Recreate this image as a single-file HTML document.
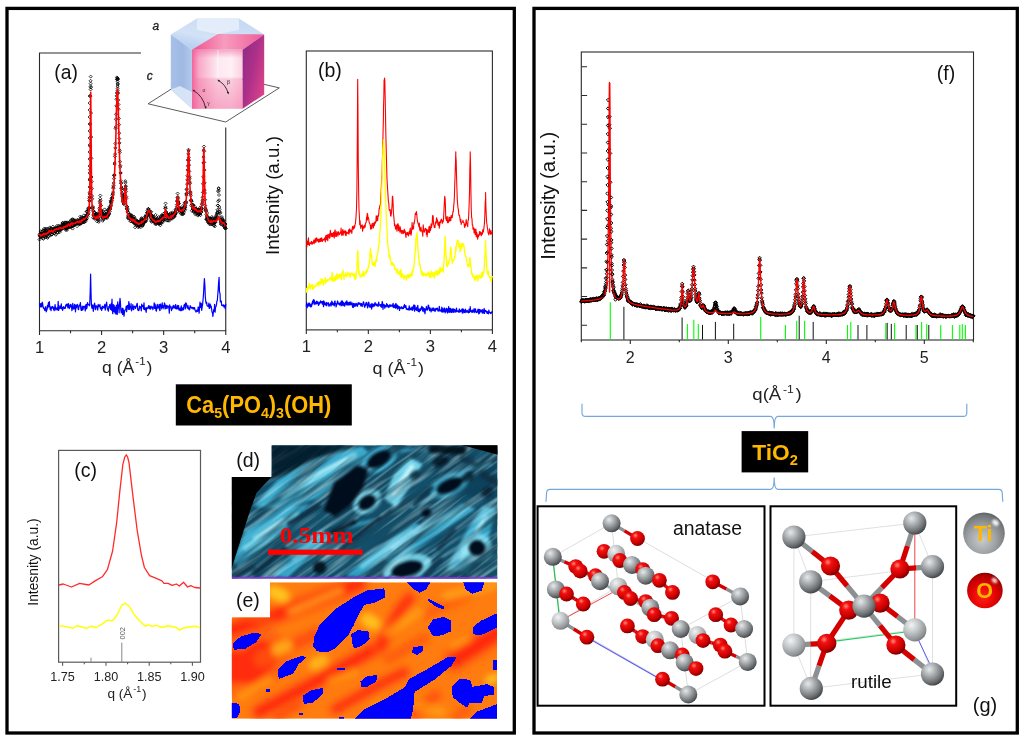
<!DOCTYPE html>
<html><head><meta charset="utf-8"><title>Figure</title>
<style>html,body{margin:0;padding:0;background:#fff}svg{display:block}text{white-space:pre}</style></head>
<body><svg width="1024" height="739" viewBox="0 0 1024 739">
<defs>
<linearGradient id="hbL" x1="0" y1="0" x2="1" y2="0"><stop offset="0" stop-color="#a7c0e8"/><stop offset="0.55" stop-color="#9fb9e3"/><stop offset="1" stop-color="#b4c9ec"/></linearGradient>
<linearGradient id="hbT" x1="0" y1="1" x2="0.7" y2="0"><stop offset="0" stop-color="#a9c5ee"/><stop offset="0.45" stop-color="#d3e2f6"/><stop offset="1" stop-color="#c6d9f3"/></linearGradient>
<linearGradient id="hpT" x1="0" y1="0" x2="1" y2="0"><stop offset="0" stop-color="#ef4f8c"/><stop offset="0.45" stop-color="#f79cbf"/><stop offset="1" stop-color="#ee5c96"/></linearGradient>
<linearGradient id="hpF" x1="0" y1="0" x2="1" y2="0"><stop offset="0" stop-color="#f1649c"/><stop offset="0.14" stop-color="#f8a9c7"/><stop offset="0.5" stop-color="#fde8f0"/><stop offset="0.78" stop-color="#fef0f5"/><stop offset="1" stop-color="#fbd0e0"/></linearGradient>
<linearGradient id="hpF2" x1="0" y1="0" x2="0" y2="1"><stop offset="0" stop-color="#f0609a" stop-opacity="0.5"/><stop offset="0.14" stop-color="#f0609a" stop-opacity="0"/><stop offset="0.46" stop-color="#f0609a" stop-opacity="0"/><stop offset="0.5" stop-color="#f2709f" stop-opacity="0.28"/><stop offset="1" stop-color="#f0649b" stop-opacity="0.5"/></linearGradient>
<linearGradient id="hpR" x1="0" y1="0" x2="1" y2="0.8"><stop offset="0" stop-color="#8c2a84"/><stop offset="0.5" stop-color="#ac3089"/><stop offset="1" stop-color="#de4389"/></linearGradient>
<clipPath id="cd"><path d="M271.7 445.2H497.5V578.7H231.8V476.9H271.7Z"/></clipPath>
<filter id="bl4" x="-10%" y="-10%" width="120%" height="120%"><feGaussianBlur stdDeviation="3.2"/></filter>
<filter id="bl3" x="-10%" y="-10%" width="120%" height="120%"><feGaussianBlur stdDeviation="2.6"/></filter>
<filter id="bl2" x="-10%" y="-10%" width="120%" height="120%"><feGaussianBlur stdDeviation="1.5"/></filter>
<filter id="bl1" x="-10%" y="-10%" width="120%" height="120%"><feGaussianBlur stdDeviation="0.8"/></filter>
<filter id="tex" x="0" y="0" width="100%" height="100%"><feTurbulence type="fractalNoise" baseFrequency="0.011 0.1" numOctaves="3" seed="14"/><feColorMatrix type="matrix" values="0 0 0 0 0.01  0 0 0 0 0.06  0 0 0 0 0.1  3.2 0 0 0 -1.45"/></filter>
<filter id="texl" x="0" y="0" width="100%" height="100%"><feTurbulence type="fractalNoise" baseFrequency="0.018 0.22" numOctaves="2" seed="9"/><feColorMatrix type="matrix" values="0 0 0 0 0.62  0 0 0 0 0.9  0 0 0 0 0.96  0 2.4 0 0 -1.05"/></filter>
<clipPath id="ce"><path d="M270 582.3H497.0V718.8H231.8V617.5H270Z"/></clipPath>
<radialGradient id="gTi" cx="0.36" cy="0.3" r="0.75"><stop offset="0" stop-color="#e6e9ea"/><stop offset="0.35" stop-color="#aeb2b4"/><stop offset="0.75" stop-color="#6e7274"/><stop offset="1" stop-color="#3c3f41"/></radialGradient>
<radialGradient id="gTiL" cx="0.36" cy="0.3" r="0.8"><stop offset="0" stop-color="#f2f4f4"/><stop offset="0.4" stop-color="#c2c6c8"/><stop offset="0.8" stop-color="#8e9294"/><stop offset="1" stop-color="#606466"/></radialGradient>
<radialGradient id="gO" cx="0.36" cy="0.3" r="0.75"><stop offset="0" stop-color="#ff8a7a"/><stop offset="0.25" stop-color="#f21010"/><stop offset="0.7" stop-color="#c80000"/><stop offset="1" stop-color="#6a0000"/></radialGradient>
<radialGradient id="lTi" cx="0.45" cy="0.66" r="0.72"><stop offset="0" stop-color="#c8ccce"/><stop offset="0.45" stop-color="#a0a4a6"/><stop offset="0.8" stop-color="#74787a"/><stop offset="1" stop-color="#505456"/></radialGradient>
<radialGradient id="lO" cx="0.45" cy="0.66" r="0.72"><stop offset="0" stop-color="#ff2418"/><stop offset="0.45" stop-color="#e80404"/><stop offset="0.8" stop-color="#b00000"/><stop offset="1" stop-color="#6c0000"/></radialGradient>
<filter id="blh" x="-50%" y="-50%" width="200%" height="200%"><feGaussianBlur stdDeviation="0.8"/></filter>
</defs>
<rect width="1024" height="739" fill="#fff"/>
<rect x="7" y="8.4" width="507.3" height="724.6" fill="none" stroke="#000" stroke-width="3.3"/>
<rect x="534" y="8.4" width="483.3" height="724.6" fill="none" stroke="#000" stroke-width="3.3"/>
<path d="M141 53.0H39.5V330.75H225.75V127.5" fill="none" stroke="#2a2a2a" stroke-width="1.1"/>
<path d="M39.50 330.75v4.2M101.58 330.75v4.2M163.67 330.75v4.2M225.75 330.75v4.2M70.54 330.75v2.4M132.62 330.75v2.4M194.71 330.75v2.4" stroke="#2a2a2a" stroke-width="1.1" fill="none"/>
<text x="39.5" y="353" font-size="16.6" text-anchor="middle" fill="#222" font-family="'Liberation Sans',sans-serif">1</text>
<text x="101.6" y="353" font-size="16.6" text-anchor="middle" fill="#222" font-family="'Liberation Sans',sans-serif">2</text>
<text x="163.7" y="353" font-size="16.6" text-anchor="middle" fill="#222" font-family="'Liberation Sans',sans-serif">3</text>
<text x="225.8" y="353" font-size="16.6" text-anchor="middle" fill="#222" font-family="'Liberation Sans',sans-serif">4</text>
<text x="102" y="372.5" font-size="16.8" fill="#222" textLength="50.5" lengthAdjust="spacingAndGlyphs" font-family="'Liberation Sans',sans-serif">q (Å<tspan dy="-7.5" dx="1" font-size="11">-1</tspan><tspan dy="7.5" dx="1">)</tspan></text>
<text x="54.3" y="79" font-size="19.3" fill="#111" font-family="'Liberation Sans',sans-serif">(a)</text>
<path d="M38.0 239.5l1.5 -1.5 1.5 1.5 -1.5 1.5zM38.2 234.5l1.5 -1.5 1.5 1.5 -1.5 1.5zM38.3 235.6l1.5 -1.5 1.5 1.5 -1.5 1.5zM38.5 236.4l1.5 -1.5 1.5 1.5 -1.5 1.5zM38.7 233.6l1.5 -1.5 1.5 1.5 -1.5 1.5zM38.8 235.3l1.5 -1.5 1.5 1.5 -1.5 1.5zM39.0 235.3l1.5 -1.5 1.5 1.5 -1.5 1.5zM39.2 231.2l1.5 -1.5 1.5 1.5 -1.5 1.5zM39.4 237.5l1.5 -1.5 1.5 1.5 -1.5 1.5zM39.5 236.5l1.5 -1.5 1.5 1.5 -1.5 1.5zM39.7 233.6l1.5 -1.5 1.5 1.5 -1.5 1.5zM39.9 234.6l1.5 -1.5 1.5 1.5 -1.5 1.5zM40.0 236.1l1.5 -1.5 1.5 1.5 -1.5 1.5zM40.2 234.2l1.5 -1.5 1.5 1.5 -1.5 1.5zM40.4 234.2l1.5 -1.5 1.5 1.5 -1.5 1.5zM40.5 231.4l1.5 -1.5 1.5 1.5 -1.5 1.5zM40.7 235.9l1.5 -1.5 1.5 1.5 -1.5 1.5zM40.9 234.9l1.5 -1.5 1.5 1.5 -1.5 1.5zM41.1 235.2l1.5 -1.5 1.5 1.5 -1.5 1.5zM41.2 230.9l1.5 -1.5 1.5 1.5 -1.5 1.5zM41.4 238.2l1.5 -1.5 1.5 1.5 -1.5 1.5zM41.6 234.7l1.5 -1.5 1.5 1.5 -1.5 1.5zM41.7 233.4l1.5 -1.5 1.5 1.5 -1.5 1.5zM41.9 238.9l1.5 -1.5 1.5 1.5 -1.5 1.5zM42.1 234.0l1.5 -1.5 1.5 1.5 -1.5 1.5zM42.2 230.7l1.5 -1.5 1.5 1.5 -1.5 1.5zM42.4 233.1l1.5 -1.5 1.5 1.5 -1.5 1.5zM42.6 228.7l1.5 -1.5 1.5 1.5 -1.5 1.5zM42.7 236.3l1.5 -1.5 1.5 1.5 -1.5 1.5zM42.9 232.9l1.5 -1.5 1.5 1.5 -1.5 1.5zM43.1 232.1l1.5 -1.5 1.5 1.5 -1.5 1.5zM43.3 236.2l1.5 -1.5 1.5 1.5 -1.5 1.5zM43.4 229.8l1.5 -1.5 1.5 1.5 -1.5 1.5zM43.6 234.8l1.5 -1.5 1.5 1.5 -1.5 1.5zM43.8 228.8l1.5 -1.5 1.5 1.5 -1.5 1.5zM43.9 231.9l1.5 -1.5 1.5 1.5 -1.5 1.5zM44.1 230.6l1.5 -1.5 1.5 1.5 -1.5 1.5zM44.3 236.7l1.5 -1.5 1.5 1.5 -1.5 1.5zM44.4 237.3l1.5 -1.5 1.5 1.5 -1.5 1.5zM44.6 232.4l1.5 -1.5 1.5 1.5 -1.5 1.5zM44.8 235.1l1.5 -1.5 1.5 1.5 -1.5 1.5zM44.9 232.7l1.5 -1.5 1.5 1.5 -1.5 1.5zM45.1 234.3l1.5 -1.5 1.5 1.5 -1.5 1.5zM45.3 231.2l1.5 -1.5 1.5 1.5 -1.5 1.5zM45.5 229.0l1.5 -1.5 1.5 1.5 -1.5 1.5zM45.6 228.7l1.5 -1.5 1.5 1.5 -1.5 1.5zM45.8 233.6l1.5 -1.5 1.5 1.5 -1.5 1.5zM46.0 237.9l1.5 -1.5 1.5 1.5 -1.5 1.5zM46.1 233.3l1.5 -1.5 1.5 1.5 -1.5 1.5zM46.3 231.4l1.5 -1.5 1.5 1.5 -1.5 1.5zM46.5 236.9l1.5 -1.5 1.5 1.5 -1.5 1.5zM46.6 233.0l1.5 -1.5 1.5 1.5 -1.5 1.5zM46.8 232.6l1.5 -1.5 1.5 1.5 -1.5 1.5zM47.0 232.9l1.5 -1.5 1.5 1.5 -1.5 1.5zM47.2 232.0l1.5 -1.5 1.5 1.5 -1.5 1.5zM47.3 231.5l1.5 -1.5 1.5 1.5 -1.5 1.5zM47.5 228.8l1.5 -1.5 1.5 1.5 -1.5 1.5zM47.7 233.2l1.5 -1.5 1.5 1.5 -1.5 1.5zM47.8 231.8l1.5 -1.5 1.5 1.5 -1.5 1.5zM48.0 234.7l1.5 -1.5 1.5 1.5 -1.5 1.5zM48.2 231.0l1.5 -1.5 1.5 1.5 -1.5 1.5zM48.3 227.4l1.5 -1.5 1.5 1.5 -1.5 1.5zM48.5 231.5l1.5 -1.5 1.5 1.5 -1.5 1.5zM48.7 235.6l1.5 -1.5 1.5 1.5 -1.5 1.5zM48.8 230.8l1.5 -1.5 1.5 1.5 -1.5 1.5zM49.0 229.5l1.5 -1.5 1.5 1.5 -1.5 1.5zM49.2 228.8l1.5 -1.5 1.5 1.5 -1.5 1.5zM49.4 229.0l1.5 -1.5 1.5 1.5 -1.5 1.5zM49.5 230.7l1.5 -1.5 1.5 1.5 -1.5 1.5zM49.7 228.6l1.5 -1.5 1.5 1.5 -1.5 1.5zM49.9 234.7l1.5 -1.5 1.5 1.5 -1.5 1.5zM50.0 230.5l1.5 -1.5 1.5 1.5 -1.5 1.5zM50.2 231.4l1.5 -1.5 1.5 1.5 -1.5 1.5zM50.4 234.4l1.5 -1.5 1.5 1.5 -1.5 1.5zM50.5 234.5l1.5 -1.5 1.5 1.5 -1.5 1.5zM50.7 230.5l1.5 -1.5 1.5 1.5 -1.5 1.5zM50.9 231.6l1.5 -1.5 1.5 1.5 -1.5 1.5zM51.0 232.5l1.5 -1.5 1.5 1.5 -1.5 1.5zM51.2 230.3l1.5 -1.5 1.5 1.5 -1.5 1.5zM51.4 226.6l1.5 -1.5 1.5 1.5 -1.5 1.5zM51.6 232.1l1.5 -1.5 1.5 1.5 -1.5 1.5zM51.7 232.6l1.5 -1.5 1.5 1.5 -1.5 1.5zM51.9 231.5l1.5 -1.5 1.5 1.5 -1.5 1.5zM52.1 228.3l1.5 -1.5 1.5 1.5 -1.5 1.5zM52.2 229.9l1.5 -1.5 1.5 1.5 -1.5 1.5zM52.4 228.9l1.5 -1.5 1.5 1.5 -1.5 1.5zM52.6 229.6l1.5 -1.5 1.5 1.5 -1.5 1.5zM52.7 233.2l1.5 -1.5 1.5 1.5 -1.5 1.5zM52.9 233.6l1.5 -1.5 1.5 1.5 -1.5 1.5zM53.1 231.6l1.5 -1.5 1.5 1.5 -1.5 1.5zM53.3 231.3l1.5 -1.5 1.5 1.5 -1.5 1.5zM53.4 231.5l1.5 -1.5 1.5 1.5 -1.5 1.5zM53.6 229.8l1.5 -1.5 1.5 1.5 -1.5 1.5zM53.8 229.6l1.5 -1.5 1.5 1.5 -1.5 1.5zM53.9 228.2l1.5 -1.5 1.5 1.5 -1.5 1.5zM54.1 229.5l1.5 -1.5 1.5 1.5 -1.5 1.5zM54.3 234.8l1.5 -1.5 1.5 1.5 -1.5 1.5zM54.4 231.5l1.5 -1.5 1.5 1.5 -1.5 1.5zM54.6 228.7l1.5 -1.5 1.5 1.5 -1.5 1.5zM54.8 228.3l1.5 -1.5 1.5 1.5 -1.5 1.5zM54.9 227.4l1.5 -1.5 1.5 1.5 -1.5 1.5zM55.1 230.2l1.5 -1.5 1.5 1.5 -1.5 1.5zM55.3 230.1l1.5 -1.5 1.5 1.5 -1.5 1.5zM55.5 225.8l1.5 -1.5 1.5 1.5 -1.5 1.5zM55.6 230.2l1.5 -1.5 1.5 1.5 -1.5 1.5zM55.8 227.7l1.5 -1.5 1.5 1.5 -1.5 1.5zM56.0 232.3l1.5 -1.5 1.5 1.5 -1.5 1.5zM56.1 229.3l1.5 -1.5 1.5 1.5 -1.5 1.5zM56.3 232.8l1.5 -1.5 1.5 1.5 -1.5 1.5zM56.5 227.7l1.5 -1.5 1.5 1.5 -1.5 1.5zM56.6 228.1l1.5 -1.5 1.5 1.5 -1.5 1.5zM56.8 229.4l1.5 -1.5 1.5 1.5 -1.5 1.5zM57.0 231.0l1.5 -1.5 1.5 1.5 -1.5 1.5zM57.2 229.9l1.5 -1.5 1.5 1.5 -1.5 1.5zM57.3 225.7l1.5 -1.5 1.5 1.5 -1.5 1.5zM57.5 228.9l1.5 -1.5 1.5 1.5 -1.5 1.5zM57.7 228.4l1.5 -1.5 1.5 1.5 -1.5 1.5zM57.8 227.3l1.5 -1.5 1.5 1.5 -1.5 1.5zM58.0 226.8l1.5 -1.5 1.5 1.5 -1.5 1.5zM58.2 232.2l1.5 -1.5 1.5 1.5 -1.5 1.5zM58.3 227.3l1.5 -1.5 1.5 1.5 -1.5 1.5zM58.5 226.2l1.5 -1.5 1.5 1.5 -1.5 1.5zM58.7 229.5l1.5 -1.5 1.5 1.5 -1.5 1.5zM58.8 228.3l1.5 -1.5 1.5 1.5 -1.5 1.5zM59.0 227.8l1.5 -1.5 1.5 1.5 -1.5 1.5zM59.2 229.7l1.5 -1.5 1.5 1.5 -1.5 1.5zM59.4 228.9l1.5 -1.5 1.5 1.5 -1.5 1.5zM59.5 228.6l1.5 -1.5 1.5 1.5 -1.5 1.5zM59.7 229.9l1.5 -1.5 1.5 1.5 -1.5 1.5zM59.9 228.3l1.5 -1.5 1.5 1.5 -1.5 1.5zM60.0 226.2l1.5 -1.5 1.5 1.5 -1.5 1.5zM60.2 226.7l1.5 -1.5 1.5 1.5 -1.5 1.5zM60.4 226.3l1.5 -1.5 1.5 1.5 -1.5 1.5zM60.5 227.9l1.5 -1.5 1.5 1.5 -1.5 1.5zM60.7 224.9l1.5 -1.5 1.5 1.5 -1.5 1.5zM60.9 223.1l1.5 -1.5 1.5 1.5 -1.5 1.5zM61.0 227.5l1.5 -1.5 1.5 1.5 -1.5 1.5zM61.2 224.1l1.5 -1.5 1.5 1.5 -1.5 1.5zM61.4 222.7l1.5 -1.5 1.5 1.5 -1.5 1.5zM61.6 227.9l1.5 -1.5 1.5 1.5 -1.5 1.5zM61.7 225.4l1.5 -1.5 1.5 1.5 -1.5 1.5zM61.9 228.1l1.5 -1.5 1.5 1.5 -1.5 1.5zM62.1 225.7l1.5 -1.5 1.5 1.5 -1.5 1.5zM62.2 224.3l1.5 -1.5 1.5 1.5 -1.5 1.5zM62.4 223.9l1.5 -1.5 1.5 1.5 -1.5 1.5zM62.6 225.6l1.5 -1.5 1.5 1.5 -1.5 1.5zM62.7 226.1l1.5 -1.5 1.5 1.5 -1.5 1.5zM62.9 224.7l1.5 -1.5 1.5 1.5 -1.5 1.5zM63.1 225.9l1.5 -1.5 1.5 1.5 -1.5 1.5zM63.3 223.0l1.5 -1.5 1.5 1.5 -1.5 1.5zM63.4 226.5l1.5 -1.5 1.5 1.5 -1.5 1.5zM63.6 222.3l1.5 -1.5 1.5 1.5 -1.5 1.5zM63.8 225.9l1.5 -1.5 1.5 1.5 -1.5 1.5zM63.9 227.9l1.5 -1.5 1.5 1.5 -1.5 1.5zM64.1 228.7l1.5 -1.5 1.5 1.5 -1.5 1.5zM64.3 230.1l1.5 -1.5 1.5 1.5 -1.5 1.5zM64.4 222.5l1.5 -1.5 1.5 1.5 -1.5 1.5zM64.6 227.8l1.5 -1.5 1.5 1.5 -1.5 1.5zM64.8 228.8l1.5 -1.5 1.5 1.5 -1.5 1.5zM64.9 228.2l1.5 -1.5 1.5 1.5 -1.5 1.5zM65.1 223.7l1.5 -1.5 1.5 1.5 -1.5 1.5zM65.3 226.8l1.5 -1.5 1.5 1.5 -1.5 1.5zM65.5 230.0l1.5 -1.5 1.5 1.5 -1.5 1.5zM65.6 222.3l1.5 -1.5 1.5 1.5 -1.5 1.5zM65.8 226.7l1.5 -1.5 1.5 1.5 -1.5 1.5zM66.0 228.2l1.5 -1.5 1.5 1.5 -1.5 1.5zM66.1 223.9l1.5 -1.5 1.5 1.5 -1.5 1.5zM66.3 226.8l1.5 -1.5 1.5 1.5 -1.5 1.5zM66.5 223.0l1.5 -1.5 1.5 1.5 -1.5 1.5zM66.6 223.5l1.5 -1.5 1.5 1.5 -1.5 1.5zM66.8 223.4l1.5 -1.5 1.5 1.5 -1.5 1.5zM67.0 225.7l1.5 -1.5 1.5 1.5 -1.5 1.5zM67.1 225.0l1.5 -1.5 1.5 1.5 -1.5 1.5zM67.3 227.3l1.5 -1.5 1.5 1.5 -1.5 1.5zM67.5 222.9l1.5 -1.5 1.5 1.5 -1.5 1.5zM67.7 224.7l1.5 -1.5 1.5 1.5 -1.5 1.5zM67.8 227.2l1.5 -1.5 1.5 1.5 -1.5 1.5zM68.0 226.2l1.5 -1.5 1.5 1.5 -1.5 1.5zM68.2 221.8l1.5 -1.5 1.5 1.5 -1.5 1.5zM68.3 226.3l1.5 -1.5 1.5 1.5 -1.5 1.5zM68.5 223.6l1.5 -1.5 1.5 1.5 -1.5 1.5zM68.7 225.5l1.5 -1.5 1.5 1.5 -1.5 1.5zM68.8 225.3l1.5 -1.5 1.5 1.5 -1.5 1.5zM69.0 227.3l1.5 -1.5 1.5 1.5 -1.5 1.5zM69.2 224.8l1.5 -1.5 1.5 1.5 -1.5 1.5zM69.4 220.2l1.5 -1.5 1.5 1.5 -1.5 1.5zM69.5 221.2l1.5 -1.5 1.5 1.5 -1.5 1.5zM69.7 226.0l1.5 -1.5 1.5 1.5 -1.5 1.5zM69.9 223.7l1.5 -1.5 1.5 1.5 -1.5 1.5zM70.0 226.8l1.5 -1.5 1.5 1.5 -1.5 1.5zM70.2 224.8l1.5 -1.5 1.5 1.5 -1.5 1.5zM70.4 222.3l1.5 -1.5 1.5 1.5 -1.5 1.5zM70.5 226.5l1.5 -1.5 1.5 1.5 -1.5 1.5zM70.7 222.1l1.5 -1.5 1.5 1.5 -1.5 1.5zM70.9 219.2l1.5 -1.5 1.5 1.5 -1.5 1.5zM71.0 228.6l1.5 -1.5 1.5 1.5 -1.5 1.5zM71.2 219.4l1.5 -1.5 1.5 1.5 -1.5 1.5zM71.4 225.2l1.5 -1.5 1.5 1.5 -1.5 1.5zM71.6 225.8l1.5 -1.5 1.5 1.5 -1.5 1.5zM71.7 223.9l1.5 -1.5 1.5 1.5 -1.5 1.5zM71.9 219.7l1.5 -1.5 1.5 1.5 -1.5 1.5zM72.1 225.8l1.5 -1.5 1.5 1.5 -1.5 1.5zM72.2 220.1l1.5 -1.5 1.5 1.5 -1.5 1.5zM72.4 220.3l1.5 -1.5 1.5 1.5 -1.5 1.5zM72.6 222.5l1.5 -1.5 1.5 1.5 -1.5 1.5zM72.7 225.0l1.5 -1.5 1.5 1.5 -1.5 1.5zM72.9 223.9l1.5 -1.5 1.5 1.5 -1.5 1.5zM73.1 225.0l1.5 -1.5 1.5 1.5 -1.5 1.5zM73.3 222.0l1.5 -1.5 1.5 1.5 -1.5 1.5zM73.4 222.6l1.5 -1.5 1.5 1.5 -1.5 1.5zM73.6 220.3l1.5 -1.5 1.5 1.5 -1.5 1.5zM73.8 222.1l1.5 -1.5 1.5 1.5 -1.5 1.5zM73.9 224.2l1.5 -1.5 1.5 1.5 -1.5 1.5zM74.1 222.0l1.5 -1.5 1.5 1.5 -1.5 1.5zM74.3 223.8l1.5 -1.5 1.5 1.5 -1.5 1.5zM74.4 221.3l1.5 -1.5 1.5 1.5 -1.5 1.5zM74.6 221.2l1.5 -1.5 1.5 1.5 -1.5 1.5zM74.8 222.6l1.5 -1.5 1.5 1.5 -1.5 1.5zM74.9 222.0l1.5 -1.5 1.5 1.5 -1.5 1.5zM75.1 223.7l1.5 -1.5 1.5 1.5 -1.5 1.5zM75.3 222.7l1.5 -1.5 1.5 1.5 -1.5 1.5zM75.5 226.2l1.5 -1.5 1.5 1.5 -1.5 1.5zM75.6 221.7l1.5 -1.5 1.5 1.5 -1.5 1.5zM75.8 221.6l1.5 -1.5 1.5 1.5 -1.5 1.5zM76.0 219.7l1.5 -1.5 1.5 1.5 -1.5 1.5zM76.1 222.1l1.5 -1.5 1.5 1.5 -1.5 1.5zM76.3 223.5l1.5 -1.5 1.5 1.5 -1.5 1.5zM76.5 220.2l1.5 -1.5 1.5 1.5 -1.5 1.5zM76.6 221.7l1.5 -1.5 1.5 1.5 -1.5 1.5zM76.8 223.4l1.5 -1.5 1.5 1.5 -1.5 1.5zM77.0 221.4l1.5 -1.5 1.5 1.5 -1.5 1.5zM77.1 220.4l1.5 -1.5 1.5 1.5 -1.5 1.5zM77.3 223.8l1.5 -1.5 1.5 1.5 -1.5 1.5zM77.5 221.7l1.5 -1.5 1.5 1.5 -1.5 1.5zM77.7 222.4l1.5 -1.5 1.5 1.5 -1.5 1.5zM77.8 224.1l1.5 -1.5 1.5 1.5 -1.5 1.5zM78.0 224.0l1.5 -1.5 1.5 1.5 -1.5 1.5zM78.2 220.5l1.5 -1.5 1.5 1.5 -1.5 1.5zM78.3 220.0l1.5 -1.5 1.5 1.5 -1.5 1.5zM78.5 221.8l1.5 -1.5 1.5 1.5 -1.5 1.5zM78.7 220.8l1.5 -1.5 1.5 1.5 -1.5 1.5zM78.8 216.6l1.5 -1.5 1.5 1.5 -1.5 1.5zM79.0 223.9l1.5 -1.5 1.5 1.5 -1.5 1.5zM79.2 220.9l1.5 -1.5 1.5 1.5 -1.5 1.5zM79.4 222.5l1.5 -1.5 1.5 1.5 -1.5 1.5zM79.5 218.0l1.5 -1.5 1.5 1.5 -1.5 1.5zM79.7 223.6l1.5 -1.5 1.5 1.5 -1.5 1.5zM79.9 219.2l1.5 -1.5 1.5 1.5 -1.5 1.5zM80.0 220.3l1.5 -1.5 1.5 1.5 -1.5 1.5zM80.2 217.2l1.5 -1.5 1.5 1.5 -1.5 1.5zM80.4 220.0l1.5 -1.5 1.5 1.5 -1.5 1.5zM80.5 219.8l1.5 -1.5 1.5 1.5 -1.5 1.5zM80.7 219.8l1.5 -1.5 1.5 1.5 -1.5 1.5zM80.9 221.2l1.5 -1.5 1.5 1.5 -1.5 1.5zM81.0 220.2l1.5 -1.5 1.5 1.5 -1.5 1.5zM81.2 222.2l1.5 -1.5 1.5 1.5 -1.5 1.5zM81.4 218.8l1.5 -1.5 1.5 1.5 -1.5 1.5zM81.6 217.5l1.5 -1.5 1.5 1.5 -1.5 1.5zM81.7 219.7l1.5 -1.5 1.5 1.5 -1.5 1.5zM81.9 221.1l1.5 -1.5 1.5 1.5 -1.5 1.5zM82.1 222.4l1.5 -1.5 1.5 1.5 -1.5 1.5zM82.2 221.3l1.5 -1.5 1.5 1.5 -1.5 1.5zM82.4 215.3l1.5 -1.5 1.5 1.5 -1.5 1.5zM82.6 220.1l1.5 -1.5 1.5 1.5 -1.5 1.5zM82.7 222.5l1.5 -1.5 1.5 1.5 -1.5 1.5zM82.9 219.2l1.5 -1.5 1.5 1.5 -1.5 1.5zM83.1 217.7l1.5 -1.5 1.5 1.5 -1.5 1.5zM83.2 219.5l1.5 -1.5 1.5 1.5 -1.5 1.5zM83.4 217.5l1.5 -1.5 1.5 1.5 -1.5 1.5zM83.6 220.0l1.5 -1.5 1.5 1.5 -1.5 1.5zM83.8 218.4l1.5 -1.5 1.5 1.5 -1.5 1.5zM83.9 221.5l1.5 -1.5 1.5 1.5 -1.5 1.5zM84.1 219.2l1.5 -1.5 1.5 1.5 -1.5 1.5zM84.3 216.3l1.5 -1.5 1.5 1.5 -1.5 1.5zM84.4 219.1l1.5 -1.5 1.5 1.5 -1.5 1.5zM84.6 219.7l1.5 -1.5 1.5 1.5 -1.5 1.5zM84.8 216.0l1.5 -1.5 1.5 1.5 -1.5 1.5zM84.9 216.1l1.5 -1.5 1.5 1.5 -1.5 1.5zM85.1 211.6l1.5 -1.5 1.5 1.5 -1.5 1.5zM85.3 218.7l1.5 -1.5 1.5 1.5 -1.5 1.5zM85.5 214.9l1.5 -1.5 1.5 1.5 -1.5 1.5zM85.6 211.1l1.5 -1.5 1.5 1.5 -1.5 1.5zM85.8 211.5l1.5 -1.5 1.5 1.5 -1.5 1.5zM86.0 214.6l1.5 -1.5 1.5 1.5 -1.5 1.5zM86.1 216.4l1.5 -1.5 1.5 1.5 -1.5 1.5zM86.3 213.9l1.5 -1.5 1.5 1.5 -1.5 1.5zM86.5 214.5l1.5 -1.5 1.5 1.5 -1.5 1.5zM86.6 210.1l1.5 -1.5 1.5 1.5 -1.5 1.5zM86.8 208.6l1.5 -1.5 1.5 1.5 -1.5 1.5zM87.0 212.7l1.5 -1.5 1.5 1.5 -1.5 1.5zM87.1 210.4l1.5 -1.5 1.5 1.5 -1.5 1.5zM87.3 207.5l1.5 -1.5 1.5 1.5 -1.5 1.5zM87.5 208.4l1.5 -1.5 1.5 1.5 -1.5 1.5zM87.7 200.6l1.5 -1.5 1.5 1.5 -1.5 1.5zM87.8 198.3l1.5 -1.5 1.5 1.5 -1.5 1.5zM88.0 196.9l1.5 -1.5 1.5 1.5 -1.5 1.5zM88.2 192.3l1.5 -1.5 1.5 1.5 -1.5 1.5zM88.3 179.0l1.5 -1.5 1.5 1.5 -1.5 1.5zM88.5 169.8l1.5 -1.5 1.5 1.5 -1.5 1.5zM88.7 146.2l1.5 -1.5 1.5 1.5 -1.5 1.5zM88.8 123.9l1.5 -1.5 1.5 1.5 -1.5 1.5zM89.0 96.1l1.5 -1.5 1.5 1.5 -1.5 1.5zM89.2 76.6l1.5 -1.5 1.5 1.5 -1.5 1.5zM89.4 87.5l1.5 -1.5 1.5 1.5 -1.5 1.5zM89.5 113.0l1.5 -1.5 1.5 1.5 -1.5 1.5zM89.7 137.0l1.5 -1.5 1.5 1.5 -1.5 1.5zM89.9 158.4l1.5 -1.5 1.5 1.5 -1.5 1.5zM90.0 177.0l1.5 -1.5 1.5 1.5 -1.5 1.5zM90.2 181.6l1.5 -1.5 1.5 1.5 -1.5 1.5zM90.4 188.6l1.5 -1.5 1.5 1.5 -1.5 1.5zM90.5 196.0l1.5 -1.5 1.5 1.5 -1.5 1.5zM90.7 198.8l1.5 -1.5 1.5 1.5 -1.5 1.5zM90.9 207.6l1.5 -1.5 1.5 1.5 -1.5 1.5zM91.0 207.5l1.5 -1.5 1.5 1.5 -1.5 1.5zM91.2 206.6l1.5 -1.5 1.5 1.5 -1.5 1.5zM91.4 208.7l1.5 -1.5 1.5 1.5 -1.5 1.5zM91.6 217.8l1.5 -1.5 1.5 1.5 -1.5 1.5zM91.7 210.8l1.5 -1.5 1.5 1.5 -1.5 1.5zM91.9 211.2l1.5 -1.5 1.5 1.5 -1.5 1.5zM92.1 214.3l1.5 -1.5 1.5 1.5 -1.5 1.5zM92.2 215.6l1.5 -1.5 1.5 1.5 -1.5 1.5zM92.4 215.1l1.5 -1.5 1.5 1.5 -1.5 1.5zM92.6 212.9l1.5 -1.5 1.5 1.5 -1.5 1.5zM92.7 212.7l1.5 -1.5 1.5 1.5 -1.5 1.5zM92.9 217.0l1.5 -1.5 1.5 1.5 -1.5 1.5zM93.1 215.8l1.5 -1.5 1.5 1.5 -1.5 1.5zM93.2 212.4l1.5 -1.5 1.5 1.5 -1.5 1.5zM93.4 219.0l1.5 -1.5 1.5 1.5 -1.5 1.5zM93.6 218.3l1.5 -1.5 1.5 1.5 -1.5 1.5zM93.8 216.1l1.5 -1.5 1.5 1.5 -1.5 1.5zM93.9 216.2l1.5 -1.5 1.5 1.5 -1.5 1.5zM94.1 217.4l1.5 -1.5 1.5 1.5 -1.5 1.5zM94.3 215.4l1.5 -1.5 1.5 1.5 -1.5 1.5zM94.4 214.0l1.5 -1.5 1.5 1.5 -1.5 1.5zM94.6 217.9l1.5 -1.5 1.5 1.5 -1.5 1.5zM94.8 213.9l1.5 -1.5 1.5 1.5 -1.5 1.5zM94.9 218.2l1.5 -1.5 1.5 1.5 -1.5 1.5zM95.1 214.0l1.5 -1.5 1.5 1.5 -1.5 1.5zM95.3 217.1l1.5 -1.5 1.5 1.5 -1.5 1.5zM95.5 217.0l1.5 -1.5 1.5 1.5 -1.5 1.5zM95.6 221.4l1.5 -1.5 1.5 1.5 -1.5 1.5zM95.8 214.9l1.5 -1.5 1.5 1.5 -1.5 1.5zM96.0 214.0l1.5 -1.5 1.5 1.5 -1.5 1.5zM96.1 215.7l1.5 -1.5 1.5 1.5 -1.5 1.5zM96.3 214.6l1.5 -1.5 1.5 1.5 -1.5 1.5zM96.5 215.7l1.5 -1.5 1.5 1.5 -1.5 1.5zM96.6 217.9l1.5 -1.5 1.5 1.5 -1.5 1.5zM96.8 218.5l1.5 -1.5 1.5 1.5 -1.5 1.5zM97.0 220.3l1.5 -1.5 1.5 1.5 -1.5 1.5zM97.1 214.5l1.5 -1.5 1.5 1.5 -1.5 1.5zM97.3 221.9l1.5 -1.5 1.5 1.5 -1.5 1.5zM97.5 219.8l1.5 -1.5 1.5 1.5 -1.5 1.5zM97.7 214.0l1.5 -1.5 1.5 1.5 -1.5 1.5zM97.8 208.2l1.5 -1.5 1.5 1.5 -1.5 1.5zM98.0 211.8l1.5 -1.5 1.5 1.5 -1.5 1.5zM98.2 210.0l1.5 -1.5 1.5 1.5 -1.5 1.5zM98.3 201.6l1.5 -1.5 1.5 1.5 -1.5 1.5zM98.5 203.2l1.5 -1.5 1.5 1.5 -1.5 1.5zM98.7 198.7l1.5 -1.5 1.5 1.5 -1.5 1.5zM98.8 195.5l1.5 -1.5 1.5 1.5 -1.5 1.5zM99.0 200.5l1.5 -1.5 1.5 1.5 -1.5 1.5zM99.2 205.3l1.5 -1.5 1.5 1.5 -1.5 1.5zM99.3 205.7l1.5 -1.5 1.5 1.5 -1.5 1.5zM99.5 210.3l1.5 -1.5 1.5 1.5 -1.5 1.5zM99.7 210.4l1.5 -1.5 1.5 1.5 -1.5 1.5zM99.9 211.6l1.5 -1.5 1.5 1.5 -1.5 1.5zM100.0 214.6l1.5 -1.5 1.5 1.5 -1.5 1.5zM100.2 216.4l1.5 -1.5 1.5 1.5 -1.5 1.5zM100.4 214.4l1.5 -1.5 1.5 1.5 -1.5 1.5zM100.5 210.9l1.5 -1.5 1.5 1.5 -1.5 1.5zM100.7 217.7l1.5 -1.5 1.5 1.5 -1.5 1.5zM100.9 212.8l1.5 -1.5 1.5 1.5 -1.5 1.5zM101.0 216.9l1.5 -1.5 1.5 1.5 -1.5 1.5zM101.2 220.8l1.5 -1.5 1.5 1.5 -1.5 1.5zM101.4 216.8l1.5 -1.5 1.5 1.5 -1.5 1.5zM101.6 214.1l1.5 -1.5 1.5 1.5 -1.5 1.5zM101.7 213.5l1.5 -1.5 1.5 1.5 -1.5 1.5zM101.9 219.5l1.5 -1.5 1.5 1.5 -1.5 1.5zM102.1 216.8l1.5 -1.5 1.5 1.5 -1.5 1.5zM102.2 218.0l1.5 -1.5 1.5 1.5 -1.5 1.5zM102.4 218.9l1.5 -1.5 1.5 1.5 -1.5 1.5zM102.6 216.6l1.5 -1.5 1.5 1.5 -1.5 1.5zM102.7 215.9l1.5 -1.5 1.5 1.5 -1.5 1.5zM102.9 214.4l1.5 -1.5 1.5 1.5 -1.5 1.5zM103.1 209.4l1.5 -1.5 1.5 1.5 -1.5 1.5zM103.2 212.9l1.5 -1.5 1.5 1.5 -1.5 1.5zM103.4 216.1l1.5 -1.5 1.5 1.5 -1.5 1.5zM103.6 215.8l1.5 -1.5 1.5 1.5 -1.5 1.5zM103.8 217.0l1.5 -1.5 1.5 1.5 -1.5 1.5zM103.9 215.7l1.5 -1.5 1.5 1.5 -1.5 1.5zM104.1 216.2l1.5 -1.5 1.5 1.5 -1.5 1.5zM104.3 217.5l1.5 -1.5 1.5 1.5 -1.5 1.5zM104.4 213.6l1.5 -1.5 1.5 1.5 -1.5 1.5zM104.6 214.8l1.5 -1.5 1.5 1.5 -1.5 1.5zM104.8 211.6l1.5 -1.5 1.5 1.5 -1.5 1.5zM104.9 217.4l1.5 -1.5 1.5 1.5 -1.5 1.5zM105.1 215.1l1.5 -1.5 1.5 1.5 -1.5 1.5zM105.3 215.9l1.5 -1.5 1.5 1.5 -1.5 1.5zM105.4 218.2l1.5 -1.5 1.5 1.5 -1.5 1.5zM105.6 216.9l1.5 -1.5 1.5 1.5 -1.5 1.5zM105.8 214.1l1.5 -1.5 1.5 1.5 -1.5 1.5zM106.0 215.8l1.5 -1.5 1.5 1.5 -1.5 1.5zM106.1 210.5l1.5 -1.5 1.5 1.5 -1.5 1.5zM106.3 214.5l1.5 -1.5 1.5 1.5 -1.5 1.5zM106.5 213.6l1.5 -1.5 1.5 1.5 -1.5 1.5zM106.6 209.3l1.5 -1.5 1.5 1.5 -1.5 1.5zM106.8 215.8l1.5 -1.5 1.5 1.5 -1.5 1.5zM107.0 210.8l1.5 -1.5 1.5 1.5 -1.5 1.5zM107.1 213.7l1.5 -1.5 1.5 1.5 -1.5 1.5zM107.3 210.8l1.5 -1.5 1.5 1.5 -1.5 1.5zM107.5 213.7l1.5 -1.5 1.5 1.5 -1.5 1.5zM107.7 214.1l1.5 -1.5 1.5 1.5 -1.5 1.5zM107.8 208.8l1.5 -1.5 1.5 1.5 -1.5 1.5zM108.0 206.8l1.5 -1.5 1.5 1.5 -1.5 1.5zM108.2 209.6l1.5 -1.5 1.5 1.5 -1.5 1.5zM108.3 211.4l1.5 -1.5 1.5 1.5 -1.5 1.5zM108.5 208.1l1.5 -1.5 1.5 1.5 -1.5 1.5zM108.7 207.0l1.5 -1.5 1.5 1.5 -1.5 1.5zM108.8 209.0l1.5 -1.5 1.5 1.5 -1.5 1.5zM109.0 200.9l1.5 -1.5 1.5 1.5 -1.5 1.5zM109.2 205.1l1.5 -1.5 1.5 1.5 -1.5 1.5zM109.3 202.8l1.5 -1.5 1.5 1.5 -1.5 1.5zM109.5 205.9l1.5 -1.5 1.5 1.5 -1.5 1.5zM109.7 202.8l1.5 -1.5 1.5 1.5 -1.5 1.5zM109.9 201.1l1.5 -1.5 1.5 1.5 -1.5 1.5zM110.0 202.0l1.5 -1.5 1.5 1.5 -1.5 1.5zM110.2 198.5l1.5 -1.5 1.5 1.5 -1.5 1.5zM110.4 200.8l1.5 -1.5 1.5 1.5 -1.5 1.5zM110.5 198.1l1.5 -1.5 1.5 1.5 -1.5 1.5zM110.7 197.7l1.5 -1.5 1.5 1.5 -1.5 1.5zM110.9 195.6l1.5 -1.5 1.5 1.5 -1.5 1.5zM111.0 198.0l1.5 -1.5 1.5 1.5 -1.5 1.5zM111.2 194.1l1.5 -1.5 1.5 1.5 -1.5 1.5zM111.4 194.0l1.5 -1.5 1.5 1.5 -1.5 1.5zM111.6 192.1l1.5 -1.5 1.5 1.5 -1.5 1.5zM111.7 187.2l1.5 -1.5 1.5 1.5 -1.5 1.5zM111.9 188.3l1.5 -1.5 1.5 1.5 -1.5 1.5zM112.1 185.5l1.5 -1.5 1.5 1.5 -1.5 1.5zM112.2 183.0l1.5 -1.5 1.5 1.5 -1.5 1.5zM112.4 178.6l1.5 -1.5 1.5 1.5 -1.5 1.5zM112.6 175.6l1.5 -1.5 1.5 1.5 -1.5 1.5zM112.7 175.2l1.5 -1.5 1.5 1.5 -1.5 1.5zM112.9 174.9l1.5 -1.5 1.5 1.5 -1.5 1.5zM113.1 164.1l1.5 -1.5 1.5 1.5 -1.5 1.5zM113.2 163.0l1.5 -1.5 1.5 1.5 -1.5 1.5zM113.4 156.4l1.5 -1.5 1.5 1.5 -1.5 1.5zM113.6 154.1l1.5 -1.5 1.5 1.5 -1.5 1.5zM113.8 147.9l1.5 -1.5 1.5 1.5 -1.5 1.5zM113.9 143.5l1.5 -1.5 1.5 1.5 -1.5 1.5zM114.1 128.5l1.5 -1.5 1.5 1.5 -1.5 1.5zM114.3 127.0l1.5 -1.5 1.5 1.5 -1.5 1.5zM114.4 119.3l1.5 -1.5 1.5 1.5 -1.5 1.5zM114.6 114.3l1.5 -1.5 1.5 1.5 -1.5 1.5zM114.8 105.9l1.5 -1.5 1.5 1.5 -1.5 1.5zM114.9 99.3l1.5 -1.5 1.5 1.5 -1.5 1.5zM115.1 95.9l1.5 -1.5 1.5 1.5 -1.5 1.5zM115.3 93.0l1.5 -1.5 1.5 1.5 -1.5 1.5zM115.4 77.4l1.5 -1.5 1.5 1.5 -1.5 1.5zM115.6 79.7l1.5 -1.5 1.5 1.5 -1.5 1.5zM115.8 79.2l1.5 -1.5 1.5 1.5 -1.5 1.5zM116.0 78.1l1.5 -1.5 1.5 1.5 -1.5 1.5zM116.1 78.5l1.5 -1.5 1.5 1.5 -1.5 1.5zM116.3 79.0l1.5 -1.5 1.5 1.5 -1.5 1.5zM116.5 84.1l1.5 -1.5 1.5 1.5 -1.5 1.5zM116.6 93.2l1.5 -1.5 1.5 1.5 -1.5 1.5zM116.8 100.1l1.5 -1.5 1.5 1.5 -1.5 1.5zM117.0 104.5l1.5 -1.5 1.5 1.5 -1.5 1.5zM117.1 109.3l1.5 -1.5 1.5 1.5 -1.5 1.5zM117.3 118.5l1.5 -1.5 1.5 1.5 -1.5 1.5zM117.5 124.7l1.5 -1.5 1.5 1.5 -1.5 1.5zM117.7 133.2l1.5 -1.5 1.5 1.5 -1.5 1.5zM117.8 138.6l1.5 -1.5 1.5 1.5 -1.5 1.5zM118.0 142.9l1.5 -1.5 1.5 1.5 -1.5 1.5zM118.2 150.3l1.5 -1.5 1.5 1.5 -1.5 1.5zM118.3 152.4l1.5 -1.5 1.5 1.5 -1.5 1.5zM118.5 161.7l1.5 -1.5 1.5 1.5 -1.5 1.5zM118.7 167.0l1.5 -1.5 1.5 1.5 -1.5 1.5zM118.8 165.5l1.5 -1.5 1.5 1.5 -1.5 1.5zM119.0 172.9l1.5 -1.5 1.5 1.5 -1.5 1.5zM119.2 173.0l1.5 -1.5 1.5 1.5 -1.5 1.5zM119.3 180.8l1.5 -1.5 1.5 1.5 -1.5 1.5zM119.5 183.2l1.5 -1.5 1.5 1.5 -1.5 1.5zM119.7 183.1l1.5 -1.5 1.5 1.5 -1.5 1.5zM119.9 188.3l1.5 -1.5 1.5 1.5 -1.5 1.5zM120.0 187.1l1.5 -1.5 1.5 1.5 -1.5 1.5zM120.2 188.5l1.5 -1.5 1.5 1.5 -1.5 1.5zM120.4 190.5l1.5 -1.5 1.5 1.5 -1.5 1.5zM120.5 193.0l1.5 -1.5 1.5 1.5 -1.5 1.5zM120.7 194.1l1.5 -1.5 1.5 1.5 -1.5 1.5zM120.9 196.4l1.5 -1.5 1.5 1.5 -1.5 1.5zM121.0 195.8l1.5 -1.5 1.5 1.5 -1.5 1.5zM121.2 200.0l1.5 -1.5 1.5 1.5 -1.5 1.5zM121.4 201.5l1.5 -1.5 1.5 1.5 -1.5 1.5zM121.5 198.8l1.5 -1.5 1.5 1.5 -1.5 1.5zM121.7 197.3l1.5 -1.5 1.5 1.5 -1.5 1.5zM121.9 202.7l1.5 -1.5 1.5 1.5 -1.5 1.5zM122.1 204.0l1.5 -1.5 1.5 1.5 -1.5 1.5zM122.2 201.2l1.5 -1.5 1.5 1.5 -1.5 1.5zM122.4 198.5l1.5 -1.5 1.5 1.5 -1.5 1.5zM122.6 201.7l1.5 -1.5 1.5 1.5 -1.5 1.5zM122.7 203.9l1.5 -1.5 1.5 1.5 -1.5 1.5zM122.9 194.9l1.5 -1.5 1.5 1.5 -1.5 1.5zM123.1 198.5l1.5 -1.5 1.5 1.5 -1.5 1.5zM123.2 194.2l1.5 -1.5 1.5 1.5 -1.5 1.5zM123.4 189.7l1.5 -1.5 1.5 1.5 -1.5 1.5zM123.6 188.9l1.5 -1.5 1.5 1.5 -1.5 1.5zM123.8 181.1l1.5 -1.5 1.5 1.5 -1.5 1.5zM123.9 182.8l1.5 -1.5 1.5 1.5 -1.5 1.5zM124.1 185.9l1.5 -1.5 1.5 1.5 -1.5 1.5zM124.3 186.7l1.5 -1.5 1.5 1.5 -1.5 1.5zM124.4 189.0l1.5 -1.5 1.5 1.5 -1.5 1.5zM124.6 191.5l1.5 -1.5 1.5 1.5 -1.5 1.5zM124.8 196.6l1.5 -1.5 1.5 1.5 -1.5 1.5zM124.9 198.5l1.5 -1.5 1.5 1.5 -1.5 1.5zM125.1 208.9l1.5 -1.5 1.5 1.5 -1.5 1.5zM125.3 206.6l1.5 -1.5 1.5 1.5 -1.5 1.5zM125.4 206.4l1.5 -1.5 1.5 1.5 -1.5 1.5zM125.6 207.1l1.5 -1.5 1.5 1.5 -1.5 1.5zM125.8 208.6l1.5 -1.5 1.5 1.5 -1.5 1.5zM126.0 211.2l1.5 -1.5 1.5 1.5 -1.5 1.5zM126.1 209.8l1.5 -1.5 1.5 1.5 -1.5 1.5zM126.3 217.2l1.5 -1.5 1.5 1.5 -1.5 1.5zM126.5 212.2l1.5 -1.5 1.5 1.5 -1.5 1.5zM126.6 212.6l1.5 -1.5 1.5 1.5 -1.5 1.5zM126.8 215.5l1.5 -1.5 1.5 1.5 -1.5 1.5zM127.0 218.6l1.5 -1.5 1.5 1.5 -1.5 1.5zM127.1 218.6l1.5 -1.5 1.5 1.5 -1.5 1.5zM127.3 214.8l1.5 -1.5 1.5 1.5 -1.5 1.5zM127.5 216.8l1.5 -1.5 1.5 1.5 -1.5 1.5zM127.7 216.8l1.5 -1.5 1.5 1.5 -1.5 1.5zM127.8 217.9l1.5 -1.5 1.5 1.5 -1.5 1.5zM128.0 217.6l1.5 -1.5 1.5 1.5 -1.5 1.5zM128.2 215.0l1.5 -1.5 1.5 1.5 -1.5 1.5zM128.3 214.5l1.5 -1.5 1.5 1.5 -1.5 1.5zM128.5 218.1l1.5 -1.5 1.5 1.5 -1.5 1.5zM128.7 215.1l1.5 -1.5 1.5 1.5 -1.5 1.5zM128.8 221.2l1.5 -1.5 1.5 1.5 -1.5 1.5zM129.0 218.3l1.5 -1.5 1.5 1.5 -1.5 1.5zM129.2 216.1l1.5 -1.5 1.5 1.5 -1.5 1.5zM129.3 217.9l1.5 -1.5 1.5 1.5 -1.5 1.5zM129.5 217.6l1.5 -1.5 1.5 1.5 -1.5 1.5zM129.7 218.6l1.5 -1.5 1.5 1.5 -1.5 1.5zM129.9 221.3l1.5 -1.5 1.5 1.5 -1.5 1.5zM130.0 215.9l1.5 -1.5 1.5 1.5 -1.5 1.5zM130.2 215.1l1.5 -1.5 1.5 1.5 -1.5 1.5zM130.4 220.3l1.5 -1.5 1.5 1.5 -1.5 1.5zM130.5 219.3l1.5 -1.5 1.5 1.5 -1.5 1.5zM130.7 220.2l1.5 -1.5 1.5 1.5 -1.5 1.5zM130.9 220.9l1.5 -1.5 1.5 1.5 -1.5 1.5zM131.0 219.6l1.5 -1.5 1.5 1.5 -1.5 1.5zM131.2 222.0l1.5 -1.5 1.5 1.5 -1.5 1.5zM131.4 218.2l1.5 -1.5 1.5 1.5 -1.5 1.5zM131.5 220.5l1.5 -1.5 1.5 1.5 -1.5 1.5zM131.7 218.6l1.5 -1.5 1.5 1.5 -1.5 1.5zM131.9 218.0l1.5 -1.5 1.5 1.5 -1.5 1.5zM132.1 222.1l1.5 -1.5 1.5 1.5 -1.5 1.5zM132.2 222.1l1.5 -1.5 1.5 1.5 -1.5 1.5zM132.4 216.5l1.5 -1.5 1.5 1.5 -1.5 1.5zM132.6 218.4l1.5 -1.5 1.5 1.5 -1.5 1.5zM132.7 221.8l1.5 -1.5 1.5 1.5 -1.5 1.5zM132.9 223.7l1.5 -1.5 1.5 1.5 -1.5 1.5zM133.1 219.8l1.5 -1.5 1.5 1.5 -1.5 1.5zM133.2 221.0l1.5 -1.5 1.5 1.5 -1.5 1.5zM133.4 218.2l1.5 -1.5 1.5 1.5 -1.5 1.5zM133.6 227.3l1.5 -1.5 1.5 1.5 -1.5 1.5zM133.8 222.7l1.5 -1.5 1.5 1.5 -1.5 1.5zM133.9 223.8l1.5 -1.5 1.5 1.5 -1.5 1.5zM134.1 223.3l1.5 -1.5 1.5 1.5 -1.5 1.5zM134.3 224.0l1.5 -1.5 1.5 1.5 -1.5 1.5zM134.4 223.4l1.5 -1.5 1.5 1.5 -1.5 1.5zM134.6 221.3l1.5 -1.5 1.5 1.5 -1.5 1.5zM134.8 223.8l1.5 -1.5 1.5 1.5 -1.5 1.5zM134.9 222.4l1.5 -1.5 1.5 1.5 -1.5 1.5zM135.1 225.2l1.5 -1.5 1.5 1.5 -1.5 1.5zM135.3 220.6l1.5 -1.5 1.5 1.5 -1.5 1.5zM135.4 221.1l1.5 -1.5 1.5 1.5 -1.5 1.5zM135.6 224.0l1.5 -1.5 1.5 1.5 -1.5 1.5zM135.8 225.5l1.5 -1.5 1.5 1.5 -1.5 1.5zM136.0 222.9l1.5 -1.5 1.5 1.5 -1.5 1.5zM136.1 221.0l1.5 -1.5 1.5 1.5 -1.5 1.5zM136.3 222.4l1.5 -1.5 1.5 1.5 -1.5 1.5zM136.5 221.6l1.5 -1.5 1.5 1.5 -1.5 1.5zM136.6 227.2l1.5 -1.5 1.5 1.5 -1.5 1.5zM136.8 224.9l1.5 -1.5 1.5 1.5 -1.5 1.5zM137.0 225.8l1.5 -1.5 1.5 1.5 -1.5 1.5zM137.1 223.7l1.5 -1.5 1.5 1.5 -1.5 1.5zM137.3 221.7l1.5 -1.5 1.5 1.5 -1.5 1.5zM137.5 225.7l1.5 -1.5 1.5 1.5 -1.5 1.5zM137.6 226.8l1.5 -1.5 1.5 1.5 -1.5 1.5zM137.8 224.3l1.5 -1.5 1.5 1.5 -1.5 1.5zM138.0 222.9l1.5 -1.5 1.5 1.5 -1.5 1.5zM138.2 225.4l1.5 -1.5 1.5 1.5 -1.5 1.5zM138.3 222.0l1.5 -1.5 1.5 1.5 -1.5 1.5zM138.5 224.6l1.5 -1.5 1.5 1.5 -1.5 1.5zM138.7 221.2l1.5 -1.5 1.5 1.5 -1.5 1.5zM138.8 220.6l1.5 -1.5 1.5 1.5 -1.5 1.5zM139.0 224.1l1.5 -1.5 1.5 1.5 -1.5 1.5zM139.2 223.5l1.5 -1.5 1.5 1.5 -1.5 1.5zM139.3 227.1l1.5 -1.5 1.5 1.5 -1.5 1.5zM139.5 222.0l1.5 -1.5 1.5 1.5 -1.5 1.5zM139.7 222.7l1.5 -1.5 1.5 1.5 -1.5 1.5zM139.9 219.9l1.5 -1.5 1.5 1.5 -1.5 1.5zM140.0 218.2l1.5 -1.5 1.5 1.5 -1.5 1.5zM140.2 218.4l1.5 -1.5 1.5 1.5 -1.5 1.5zM140.4 223.5l1.5 -1.5 1.5 1.5 -1.5 1.5zM140.5 219.6l1.5 -1.5 1.5 1.5 -1.5 1.5zM140.7 224.9l1.5 -1.5 1.5 1.5 -1.5 1.5zM140.9 225.5l1.5 -1.5 1.5 1.5 -1.5 1.5zM141.0 221.5l1.5 -1.5 1.5 1.5 -1.5 1.5zM141.2 225.8l1.5 -1.5 1.5 1.5 -1.5 1.5zM141.4 222.5l1.5 -1.5 1.5 1.5 -1.5 1.5zM141.5 224.4l1.5 -1.5 1.5 1.5 -1.5 1.5zM141.7 221.2l1.5 -1.5 1.5 1.5 -1.5 1.5zM141.9 223.8l1.5 -1.5 1.5 1.5 -1.5 1.5zM142.1 219.3l1.5 -1.5 1.5 1.5 -1.5 1.5zM142.2 222.8l1.5 -1.5 1.5 1.5 -1.5 1.5zM142.4 220.2l1.5 -1.5 1.5 1.5 -1.5 1.5zM142.6 220.8l1.5 -1.5 1.5 1.5 -1.5 1.5zM142.7 222.3l1.5 -1.5 1.5 1.5 -1.5 1.5zM142.9 221.1l1.5 -1.5 1.5 1.5 -1.5 1.5zM143.1 220.3l1.5 -1.5 1.5 1.5 -1.5 1.5zM143.2 222.0l1.5 -1.5 1.5 1.5 -1.5 1.5zM143.4 221.9l1.5 -1.5 1.5 1.5 -1.5 1.5zM143.6 216.6l1.5 -1.5 1.5 1.5 -1.5 1.5zM143.8 220.8l1.5 -1.5 1.5 1.5 -1.5 1.5zM143.9 220.8l1.5 -1.5 1.5 1.5 -1.5 1.5zM144.1 217.2l1.5 -1.5 1.5 1.5 -1.5 1.5zM144.3 219.5l1.5 -1.5 1.5 1.5 -1.5 1.5zM144.4 215.2l1.5 -1.5 1.5 1.5 -1.5 1.5zM144.6 221.1l1.5 -1.5 1.5 1.5 -1.5 1.5zM144.8 216.8l1.5 -1.5 1.5 1.5 -1.5 1.5zM144.9 216.7l1.5 -1.5 1.5 1.5 -1.5 1.5zM145.1 219.2l1.5 -1.5 1.5 1.5 -1.5 1.5zM145.3 215.6l1.5 -1.5 1.5 1.5 -1.5 1.5zM145.4 216.7l1.5 -1.5 1.5 1.5 -1.5 1.5zM145.6 212.4l1.5 -1.5 1.5 1.5 -1.5 1.5zM145.8 212.9l1.5 -1.5 1.5 1.5 -1.5 1.5zM146.0 210.4l1.5 -1.5 1.5 1.5 -1.5 1.5zM146.1 212.6l1.5 -1.5 1.5 1.5 -1.5 1.5zM146.3 214.9l1.5 -1.5 1.5 1.5 -1.5 1.5zM146.5 212.5l1.5 -1.5 1.5 1.5 -1.5 1.5zM146.6 213.6l1.5 -1.5 1.5 1.5 -1.5 1.5zM146.8 208.8l1.5 -1.5 1.5 1.5 -1.5 1.5zM147.0 208.9l1.5 -1.5 1.5 1.5 -1.5 1.5zM147.1 209.7l1.5 -1.5 1.5 1.5 -1.5 1.5zM147.3 212.1l1.5 -1.5 1.5 1.5 -1.5 1.5zM147.5 211.6l1.5 -1.5 1.5 1.5 -1.5 1.5zM147.6 211.0l1.5 -1.5 1.5 1.5 -1.5 1.5zM147.8 212.8l1.5 -1.5 1.5 1.5 -1.5 1.5zM148.0 211.4l1.5 -1.5 1.5 1.5 -1.5 1.5zM148.2 212.1l1.5 -1.5 1.5 1.5 -1.5 1.5zM148.3 215.7l1.5 -1.5 1.5 1.5 -1.5 1.5zM148.5 211.9l1.5 -1.5 1.5 1.5 -1.5 1.5zM148.7 214.2l1.5 -1.5 1.5 1.5 -1.5 1.5zM148.8 218.1l1.5 -1.5 1.5 1.5 -1.5 1.5zM149.0 215.2l1.5 -1.5 1.5 1.5 -1.5 1.5zM149.2 217.1l1.5 -1.5 1.5 1.5 -1.5 1.5zM149.3 214.6l1.5 -1.5 1.5 1.5 -1.5 1.5zM149.5 221.0l1.5 -1.5 1.5 1.5 -1.5 1.5zM149.7 211.8l1.5 -1.5 1.5 1.5 -1.5 1.5zM149.9 214.8l1.5 -1.5 1.5 1.5 -1.5 1.5zM150.0 215.3l1.5 -1.5 1.5 1.5 -1.5 1.5zM150.2 221.9l1.5 -1.5 1.5 1.5 -1.5 1.5zM150.4 219.3l1.5 -1.5 1.5 1.5 -1.5 1.5zM150.5 218.2l1.5 -1.5 1.5 1.5 -1.5 1.5zM150.7 216.1l1.5 -1.5 1.5 1.5 -1.5 1.5zM150.9 220.2l1.5 -1.5 1.5 1.5 -1.5 1.5zM151.0 219.9l1.5 -1.5 1.5 1.5 -1.5 1.5zM151.2 218.2l1.5 -1.5 1.5 1.5 -1.5 1.5zM151.4 216.6l1.5 -1.5 1.5 1.5 -1.5 1.5zM151.5 217.7l1.5 -1.5 1.5 1.5 -1.5 1.5zM151.7 220.9l1.5 -1.5 1.5 1.5 -1.5 1.5zM151.9 221.3l1.5 -1.5 1.5 1.5 -1.5 1.5zM152.1 220.9l1.5 -1.5 1.5 1.5 -1.5 1.5zM152.2 220.5l1.5 -1.5 1.5 1.5 -1.5 1.5zM152.4 216.9l1.5 -1.5 1.5 1.5 -1.5 1.5zM152.6 221.2l1.5 -1.5 1.5 1.5 -1.5 1.5zM152.7 218.8l1.5 -1.5 1.5 1.5 -1.5 1.5zM152.9 221.4l1.5 -1.5 1.5 1.5 -1.5 1.5zM153.1 222.4l1.5 -1.5 1.5 1.5 -1.5 1.5zM153.2 219.9l1.5 -1.5 1.5 1.5 -1.5 1.5zM153.4 219.2l1.5 -1.5 1.5 1.5 -1.5 1.5zM153.6 223.9l1.5 -1.5 1.5 1.5 -1.5 1.5zM153.7 222.5l1.5 -1.5 1.5 1.5 -1.5 1.5zM153.9 220.3l1.5 -1.5 1.5 1.5 -1.5 1.5zM154.1 214.9l1.5 -1.5 1.5 1.5 -1.5 1.5zM154.3 221.7l1.5 -1.5 1.5 1.5 -1.5 1.5zM154.4 223.2l1.5 -1.5 1.5 1.5 -1.5 1.5zM154.6 224.3l1.5 -1.5 1.5 1.5 -1.5 1.5zM154.8 220.1l1.5 -1.5 1.5 1.5 -1.5 1.5zM154.9 220.2l1.5 -1.5 1.5 1.5 -1.5 1.5zM155.1 220.6l1.5 -1.5 1.5 1.5 -1.5 1.5zM155.3 223.5l1.5 -1.5 1.5 1.5 -1.5 1.5zM155.4 218.9l1.5 -1.5 1.5 1.5 -1.5 1.5zM155.6 221.3l1.5 -1.5 1.5 1.5 -1.5 1.5zM155.8 219.3l1.5 -1.5 1.5 1.5 -1.5 1.5zM156.0 222.0l1.5 -1.5 1.5 1.5 -1.5 1.5zM156.1 217.8l1.5 -1.5 1.5 1.5 -1.5 1.5zM156.3 222.2l1.5 -1.5 1.5 1.5 -1.5 1.5zM156.5 220.1l1.5 -1.5 1.5 1.5 -1.5 1.5zM156.6 220.7l1.5 -1.5 1.5 1.5 -1.5 1.5zM156.8 222.4l1.5 -1.5 1.5 1.5 -1.5 1.5zM157.0 223.7l1.5 -1.5 1.5 1.5 -1.5 1.5zM157.1 217.1l1.5 -1.5 1.5 1.5 -1.5 1.5zM157.3 223.3l1.5 -1.5 1.5 1.5 -1.5 1.5zM157.5 222.2l1.5 -1.5 1.5 1.5 -1.5 1.5zM157.6 220.2l1.5 -1.5 1.5 1.5 -1.5 1.5zM157.8 224.0l1.5 -1.5 1.5 1.5 -1.5 1.5zM158.0 221.1l1.5 -1.5 1.5 1.5 -1.5 1.5zM158.2 223.6l1.5 -1.5 1.5 1.5 -1.5 1.5zM158.3 219.2l1.5 -1.5 1.5 1.5 -1.5 1.5zM158.5 218.5l1.5 -1.5 1.5 1.5 -1.5 1.5zM158.7 223.2l1.5 -1.5 1.5 1.5 -1.5 1.5zM158.8 225.3l1.5 -1.5 1.5 1.5 -1.5 1.5zM159.0 221.7l1.5 -1.5 1.5 1.5 -1.5 1.5zM159.2 222.2l1.5 -1.5 1.5 1.5 -1.5 1.5zM159.3 219.0l1.5 -1.5 1.5 1.5 -1.5 1.5zM159.5 217.0l1.5 -1.5 1.5 1.5 -1.5 1.5zM159.7 219.4l1.5 -1.5 1.5 1.5 -1.5 1.5zM159.9 223.3l1.5 -1.5 1.5 1.5 -1.5 1.5zM160.0 215.5l1.5 -1.5 1.5 1.5 -1.5 1.5zM160.2 218.5l1.5 -1.5 1.5 1.5 -1.5 1.5zM160.4 215.2l1.5 -1.5 1.5 1.5 -1.5 1.5zM160.5 219.7l1.5 -1.5 1.5 1.5 -1.5 1.5zM160.7 221.4l1.5 -1.5 1.5 1.5 -1.5 1.5zM160.9 216.4l1.5 -1.5 1.5 1.5 -1.5 1.5zM161.0 218.2l1.5 -1.5 1.5 1.5 -1.5 1.5zM161.2 222.1l1.5 -1.5 1.5 1.5 -1.5 1.5zM161.4 218.7l1.5 -1.5 1.5 1.5 -1.5 1.5zM161.5 215.9l1.5 -1.5 1.5 1.5 -1.5 1.5zM161.7 215.6l1.5 -1.5 1.5 1.5 -1.5 1.5zM161.9 213.8l1.5 -1.5 1.5 1.5 -1.5 1.5zM162.1 220.0l1.5 -1.5 1.5 1.5 -1.5 1.5zM162.2 216.3l1.5 -1.5 1.5 1.5 -1.5 1.5zM162.4 220.2l1.5 -1.5 1.5 1.5 -1.5 1.5zM162.6 219.4l1.5 -1.5 1.5 1.5 -1.5 1.5zM162.7 215.5l1.5 -1.5 1.5 1.5 -1.5 1.5zM162.9 215.3l1.5 -1.5 1.5 1.5 -1.5 1.5zM163.1 217.6l1.5 -1.5 1.5 1.5 -1.5 1.5zM163.2 215.3l1.5 -1.5 1.5 1.5 -1.5 1.5zM163.4 214.3l1.5 -1.5 1.5 1.5 -1.5 1.5zM163.6 208.3l1.5 -1.5 1.5 1.5 -1.5 1.5zM163.7 212.4l1.5 -1.5 1.5 1.5 -1.5 1.5zM163.9 206.8l1.5 -1.5 1.5 1.5 -1.5 1.5zM164.1 203.4l1.5 -1.5 1.5 1.5 -1.5 1.5zM164.3 208.2l1.5 -1.5 1.5 1.5 -1.5 1.5zM164.4 212.3l1.5 -1.5 1.5 1.5 -1.5 1.5zM164.6 217.7l1.5 -1.5 1.5 1.5 -1.5 1.5zM164.8 213.3l1.5 -1.5 1.5 1.5 -1.5 1.5zM164.9 212.0l1.5 -1.5 1.5 1.5 -1.5 1.5zM165.1 220.6l1.5 -1.5 1.5 1.5 -1.5 1.5zM165.3 216.5l1.5 -1.5 1.5 1.5 -1.5 1.5zM165.4 215.9l1.5 -1.5 1.5 1.5 -1.5 1.5zM165.6 214.2l1.5 -1.5 1.5 1.5 -1.5 1.5zM165.8 214.5l1.5 -1.5 1.5 1.5 -1.5 1.5zM166.0 220.4l1.5 -1.5 1.5 1.5 -1.5 1.5zM166.1 216.4l1.5 -1.5 1.5 1.5 -1.5 1.5zM166.3 215.9l1.5 -1.5 1.5 1.5 -1.5 1.5zM166.5 216.0l1.5 -1.5 1.5 1.5 -1.5 1.5zM166.6 220.7l1.5 -1.5 1.5 1.5 -1.5 1.5zM166.8 215.8l1.5 -1.5 1.5 1.5 -1.5 1.5zM167.0 218.6l1.5 -1.5 1.5 1.5 -1.5 1.5zM167.1 217.7l1.5 -1.5 1.5 1.5 -1.5 1.5zM167.3 217.7l1.5 -1.5 1.5 1.5 -1.5 1.5zM167.5 215.1l1.5 -1.5 1.5 1.5 -1.5 1.5zM167.6 218.6l1.5 -1.5 1.5 1.5 -1.5 1.5zM167.8 220.7l1.5 -1.5 1.5 1.5 -1.5 1.5zM168.0 216.8l1.5 -1.5 1.5 1.5 -1.5 1.5zM168.2 214.8l1.5 -1.5 1.5 1.5 -1.5 1.5zM168.3 213.9l1.5 -1.5 1.5 1.5 -1.5 1.5zM168.5 217.3l1.5 -1.5 1.5 1.5 -1.5 1.5zM168.7 216.2l1.5 -1.5 1.5 1.5 -1.5 1.5zM168.8 216.5l1.5 -1.5 1.5 1.5 -1.5 1.5zM169.0 216.7l1.5 -1.5 1.5 1.5 -1.5 1.5zM169.2 213.2l1.5 -1.5 1.5 1.5 -1.5 1.5zM169.3 218.4l1.5 -1.5 1.5 1.5 -1.5 1.5zM169.5 217.0l1.5 -1.5 1.5 1.5 -1.5 1.5zM169.7 216.3l1.5 -1.5 1.5 1.5 -1.5 1.5zM169.8 216.9l1.5 -1.5 1.5 1.5 -1.5 1.5zM170.0 218.4l1.5 -1.5 1.5 1.5 -1.5 1.5zM170.2 216.4l1.5 -1.5 1.5 1.5 -1.5 1.5zM170.4 214.2l1.5 -1.5 1.5 1.5 -1.5 1.5zM170.5 218.8l1.5 -1.5 1.5 1.5 -1.5 1.5zM170.7 215.0l1.5 -1.5 1.5 1.5 -1.5 1.5zM170.9 214.3l1.5 -1.5 1.5 1.5 -1.5 1.5zM171.0 212.3l1.5 -1.5 1.5 1.5 -1.5 1.5zM171.2 215.8l1.5 -1.5 1.5 1.5 -1.5 1.5zM171.4 213.3l1.5 -1.5 1.5 1.5 -1.5 1.5zM171.5 214.4l1.5 -1.5 1.5 1.5 -1.5 1.5zM171.7 216.5l1.5 -1.5 1.5 1.5 -1.5 1.5zM171.9 215.5l1.5 -1.5 1.5 1.5 -1.5 1.5zM172.1 217.6l1.5 -1.5 1.5 1.5 -1.5 1.5zM172.2 215.9l1.5 -1.5 1.5 1.5 -1.5 1.5zM172.4 214.1l1.5 -1.5 1.5 1.5 -1.5 1.5zM172.6 214.2l1.5 -1.5 1.5 1.5 -1.5 1.5zM172.7 213.6l1.5 -1.5 1.5 1.5 -1.5 1.5zM172.9 216.1l1.5 -1.5 1.5 1.5 -1.5 1.5zM173.1 214.5l1.5 -1.5 1.5 1.5 -1.5 1.5zM173.2 213.3l1.5 -1.5 1.5 1.5 -1.5 1.5zM173.4 216.0l1.5 -1.5 1.5 1.5 -1.5 1.5zM173.6 214.1l1.5 -1.5 1.5 1.5 -1.5 1.5zM173.7 212.5l1.5 -1.5 1.5 1.5 -1.5 1.5zM173.9 209.8l1.5 -1.5 1.5 1.5 -1.5 1.5zM174.1 213.9l1.5 -1.5 1.5 1.5 -1.5 1.5zM174.3 213.1l1.5 -1.5 1.5 1.5 -1.5 1.5zM174.4 212.1l1.5 -1.5 1.5 1.5 -1.5 1.5zM174.6 210.4l1.5 -1.5 1.5 1.5 -1.5 1.5zM174.8 208.8l1.5 -1.5 1.5 1.5 -1.5 1.5zM174.9 209.2l1.5 -1.5 1.5 1.5 -1.5 1.5zM175.1 209.1l1.5 -1.5 1.5 1.5 -1.5 1.5zM175.3 206.7l1.5 -1.5 1.5 1.5 -1.5 1.5zM175.4 204.7l1.5 -1.5 1.5 1.5 -1.5 1.5zM175.6 201.5l1.5 -1.5 1.5 1.5 -1.5 1.5zM175.8 200.5l1.5 -1.5 1.5 1.5 -1.5 1.5zM176.0 197.6l1.5 -1.5 1.5 1.5 -1.5 1.5zM176.1 193.5l1.5 -1.5 1.5 1.5 -1.5 1.5zM176.3 197.0l1.5 -1.5 1.5 1.5 -1.5 1.5zM176.5 198.8l1.5 -1.5 1.5 1.5 -1.5 1.5zM176.6 201.4l1.5 -1.5 1.5 1.5 -1.5 1.5zM176.8 201.9l1.5 -1.5 1.5 1.5 -1.5 1.5zM177.0 204.0l1.5 -1.5 1.5 1.5 -1.5 1.5zM177.1 203.5l1.5 -1.5 1.5 1.5 -1.5 1.5zM177.3 209.3l1.5 -1.5 1.5 1.5 -1.5 1.5zM177.5 203.6l1.5 -1.5 1.5 1.5 -1.5 1.5zM177.6 208.4l1.5 -1.5 1.5 1.5 -1.5 1.5zM177.8 209.0l1.5 -1.5 1.5 1.5 -1.5 1.5zM178.0 212.2l1.5 -1.5 1.5 1.5 -1.5 1.5zM178.2 210.5l1.5 -1.5 1.5 1.5 -1.5 1.5zM178.3 208.5l1.5 -1.5 1.5 1.5 -1.5 1.5zM178.5 207.6l1.5 -1.5 1.5 1.5 -1.5 1.5zM178.7 209.3l1.5 -1.5 1.5 1.5 -1.5 1.5zM178.8 211.3l1.5 -1.5 1.5 1.5 -1.5 1.5zM179.0 211.2l1.5 -1.5 1.5 1.5 -1.5 1.5zM179.2 210.7l1.5 -1.5 1.5 1.5 -1.5 1.5zM179.3 209.5l1.5 -1.5 1.5 1.5 -1.5 1.5zM179.5 210.6l1.5 -1.5 1.5 1.5 -1.5 1.5zM179.7 213.3l1.5 -1.5 1.5 1.5 -1.5 1.5zM179.8 208.4l1.5 -1.5 1.5 1.5 -1.5 1.5zM180.0 210.9l1.5 -1.5 1.5 1.5 -1.5 1.5zM180.2 214.5l1.5 -1.5 1.5 1.5 -1.5 1.5zM180.4 211.9l1.5 -1.5 1.5 1.5 -1.5 1.5zM180.5 209.5l1.5 -1.5 1.5 1.5 -1.5 1.5zM180.7 211.9l1.5 -1.5 1.5 1.5 -1.5 1.5zM180.9 208.5l1.5 -1.5 1.5 1.5 -1.5 1.5zM181.0 210.2l1.5 -1.5 1.5 1.5 -1.5 1.5zM181.2 213.6l1.5 -1.5 1.5 1.5 -1.5 1.5zM181.4 214.2l1.5 -1.5 1.5 1.5 -1.5 1.5zM181.5 205.8l1.5 -1.5 1.5 1.5 -1.5 1.5zM181.7 211.1l1.5 -1.5 1.5 1.5 -1.5 1.5zM181.9 213.8l1.5 -1.5 1.5 1.5 -1.5 1.5zM182.1 207.9l1.5 -1.5 1.5 1.5 -1.5 1.5zM182.2 209.5l1.5 -1.5 1.5 1.5 -1.5 1.5zM182.4 212.1l1.5 -1.5 1.5 1.5 -1.5 1.5zM182.6 207.2l1.5 -1.5 1.5 1.5 -1.5 1.5zM182.7 209.0l1.5 -1.5 1.5 1.5 -1.5 1.5zM182.9 207.5l1.5 -1.5 1.5 1.5 -1.5 1.5zM183.1 202.8l1.5 -1.5 1.5 1.5 -1.5 1.5zM183.2 207.5l1.5 -1.5 1.5 1.5 -1.5 1.5zM183.4 205.8l1.5 -1.5 1.5 1.5 -1.5 1.5zM183.6 207.8l1.5 -1.5 1.5 1.5 -1.5 1.5zM183.7 209.8l1.5 -1.5 1.5 1.5 -1.5 1.5zM183.9 205.8l1.5 -1.5 1.5 1.5 -1.5 1.5zM184.1 202.5l1.5 -1.5 1.5 1.5 -1.5 1.5zM184.3 203.4l1.5 -1.5 1.5 1.5 -1.5 1.5zM184.4 201.6l1.5 -1.5 1.5 1.5 -1.5 1.5zM184.6 202.2l1.5 -1.5 1.5 1.5 -1.5 1.5zM184.8 195.0l1.5 -1.5 1.5 1.5 -1.5 1.5zM184.9 193.8l1.5 -1.5 1.5 1.5 -1.5 1.5zM185.1 189.7l1.5 -1.5 1.5 1.5 -1.5 1.5zM185.3 193.3l1.5 -1.5 1.5 1.5 -1.5 1.5zM185.4 188.9l1.5 -1.5 1.5 1.5 -1.5 1.5zM185.6 184.1l1.5 -1.5 1.5 1.5 -1.5 1.5zM185.8 179.9l1.5 -1.5 1.5 1.5 -1.5 1.5zM185.9 175.7l1.5 -1.5 1.5 1.5 -1.5 1.5zM186.1 169.9l1.5 -1.5 1.5 1.5 -1.5 1.5zM186.3 165.9l1.5 -1.5 1.5 1.5 -1.5 1.5zM186.5 160.2l1.5 -1.5 1.5 1.5 -1.5 1.5zM186.6 159.8l1.5 -1.5 1.5 1.5 -1.5 1.5zM186.8 153.9l1.5 -1.5 1.5 1.5 -1.5 1.5zM187.0 149.7l1.5 -1.5 1.5 1.5 -1.5 1.5zM187.1 150.9l1.5 -1.5 1.5 1.5 -1.5 1.5zM187.3 157.7l1.5 -1.5 1.5 1.5 -1.5 1.5zM187.5 160.3l1.5 -1.5 1.5 1.5 -1.5 1.5zM187.6 165.1l1.5 -1.5 1.5 1.5 -1.5 1.5zM187.8 171.4l1.5 -1.5 1.5 1.5 -1.5 1.5zM188.0 178.6l1.5 -1.5 1.5 1.5 -1.5 1.5zM188.2 176.8l1.5 -1.5 1.5 1.5 -1.5 1.5zM188.3 182.1l1.5 -1.5 1.5 1.5 -1.5 1.5zM188.5 183.4l1.5 -1.5 1.5 1.5 -1.5 1.5zM188.7 191.6l1.5 -1.5 1.5 1.5 -1.5 1.5zM188.8 192.3l1.5 -1.5 1.5 1.5 -1.5 1.5zM189.0 193.8l1.5 -1.5 1.5 1.5 -1.5 1.5zM189.2 195.5l1.5 -1.5 1.5 1.5 -1.5 1.5zM189.3 200.5l1.5 -1.5 1.5 1.5 -1.5 1.5zM189.5 200.0l1.5 -1.5 1.5 1.5 -1.5 1.5zM189.7 200.3l1.5 -1.5 1.5 1.5 -1.5 1.5zM189.8 205.4l1.5 -1.5 1.5 1.5 -1.5 1.5zM190.0 201.0l1.5 -1.5 1.5 1.5 -1.5 1.5zM190.2 201.3l1.5 -1.5 1.5 1.5 -1.5 1.5zM190.4 210.8l1.5 -1.5 1.5 1.5 -1.5 1.5zM190.5 204.6l1.5 -1.5 1.5 1.5 -1.5 1.5zM190.7 204.7l1.5 -1.5 1.5 1.5 -1.5 1.5zM190.9 204.8l1.5 -1.5 1.5 1.5 -1.5 1.5zM191.0 206.5l1.5 -1.5 1.5 1.5 -1.5 1.5zM191.2 209.0l1.5 -1.5 1.5 1.5 -1.5 1.5zM191.4 209.3l1.5 -1.5 1.5 1.5 -1.5 1.5zM191.5 209.1l1.5 -1.5 1.5 1.5 -1.5 1.5zM191.7 207.4l1.5 -1.5 1.5 1.5 -1.5 1.5zM191.9 204.9l1.5 -1.5 1.5 1.5 -1.5 1.5zM192.1 209.2l1.5 -1.5 1.5 1.5 -1.5 1.5zM192.2 212.2l1.5 -1.5 1.5 1.5 -1.5 1.5zM192.4 211.3l1.5 -1.5 1.5 1.5 -1.5 1.5zM192.6 208.6l1.5 -1.5 1.5 1.5 -1.5 1.5zM192.7 211.0l1.5 -1.5 1.5 1.5 -1.5 1.5zM192.9 208.4l1.5 -1.5 1.5 1.5 -1.5 1.5zM193.1 209.2l1.5 -1.5 1.5 1.5 -1.5 1.5zM193.2 206.6l1.5 -1.5 1.5 1.5 -1.5 1.5zM193.4 208.9l1.5 -1.5 1.5 1.5 -1.5 1.5zM193.6 210.2l1.5 -1.5 1.5 1.5 -1.5 1.5zM193.7 209.6l1.5 -1.5 1.5 1.5 -1.5 1.5zM193.9 211.9l1.5 -1.5 1.5 1.5 -1.5 1.5zM194.1 214.6l1.5 -1.5 1.5 1.5 -1.5 1.5zM194.3 213.5l1.5 -1.5 1.5 1.5 -1.5 1.5zM194.4 209.9l1.5 -1.5 1.5 1.5 -1.5 1.5zM194.6 209.0l1.5 -1.5 1.5 1.5 -1.5 1.5zM194.8 209.3l1.5 -1.5 1.5 1.5 -1.5 1.5zM194.9 208.7l1.5 -1.5 1.5 1.5 -1.5 1.5zM195.1 211.1l1.5 -1.5 1.5 1.5 -1.5 1.5zM195.3 212.1l1.5 -1.5 1.5 1.5 -1.5 1.5zM195.4 211.6l1.5 -1.5 1.5 1.5 -1.5 1.5zM195.6 211.8l1.5 -1.5 1.5 1.5 -1.5 1.5zM195.8 211.8l1.5 -1.5 1.5 1.5 -1.5 1.5zM195.9 211.2l1.5 -1.5 1.5 1.5 -1.5 1.5zM196.1 209.8l1.5 -1.5 1.5 1.5 -1.5 1.5zM196.3 215.6l1.5 -1.5 1.5 1.5 -1.5 1.5zM196.5 214.1l1.5 -1.5 1.5 1.5 -1.5 1.5zM196.6 209.6l1.5 -1.5 1.5 1.5 -1.5 1.5zM196.8 209.7l1.5 -1.5 1.5 1.5 -1.5 1.5zM197.0 210.4l1.5 -1.5 1.5 1.5 -1.5 1.5zM197.1 211.9l1.5 -1.5 1.5 1.5 -1.5 1.5zM197.3 214.7l1.5 -1.5 1.5 1.5 -1.5 1.5zM197.5 214.2l1.5 -1.5 1.5 1.5 -1.5 1.5zM197.6 214.3l1.5 -1.5 1.5 1.5 -1.5 1.5zM197.8 214.3l1.5 -1.5 1.5 1.5 -1.5 1.5zM198.0 214.3l1.5 -1.5 1.5 1.5 -1.5 1.5zM198.2 213.4l1.5 -1.5 1.5 1.5 -1.5 1.5zM198.3 212.7l1.5 -1.5 1.5 1.5 -1.5 1.5zM198.5 211.2l1.5 -1.5 1.5 1.5 -1.5 1.5zM198.7 207.4l1.5 -1.5 1.5 1.5 -1.5 1.5zM198.8 210.9l1.5 -1.5 1.5 1.5 -1.5 1.5zM199.0 215.2l1.5 -1.5 1.5 1.5 -1.5 1.5zM199.2 209.5l1.5 -1.5 1.5 1.5 -1.5 1.5zM199.3 209.0l1.5 -1.5 1.5 1.5 -1.5 1.5zM199.5 212.4l1.5 -1.5 1.5 1.5 -1.5 1.5zM199.7 209.8l1.5 -1.5 1.5 1.5 -1.5 1.5zM199.8 208.0l1.5 -1.5 1.5 1.5 -1.5 1.5zM200.0 212.0l1.5 -1.5 1.5 1.5 -1.5 1.5zM200.2 208.9l1.5 -1.5 1.5 1.5 -1.5 1.5zM200.4 208.2l1.5 -1.5 1.5 1.5 -1.5 1.5zM200.5 203.8l1.5 -1.5 1.5 1.5 -1.5 1.5zM200.7 204.5l1.5 -1.5 1.5 1.5 -1.5 1.5zM200.9 202.1l1.5 -1.5 1.5 1.5 -1.5 1.5zM201.0 200.2l1.5 -1.5 1.5 1.5 -1.5 1.5zM201.2 197.3l1.5 -1.5 1.5 1.5 -1.5 1.5zM201.4 192.4l1.5 -1.5 1.5 1.5 -1.5 1.5zM201.5 183.8l1.5 -1.5 1.5 1.5 -1.5 1.5zM201.7 176.8l1.5 -1.5 1.5 1.5 -1.5 1.5zM201.9 162.9l1.5 -1.5 1.5 1.5 -1.5 1.5zM202.0 157.1l1.5 -1.5 1.5 1.5 -1.5 1.5zM202.2 150.1l1.5 -1.5 1.5 1.5 -1.5 1.5zM202.4 146.5l1.5 -1.5 1.5 1.5 -1.5 1.5zM202.6 151.2l1.5 -1.5 1.5 1.5 -1.5 1.5zM202.7 162.4l1.5 -1.5 1.5 1.5 -1.5 1.5zM202.9 170.1l1.5 -1.5 1.5 1.5 -1.5 1.5zM203.1 182.8l1.5 -1.5 1.5 1.5 -1.5 1.5zM203.2 190.1l1.5 -1.5 1.5 1.5 -1.5 1.5zM203.4 193.0l1.5 -1.5 1.5 1.5 -1.5 1.5zM203.6 199.7l1.5 -1.5 1.5 1.5 -1.5 1.5zM203.7 205.5l1.5 -1.5 1.5 1.5 -1.5 1.5zM203.9 208.2l1.5 -1.5 1.5 1.5 -1.5 1.5zM204.1 210.3l1.5 -1.5 1.5 1.5 -1.5 1.5zM204.3 209.3l1.5 -1.5 1.5 1.5 -1.5 1.5zM204.4 210.3l1.5 -1.5 1.5 1.5 -1.5 1.5zM204.6 211.4l1.5 -1.5 1.5 1.5 -1.5 1.5zM204.8 214.7l1.5 -1.5 1.5 1.5 -1.5 1.5zM204.9 219.6l1.5 -1.5 1.5 1.5 -1.5 1.5zM205.1 218.2l1.5 -1.5 1.5 1.5 -1.5 1.5zM205.3 219.2l1.5 -1.5 1.5 1.5 -1.5 1.5zM205.4 219.3l1.5 -1.5 1.5 1.5 -1.5 1.5zM205.6 213.0l1.5 -1.5 1.5 1.5 -1.5 1.5zM205.8 216.7l1.5 -1.5 1.5 1.5 -1.5 1.5zM205.9 216.6l1.5 -1.5 1.5 1.5 -1.5 1.5zM206.1 220.9l1.5 -1.5 1.5 1.5 -1.5 1.5zM206.3 222.3l1.5 -1.5 1.5 1.5 -1.5 1.5zM206.5 217.2l1.5 -1.5 1.5 1.5 -1.5 1.5zM206.6 219.2l1.5 -1.5 1.5 1.5 -1.5 1.5zM206.8 220.7l1.5 -1.5 1.5 1.5 -1.5 1.5zM207.0 218.6l1.5 -1.5 1.5 1.5 -1.5 1.5zM207.1 218.5l1.5 -1.5 1.5 1.5 -1.5 1.5zM207.3 218.7l1.5 -1.5 1.5 1.5 -1.5 1.5zM207.5 222.5l1.5 -1.5 1.5 1.5 -1.5 1.5zM207.6 218.5l1.5 -1.5 1.5 1.5 -1.5 1.5zM207.8 223.3l1.5 -1.5 1.5 1.5 -1.5 1.5zM208.0 221.0l1.5 -1.5 1.5 1.5 -1.5 1.5zM208.2 222.6l1.5 -1.5 1.5 1.5 -1.5 1.5zM208.3 224.5l1.5 -1.5 1.5 1.5 -1.5 1.5zM208.5 219.4l1.5 -1.5 1.5 1.5 -1.5 1.5zM208.7 219.2l1.5 -1.5 1.5 1.5 -1.5 1.5zM208.8 222.1l1.5 -1.5 1.5 1.5 -1.5 1.5zM209.0 218.8l1.5 -1.5 1.5 1.5 -1.5 1.5zM209.2 219.5l1.5 -1.5 1.5 1.5 -1.5 1.5zM209.3 221.0l1.5 -1.5 1.5 1.5 -1.5 1.5zM209.5 221.6l1.5 -1.5 1.5 1.5 -1.5 1.5zM209.7 218.4l1.5 -1.5 1.5 1.5 -1.5 1.5zM209.8 220.4l1.5 -1.5 1.5 1.5 -1.5 1.5zM210.0 222.7l1.5 -1.5 1.5 1.5 -1.5 1.5zM210.2 224.5l1.5 -1.5 1.5 1.5 -1.5 1.5zM210.4 216.9l1.5 -1.5 1.5 1.5 -1.5 1.5zM210.5 224.4l1.5 -1.5 1.5 1.5 -1.5 1.5zM210.7 223.5l1.5 -1.5 1.5 1.5 -1.5 1.5zM210.9 218.9l1.5 -1.5 1.5 1.5 -1.5 1.5zM211.0 218.1l1.5 -1.5 1.5 1.5 -1.5 1.5zM211.2 222.4l1.5 -1.5 1.5 1.5 -1.5 1.5zM211.4 220.5l1.5 -1.5 1.5 1.5 -1.5 1.5zM211.5 221.8l1.5 -1.5 1.5 1.5 -1.5 1.5zM211.7 223.4l1.5 -1.5 1.5 1.5 -1.5 1.5zM211.9 220.6l1.5 -1.5 1.5 1.5 -1.5 1.5zM212.0 221.8l1.5 -1.5 1.5 1.5 -1.5 1.5zM212.2 222.5l1.5 -1.5 1.5 1.5 -1.5 1.5zM212.4 223.4l1.5 -1.5 1.5 1.5 -1.5 1.5zM212.6 225.4l1.5 -1.5 1.5 1.5 -1.5 1.5zM212.7 225.2l1.5 -1.5 1.5 1.5 -1.5 1.5zM212.9 221.8l1.5 -1.5 1.5 1.5 -1.5 1.5zM213.1 220.6l1.5 -1.5 1.5 1.5 -1.5 1.5zM213.2 226.5l1.5 -1.5 1.5 1.5 -1.5 1.5zM213.4 222.5l1.5 -1.5 1.5 1.5 -1.5 1.5zM213.6 221.9l1.5 -1.5 1.5 1.5 -1.5 1.5zM213.7 218.3l1.5 -1.5 1.5 1.5 -1.5 1.5zM213.9 222.4l1.5 -1.5 1.5 1.5 -1.5 1.5zM214.1 218.7l1.5 -1.5 1.5 1.5 -1.5 1.5zM214.3 219.2l1.5 -1.5 1.5 1.5 -1.5 1.5zM214.4 217.0l1.5 -1.5 1.5 1.5 -1.5 1.5zM214.6 218.6l1.5 -1.5 1.5 1.5 -1.5 1.5zM214.8 219.6l1.5 -1.5 1.5 1.5 -1.5 1.5zM214.9 215.5l1.5 -1.5 1.5 1.5 -1.5 1.5zM215.1 216.4l1.5 -1.5 1.5 1.5 -1.5 1.5zM215.3 217.7l1.5 -1.5 1.5 1.5 -1.5 1.5zM215.4 214.2l1.5 -1.5 1.5 1.5 -1.5 1.5zM215.6 213.2l1.5 -1.5 1.5 1.5 -1.5 1.5zM215.8 212.8l1.5 -1.5 1.5 1.5 -1.5 1.5zM215.9 209.8l1.5 -1.5 1.5 1.5 -1.5 1.5zM216.1 212.1l1.5 -1.5 1.5 1.5 -1.5 1.5zM216.3 205.4l1.5 -1.5 1.5 1.5 -1.5 1.5zM216.5 205.6l1.5 -1.5 1.5 1.5 -1.5 1.5zM216.6 201.3l1.5 -1.5 1.5 1.5 -1.5 1.5zM216.8 191.6l1.5 -1.5 1.5 1.5 -1.5 1.5zM217.0 190.5l1.5 -1.5 1.5 1.5 -1.5 1.5zM217.1 188.1l1.5 -1.5 1.5 1.5 -1.5 1.5zM217.3 188.8l1.5 -1.5 1.5 1.5 -1.5 1.5zM217.5 195.0l1.5 -1.5 1.5 1.5 -1.5 1.5zM217.6 200.2l1.5 -1.5 1.5 1.5 -1.5 1.5zM217.8 207.0l1.5 -1.5 1.5 1.5 -1.5 1.5zM218.0 211.4l1.5 -1.5 1.5 1.5 -1.5 1.5zM218.1 209.4l1.5 -1.5 1.5 1.5 -1.5 1.5zM218.3 213.3l1.5 -1.5 1.5 1.5 -1.5 1.5zM218.5 217.1l1.5 -1.5 1.5 1.5 -1.5 1.5zM218.7 220.0l1.5 -1.5 1.5 1.5 -1.5 1.5zM218.8 212.7l1.5 -1.5 1.5 1.5 -1.5 1.5zM219.0 222.1l1.5 -1.5 1.5 1.5 -1.5 1.5zM219.2 219.5l1.5 -1.5 1.5 1.5 -1.5 1.5zM219.3 223.9l1.5 -1.5 1.5 1.5 -1.5 1.5zM219.5 219.9l1.5 -1.5 1.5 1.5 -1.5 1.5zM219.7 219.4l1.5 -1.5 1.5 1.5 -1.5 1.5zM219.8 221.8l1.5 -1.5 1.5 1.5 -1.5 1.5zM220.0 224.6l1.5 -1.5 1.5 1.5 -1.5 1.5zM220.2 222.3l1.5 -1.5 1.5 1.5 -1.5 1.5zM220.4 217.0l1.5 -1.5 1.5 1.5 -1.5 1.5zM220.5 224.2l1.5 -1.5 1.5 1.5 -1.5 1.5zM220.7 219.2l1.5 -1.5 1.5 1.5 -1.5 1.5zM220.9 220.8l1.5 -1.5 1.5 1.5 -1.5 1.5zM221.0 220.5l1.5 -1.5 1.5 1.5 -1.5 1.5zM221.2 219.1l1.5 -1.5 1.5 1.5 -1.5 1.5zM221.4 220.6l1.5 -1.5 1.5 1.5 -1.5 1.5zM221.5 221.3l1.5 -1.5 1.5 1.5 -1.5 1.5zM221.7 222.3l1.5 -1.5 1.5 1.5 -1.5 1.5zM221.9 223.7l1.5 -1.5 1.5 1.5 -1.5 1.5zM222.0 223.1l1.5 -1.5 1.5 1.5 -1.5 1.5zM222.2 220.6l1.5 -1.5 1.5 1.5 -1.5 1.5zM222.4 223.7l1.5 -1.5 1.5 1.5 -1.5 1.5zM222.6 226.4l1.5 -1.5 1.5 1.5 -1.5 1.5zM222.7 226.4l1.5 -1.5 1.5 1.5 -1.5 1.5zM222.9 224.6l1.5 -1.5 1.5 1.5 -1.5 1.5zM223.1 225.8l1.5 -1.5 1.5 1.5 -1.5 1.5zM223.2 226.5l1.5 -1.5 1.5 1.5 -1.5 1.5zM223.4 227.7l1.5 -1.5 1.5 1.5 -1.5 1.5zM223.6 228.5l1.5 -1.5 1.5 1.5 -1.5 1.5zM223.7 224.0l1.5 -1.5 1.5 1.5 -1.5 1.5zM223.9 224.1l1.5 -1.5 1.5 1.5 -1.5 1.5zM224.1 228.2l1.5 -1.5 1.5 1.5 -1.5 1.5zM224.2 228.5l1.5 -1.5 1.5 1.5 -1.5 1.5zM89.1 80.8l1.5 -1.5 1.5 1.5 -1.5 1.5zM89.1 83.6l1.5 -1.5 1.5 1.5 -1.5 1.5zM89.1 86.4l1.5 -1.5 1.5 1.5 -1.5 1.5zM89.1 89.5l1.5 -1.5 1.5 1.5 -1.5 1.5zM116.1 79.5l1.5 -1.5 1.5 1.5 -1.5 1.5zM116.1 81.7l1.5 -1.5 1.5 1.5 -1.5 1.5zM116.1 83.9l1.5 -1.5 1.5 1.5 -1.5 1.5zM116.1 86.1l1.5 -1.5 1.5 1.5 -1.5 1.5zM116.1 88.3l1.5 -1.5 1.5 1.5 -1.5 1.5zM116.1 90.5l1.5 -1.5 1.5 1.5 -1.5 1.5zM116.1 92.7l1.5 -1.5 1.5 1.5 -1.5 1.5zM88.1 96.0l1.5 -1.5 1.5 1.5 -1.5 1.5zM88.1 103.0l1.5 -1.5 1.5 1.5 -1.5 1.5zM88.1 110.0l1.5 -1.5 1.5 1.5 -1.5 1.5zM88.1 117.0l1.5 -1.5 1.5 1.5 -1.5 1.5zM88.1 124.0l1.5 -1.5 1.5 1.5 -1.5 1.5zM88.1 131.0l1.5 -1.5 1.5 1.5 -1.5 1.5zM88.1 138.0l1.5 -1.5 1.5 1.5 -1.5 1.5zM88.1 145.0l1.5 -1.5 1.5 1.5 -1.5 1.5zM88.1 152.0l1.5 -1.5 1.5 1.5 -1.5 1.5zM88.1 159.0l1.5 -1.5 1.5 1.5 -1.5 1.5zM88.1 166.0l1.5 -1.5 1.5 1.5 -1.5 1.5zM88.1 173.0l1.5 -1.5 1.5 1.5 -1.5 1.5zM88.1 180.0l1.5 -1.5 1.5 1.5 -1.5 1.5zM88.1 187.0l1.5 -1.5 1.5 1.5 -1.5 1.5zM88.1 194.0l1.5 -1.5 1.5 1.5 -1.5 1.5zM88.1 201.0l1.5 -1.5 1.5 1.5 -1.5 1.5zM88.1 208.0l1.5 -1.5 1.5 1.5 -1.5 1.5z" fill="none" stroke="#000" stroke-width="0.8"/>
<path d="M39.5 235.3L39.8 234.4L40.2 234.6L40.5 235.9L40.9 235.8L41.2 236.0L41.5 235.7L41.9 235.0L42.2 234.8L42.6 235.5L42.9 234.4L43.2 233.7L43.6 233.5L43.9 233.5L44.2 233.8L44.6 234.6L44.9 234.0L45.3 233.6L45.6 233.7L45.9 234.2L46.3 233.6L46.6 233.9L47.0 233.8L47.3 233.4L47.6 232.6L48.0 232.5L48.3 232.9L48.7 231.7L49.0 230.8L49.3 230.5L49.7 231.3L50.0 231.8L50.3 231.6L50.7 231.7L51.0 231.4L51.4 230.3L51.7 230.3L52.0 230.8L52.4 231.4L52.7 231.7L53.1 232.3L53.4 231.0L53.7 231.1L54.1 229.8L54.4 229.6L54.8 229.8L55.1 229.7L55.4 229.3L55.8 229.8L56.1 229.6L56.4 229.4L56.8 228.7L57.1 229.0L57.5 229.1L57.8 229.0L58.1 229.1L58.5 229.2L58.8 229.1L59.2 227.8L59.5 227.8L59.8 228.3L60.2 228.2L60.5 227.7L60.9 228.4L61.2 228.7L61.5 228.5L61.9 227.8L62.2 228.3L62.5 228.2L62.9 228.1L63.2 228.4L63.6 227.2L63.9 227.0L64.2 226.6L64.6 227.1L64.9 227.1L65.3 227.0L65.6 226.5L65.9 225.9L66.3 226.2L66.6 226.5L67.0 226.6L67.3 226.1L67.6 225.1L68.0 224.8L68.3 225.0L68.6 224.1L69.0 225.0L69.3 225.2L69.7 225.6L70.0 226.1L70.3 225.2L70.7 223.5L71.0 223.3L71.4 223.5L71.7 222.9L72.0 223.6L72.4 224.9L72.7 223.9L73.1 223.8L73.4 223.4L73.7 223.1L74.1 223.4L74.4 223.3L74.8 223.3L75.1 223.3L75.4 223.4L75.8 222.8L76.1 222.2L76.4 222.0L76.8 222.1L77.1 221.8L77.5 221.7L77.8 221.3L78.1 222.0L78.5 222.4L78.8 222.8L79.2 222.0L79.5 221.3L79.8 220.8L80.2 221.3L80.5 222.4L80.9 222.2L81.2 221.3L81.5 220.5L81.9 219.9L82.2 220.0L82.5 220.6L82.9 220.2L83.2 219.0L83.6 219.5L83.9 219.0L84.2 218.8L84.6 219.5L84.9 218.8L85.3 218.5L85.6 218.1L85.9 217.8L86.3 217.3L86.6 216.9L87.0 215.9L87.3 215.5L87.6 215.2L88.0 214.9L88.3 214.2L88.6 211.6L89.0 209.0L89.3 204.3L89.7 194.7L90.0 176.8L90.3 137.9L90.7 92.3L91.0 126.5L91.4 172.5L91.7 194.5L92.0 204.2L92.4 209.4L92.7 211.1L93.1 213.1L93.4 215.4L93.7 216.4L94.1 217.0L94.4 217.0L94.7 216.5L95.1 217.5L95.4 219.0L95.8 218.7L96.1 217.9L96.4 218.4L96.8 216.8L97.1 216.0L97.5 216.5L97.8 218.3L98.1 217.6L98.5 217.9L98.8 216.5L99.2 215.0L99.5 212.5L99.8 208.4L100.2 201.9L100.5 201.7L100.8 209.2L101.2 212.9L101.5 215.2L101.9 216.4L102.2 216.9L102.5 217.4L102.9 217.3L103.2 218.5L103.6 217.7L103.9 217.3L104.2 216.4L104.6 216.8L104.9 217.3L105.3 217.5L105.6 216.9L105.9 216.6L106.3 216.6L106.6 216.8L106.9 216.9L107.3 215.5L107.6 214.8L108.0 214.0L108.3 214.0L108.6 213.5L109.0 213.3L109.3 211.5L109.7 211.1L110.0 209.8L110.3 209.1L110.7 207.9L111.0 207.4L111.4 206.0L111.7 205.5L112.0 203.3L112.4 200.8L112.7 198.2L113.1 195.8L113.4 192.2L113.7 187.6L114.1 182.2L114.4 177.5L114.7 170.7L115.1 162.0L115.4 151.6L115.8 139.8L116.1 126.4L116.4 112.2L116.8 99.4L117.1 91.8L117.5 89.1L117.8 94.5L118.1 104.4L118.5 117.3L118.8 130.7L119.2 143.4L119.5 154.6L119.8 164.5L120.2 173.0L120.5 179.4L120.8 183.9L121.2 189.7L121.5 194.4L121.9 198.1L122.2 199.2L122.5 201.6L122.9 202.2L123.2 203.1L123.6 202.9L123.9 204.0L124.2 203.3L124.6 199.9L124.9 194.7L125.3 187.4L125.6 186.1L125.9 192.7L126.3 200.8L126.6 205.7L126.9 209.9L127.3 213.2L127.6 214.3L128.0 214.0L128.3 214.8L128.6 215.9L129.0 218.0L129.3 218.2L129.7 218.4L130.0 218.1L130.3 218.1L130.7 219.0L131.0 220.2L131.4 219.8L131.7 219.2L132.0 219.3L132.4 219.5L132.7 221.0L133.0 220.7L133.4 220.1L133.7 219.5L134.1 220.1L134.4 221.6L134.7 221.0L135.1 220.8L135.4 221.7L135.8 222.7L136.1 222.8L136.4 222.2L136.8 222.7L137.1 223.2L137.5 223.7L137.8 222.9L138.1 223.6L138.5 224.4L138.8 224.2L139.1 223.4L139.5 223.4L139.8 223.9L140.2 223.6L140.5 223.5L140.8 222.9L141.2 223.2L141.5 221.4L141.9 221.3L142.2 222.3L142.5 222.4L142.9 221.6L143.2 221.7L143.6 220.7L143.9 220.7L144.2 220.1L144.6 220.2L144.9 219.4L145.3 219.7L145.6 219.2L145.9 218.6L146.3 217.3L146.6 216.3L146.9 214.6L147.3 213.9L147.6 212.1L148.0 212.2L148.3 211.3L148.6 210.8L149.0 210.4L149.3 210.9L149.7 211.2L150.0 212.7L150.3 213.6L150.7 214.4L151.0 216.4L151.4 217.7L151.7 218.4L152.0 218.5L152.4 219.6L152.7 219.9L153.0 220.1L153.4 220.6L153.7 220.6L154.1 220.1L154.4 220.9L154.7 221.1L155.1 221.7L155.4 222.4L155.8 222.2L156.1 221.3L156.4 221.5L156.8 221.6L157.1 221.7L157.5 220.9L157.8 220.8L158.1 221.5L158.5 221.5L158.8 220.4L159.1 220.5L159.5 220.5L159.8 221.2L160.2 220.9L160.5 219.9L160.8 219.5L161.2 219.3L161.5 219.0L161.9 219.3L162.2 219.1L162.5 217.7L162.9 217.5L163.2 218.0L163.6 217.8L163.9 217.7L164.2 217.3L164.6 215.9L164.9 213.6L165.2 210.6L165.6 209.3L165.9 212.6L166.3 214.8L166.6 217.1L166.9 216.2L167.3 215.6L167.6 215.4L168.0 217.1L168.3 217.7L168.6 218.1L169.0 217.6L169.3 217.8L169.7 217.8L170.0 218.2L170.3 217.1L170.7 215.8L171.0 216.5L171.3 217.2L171.7 216.8L172.0 215.7L172.4 216.6L172.7 215.9L173.0 215.2L173.4 215.8L173.7 214.7L174.1 214.1L174.4 214.0L174.7 213.8L175.1 213.4L175.4 212.9L175.8 211.7L176.1 209.9L176.4 208.2L176.8 205.6L177.1 202.7L177.5 197.8L177.8 196.3L178.1 199.9L178.5 203.8L178.8 207.0L179.1 208.3L179.5 210.4L179.8 210.9L180.2 210.9L180.5 210.5L180.8 210.3L181.2 210.3L181.5 211.3L181.9 210.1L182.2 210.5L182.5 209.9L182.9 210.0L183.2 210.4L183.6 209.3L183.9 208.5L184.2 207.8L184.6 207.0L184.9 205.5L185.2 204.9L185.6 204.5L185.9 201.9L186.3 198.3L186.6 194.7L186.9 189.6L187.3 183.0L187.6 173.4L188.0 161.3L188.3 151.6L188.6 150.4L189.0 158.1L189.3 169.5L189.7 180.6L190.0 187.4L190.3 192.1L190.7 196.4L191.0 201.0L191.3 203.6L191.7 204.8L192.0 205.2L192.4 206.4L192.7 207.8L193.0 208.9L193.4 208.2L193.7 207.0L194.1 207.2L194.4 208.0L194.7 209.8L195.1 210.1L195.4 209.4L195.8 208.8L196.1 209.5L196.4 209.9L196.8 210.4L197.1 211.2L197.4 211.6L197.8 211.6L198.1 212.0L198.5 211.6L198.8 210.8L199.1 210.8L199.5 211.0L199.8 211.0L200.2 211.8L200.5 211.9L200.8 211.0L201.2 209.6L201.5 208.0L201.9 204.9L202.2 201.5L202.5 198.8L202.9 191.2L203.2 176.8L203.5 156.5L203.9 147.7L204.2 163.3L204.6 183.1L204.9 195.7L205.2 202.6L205.6 206.5L205.9 210.0L206.3 212.9L206.6 215.4L206.9 215.7L207.3 216.4L207.6 217.6L208.0 219.0L208.3 219.9L208.6 220.4L209.0 221.0L209.3 221.6L209.7 222.0L210.0 221.9L210.3 222.3L210.7 221.7L211.0 220.2L211.3 220.4L211.7 221.6L212.0 222.5L212.4 222.4L212.7 221.5L213.0 221.3L213.4 221.3L213.7 220.7L214.1 221.0L214.4 221.0L214.7 220.8L215.1 221.2L215.4 221.3L215.8 221.2L216.1 221.2L216.4 220.3L216.8 220.4L217.1 219.5L217.4 218.4L217.8 217.9L218.1 217.0L218.5 217.6L218.8 217.1L219.1 217.5L219.5 219.2L219.8 219.2L220.2 219.9L220.5 220.6L220.8 222.0L221.2 221.6L221.5 221.6L221.9 223.0L222.2 223.6L222.5 223.7L222.9 223.1L223.2 222.8L223.5 222.9L223.9 222.7L224.2 224.0L224.6 224.4L224.9 225.5L225.2 225.2L225.6 225.1" fill="none" stroke="#f00" stroke-width="1.6" stroke-linejoin="round"/>
<path d="M39.5 303.3L39.9 306.3L40.4 306.8L40.8 303.5L41.3 304.1L41.7 307.0L42.2 302.2L42.6 303.3L43.1 307.0L43.5 308.3L43.9 307.8L44.4 309.3L44.8 310.5L45.3 309.0L45.7 306.5L46.2 311.8L46.6 310.8L47.1 309.1L47.5 305.3L47.9 308.0L48.4 302.5L48.8 306.4L49.3 301.6L49.7 306.2L50.2 309.3L50.6 307.1L51.1 310.7L51.5 307.1L51.9 307.3L52.4 306.4L52.8 308.3L53.3 307.0L53.7 309.8L54.2 310.7L54.6 307.9L55.1 304.6L55.5 308.3L55.9 310.1L56.4 308.5L56.8 307.8L57.3 309.2L57.7 310.0L58.2 301.4L58.6 310.5L59.1 308.8L59.5 308.2L59.9 305.9L60.4 307.6L60.8 308.5L61.3 303.9L61.7 308.8L62.2 307.3L62.6 310.4L63.1 308.6L63.5 306.7L63.9 307.2L64.4 308.5L64.8 307.4L65.3 308.3L65.7 305.6L66.2 304.4L66.6 305.9L67.1 304.0L67.5 305.4L67.9 307.9L68.4 303.5L68.8 304.4L69.3 308.7L69.7 306.0L70.2 307.1L70.6 304.4L71.1 304.8L71.5 306.5L71.9 310.7L72.4 308.1L72.8 303.4L73.3 308.1L73.7 309.1L74.2 308.6L74.6 304.4L75.1 307.0L75.5 311.8L75.9 305.1L76.4 307.8L76.8 305.5L77.3 304.3L77.7 306.2L78.2 309.4L78.6 309.7L79.1 305.2L79.5 306.1L80.0 305.1L80.4 302.5L80.8 308.4L81.3 310.5L81.7 310.4L82.2 306.1L82.6 310.0L83.1 309.5L83.5 306.3L84.0 307.0L84.4 306.2L84.8 307.6L85.3 311.0L85.7 305.0L86.2 304.3L86.6 308.8L87.1 307.0L87.5 302.6L88.0 304.4L88.4 304.6L88.8 304.6L89.3 305.8L89.7 304.7L90.2 291.4L90.6 274.1L91.1 296.3L91.5 306.1L92.0 308.5L92.4 305.6L92.8 304.9L93.3 311.3L93.7 308.9L94.2 304.9L94.6 303.2L95.1 306.4L95.5 309.7L96.0 305.9L96.4 306.5L96.8 306.0L97.3 308.5L97.7 310.2L98.2 304.4L98.6 306.5L99.1 306.7L99.5 305.7L100.0 304.5L100.4 309.0L100.8 307.5L101.3 308.7L101.7 310.5L102.2 306.2L102.6 308.3L103.1 306.3L103.5 307.2L104.0 307.9L104.4 307.2L104.8 304.3L105.3 310.2L105.7 306.9L106.2 304.3L106.6 302.1L107.1 306.5L107.5 309.3L108.0 310.1L108.4 311.2L108.8 306.7L109.3 307.9L109.7 304.5L110.2 305.6L110.6 309.5L111.1 303.9L111.5 310.1L112.0 299.2L112.4 310.3L112.8 313.6L113.3 304.6L113.7 311.5L114.2 305.3L114.6 311.5L115.1 313.2L115.5 307.1L116.0 314.1L116.4 305.1L116.8 309.3L117.3 314.3L117.7 301.9L118.2 308.5L118.6 305.2L119.1 312.8L119.5 303.7L120.0 298.3L120.4 301.7L120.8 309.8L121.3 312.8L121.7 312.5L122.2 308.1L122.6 314.5L123.1 308.6L123.5 311.2L124.0 316.3L124.4 312.9L124.8 310.1L125.3 310.1L125.7 309.8L126.2 306.2L126.6 311.7L127.1 306.6L127.5 305.4L128.0 306.6L128.4 309.3L128.8 301.7L129.3 304.2L129.7 309.5L130.2 307.7L130.6 307.0L131.1 303.6L131.5 310.8L132.0 309.4L132.4 308.7L132.8 304.7L133.3 308.5L133.7 309.7L134.2 306.4L134.6 306.6L135.1 306.1L135.5 308.5L136.0 306.7L136.4 306.5L136.8 304.0L137.3 303.5L137.7 309.2L138.2 310.6L138.6 309.1L139.1 310.3L139.5 306.0L140.0 307.1L140.4 308.0L140.8 306.8L141.3 310.8L141.7 304.2L142.2 305.9L142.6 306.4L143.1 305.6L143.5 309.0L144.0 302.8L144.4 309.7L144.8 309.2L145.3 307.9L145.7 310.2L146.2 312.3L146.6 307.6L147.1 308.8L147.5 308.0L148.0 308.3L148.4 306.1L148.8 305.6L149.3 308.5L149.7 306.0L150.2 309.2L150.6 308.9L151.1 306.2L151.5 308.0L152.0 307.4L152.4 306.9L152.9 309.7L153.3 307.3L153.7 307.7L154.2 302.9L154.6 308.5L155.1 304.0L155.5 306.4L156.0 310.7L156.4 311.1L156.9 306.4L157.3 304.4L157.7 308.1L158.2 306.3L158.6 308.0L159.1 304.3L159.5 309.7L160.0 310.6L160.4 304.0L160.9 305.5L161.3 305.7L161.7 308.8L162.2 302.9L162.6 307.7L163.1 306.7L163.5 305.5L164.0 308.8L164.4 302.9L164.9 304.2L165.3 305.5L165.7 308.8L166.2 306.5L166.6 305.4L167.1 308.3L167.5 306.2L168.0 305.8L168.4 306.6L168.9 308.0L169.3 313.1L169.7 304.8L170.2 307.8L170.6 306.9L171.1 306.7L171.5 310.6L172.0 308.9L172.4 308.7L172.9 306.2L173.3 305.4L173.7 307.9L174.2 306.6L174.6 306.0L175.1 308.7L175.5 304.6L176.0 305.6L176.4 309.0L176.9 307.1L177.3 308.7L177.7 305.4L178.2 308.8L178.6 305.7L179.1 310.2L179.5 309.0L180.0 308.3L180.4 310.6L180.9 308.0L181.3 305.9L181.7 310.7L182.2 308.0L182.6 309.9L183.1 307.6L183.5 309.8L184.0 305.4L184.4 304.5L184.9 304.2L185.3 308.9L185.7 302.9L186.2 303.3L186.6 304.1L187.1 307.8L187.5 308.2L188.0 305.5L188.4 309.0L188.9 307.9L189.3 309.9L189.7 309.3L190.2 305.7L190.6 307.7L191.1 306.9L191.5 308.2L192.0 307.7L192.4 307.3L192.9 308.8L193.3 307.5L193.7 309.1L194.2 307.7L194.6 307.6L195.1 310.3L195.5 310.9L196.0 312.1L196.4 311.3L196.9 310.0L197.3 311.2L197.7 311.3L198.2 306.9L198.6 307.9L199.1 313.1L199.5 309.0L200.0 302.1L200.4 307.3L200.9 307.2L201.3 303.4L201.7 310.3L202.2 306.7L202.6 304.3L203.1 299.1L203.5 294.5L204.0 284.9L204.4 278.7L204.9 285.8L205.3 296.5L205.7 301.0L206.2 303.7L206.6 302.1L207.1 305.7L207.5 305.6L208.0 306.5L208.4 306.6L208.9 303.2L209.3 308.4L209.7 308.3L210.2 304.0L210.6 307.1L211.1 306.1L211.5 308.0L212.0 312.3L212.4 312.4L212.9 316.5L213.3 312.6L213.7 309.6L214.2 311.3L214.6 304.3L215.1 312.2L215.5 307.5L216.0 306.7L216.4 304.9L216.9 301.2L217.3 300.7L217.7 295.5L218.2 289.6L218.6 282.6L219.1 277.4L219.5 291.9L220.0 293.4L220.4 301.9L220.9 301.0L221.3 301.1L221.7 305.5L222.2 305.6L222.6 305.2L223.1 305.8L223.5 304.8L224.0 307.2L224.4 305.3L224.9 306.5L225.3 309.0L225.8 303.7" fill="none" stroke="#00f" stroke-width="1.2" stroke-linejoin="round"/>
<rect x="306.3" y="51.0" width="186.1" height="278.9" fill="none" stroke="#2a2a2a" stroke-width="1.1"/>
<path d="M306.30 329.9v4.2M368.33 329.9v4.2M430.37 329.9v4.2M492.40 329.9v4.2M337.32 329.9v2.4M399.35 329.9v2.4M461.38 329.9v2.4" stroke="#2a2a2a" stroke-width="1.1" fill="none"/>
<text x="306.3" y="351.7" font-size="16.6" text-anchor="middle" fill="#222" font-family="'Liberation Sans',sans-serif">1</text>
<text x="368.3" y="351.7" font-size="16.6" text-anchor="middle" fill="#222" font-family="'Liberation Sans',sans-serif">2</text>
<text x="430.4" y="351.7" font-size="16.6" text-anchor="middle" fill="#222" font-family="'Liberation Sans',sans-serif">3</text>
<text x="492.4" y="351.7" font-size="16.6" text-anchor="middle" fill="#222" font-family="'Liberation Sans',sans-serif">4</text>
<text x="372.6" y="373.5" font-size="16.8" fill="#222" textLength="51.5" lengthAdjust="spacingAndGlyphs" font-family="'Liberation Sans',sans-serif">q (Å<tspan dy="-7.5" dx="1" font-size="11">-1</tspan><tspan dy="7.5" dx="1">)</tspan></text>
<text x="318" y="76.5" font-size="19.5" fill="#111" font-family="'Liberation Sans',sans-serif">(b)</text>
<text transform="translate(279 195.5) rotate(-90)" font-size="18.75" text-anchor="middle" fill="#111" font-family="'Liberation Sans',sans-serif">Intesnity (a.u.)</text>
<path d="M306.3 306.3L306.7 302.7L307.0 307.8L307.4 306.7L307.7 304.3L308.1 306.1L308.5 303.7L308.8 303.2L309.2 306.0L309.5 303.2L309.9 305.0L310.2 304.4L310.6 306.9L311.0 304.9L311.3 306.7L311.7 305.6L312.0 303.0L312.4 302.4L312.8 300.9L313.1 304.0L313.5 299.7L313.8 302.6L314.2 300.1L314.5 302.7L314.9 304.6L315.3 302.2L315.6 302.6L316.0 302.7L316.3 303.8L316.7 301.2L317.1 303.6L317.4 303.3L317.8 301.9L318.1 302.0L318.5 305.3L318.9 304.6L319.2 304.1L319.6 302.3L319.9 303.0L320.3 301.6L320.6 300.9L321.0 302.8L321.4 302.7L321.7 301.7L322.1 301.7L322.4 304.1L322.8 302.9L323.2 301.2L323.5 306.7L323.9 301.0L324.2 303.9L324.6 302.1L324.9 304.6L325.3 303.7L325.7 305.2L326.0 303.6L326.4 302.5L326.7 305.8L327.1 303.6L327.5 303.4L327.8 303.5L328.2 302.6L328.5 304.2L328.9 306.2L329.2 306.0L329.6 304.2L330.0 304.7L330.3 304.9L330.7 302.8L331.0 306.0L331.4 304.2L331.8 301.1L332.1 304.7L332.5 302.4L332.8 304.3L333.2 304.8L333.6 303.4L333.9 304.3L334.3 305.9L334.6 301.8L335.0 301.0L335.3 303.7L335.7 303.5L336.1 307.0L336.4 305.4L336.8 304.7L337.1 303.8L337.5 301.0L337.9 302.0L338.2 303.5L338.6 304.2L338.9 303.3L339.3 304.1L339.6 305.0L340.0 302.9L340.4 303.4L340.7 302.5L341.1 305.8L341.4 301.0L341.8 304.9L342.2 305.2L342.5 301.0L342.9 303.3L343.2 305.7L343.6 302.7L344.0 303.2L344.3 304.0L344.7 306.1L345.0 305.0L345.4 303.1L345.7 302.0L346.1 301.9L346.5 304.6L346.8 300.9L347.2 303.3L347.5 305.0L347.9 302.3L348.3 303.7L348.6 304.0L349.0 305.3L349.3 302.2L349.7 304.3L350.0 304.1L350.4 304.4L350.8 301.9L351.1 305.0L351.5 303.0L351.8 304.1L352.2 303.0L352.6 307.2L352.9 304.4L353.3 307.5L353.6 303.4L354.0 303.9L354.3 306.5L354.7 303.8L355.1 305.0L355.4 306.1L355.8 303.8L356.1 303.3L356.5 304.0L356.9 305.9L357.2 305.0L357.6 306.3L357.7 304.0L357.9 303.7L358.3 302.7L358.7 304.0L359.0 303.6L359.4 304.3L359.7 303.0L360.1 303.4L360.4 304.0L360.8 305.9L361.2 304.0L361.5 303.6L361.9 306.0L362.2 306.5L362.6 304.1L363.0 304.2L363.3 301.8L363.7 302.2L364.0 304.5L364.4 306.7L364.7 307.3L365.1 305.8L365.5 303.9L365.8 305.4L366.2 302.4L366.5 304.5L366.9 302.9L367.3 304.7L367.4 306.8L367.6 307.9L368.0 305.0L368.3 305.3L368.7 302.2L369.1 303.7L369.4 307.0L369.8 306.5L370.1 306.0L370.5 305.4L370.5 307.2L370.8 304.4L371.2 304.5L371.6 309.0L371.9 303.5L372.3 305.5L372.6 304.2L373.0 307.0L373.4 304.4L373.7 304.3L374.1 304.4L374.4 306.1L374.8 303.3L375.1 302.6L375.5 304.7L375.9 304.3L376.2 305.7L376.6 304.4L376.9 304.0L377.3 305.3L377.7 305.6L378.0 306.5L378.4 305.0L378.7 302.2L379.1 304.9L379.4 305.0L379.8 304.8L380.2 305.8L380.5 304.6L380.9 306.7L381.2 304.6L381.6 307.1L382.0 303.4L382.3 301.5L382.7 303.6L383.0 309.3L383.4 304.7L383.5 304.9L383.8 305.5L384.1 304.5L384.5 305.5L384.5 305.3L384.8 308.2L385.2 306.9L385.5 305.5L385.9 306.2L386.3 306.1L386.6 303.6L387.0 306.9L387.3 304.3L387.7 306.5L388.1 305.5L388.4 306.7L388.8 307.6L389.1 306.4L389.5 304.8L389.8 305.1L390.2 306.5L390.6 305.0L390.9 305.1L391.3 305.6L391.6 305.3L392.0 306.6L392.4 305.2L392.5 306.1L392.7 304.8L393.1 303.4L393.4 307.2L393.8 307.6L394.2 305.4L394.5 307.4L394.9 306.7L395.2 304.5L395.6 308.1L395.9 303.4L396.3 306.3L396.7 307.5L397.0 304.8L397.4 309.0L397.7 305.7L398.1 308.5L398.5 306.4L398.8 307.8L399.2 306.7L399.5 310.4L399.9 307.5L400.2 308.5L400.6 308.1L401.0 307.3L401.3 306.7L401.7 307.8L402.0 308.7L402.4 308.6L402.8 308.1L403.1 307.2L403.5 308.5L403.8 306.0L404.2 307.5L404.5 304.5L404.9 306.6L405.3 307.4L405.6 305.6L406.0 306.0L406.3 309.2L406.7 308.6L407.1 309.5L407.4 309.7L407.8 309.0L408.1 309.2L408.5 308.5L408.9 310.1L409.2 305.9L409.6 308.0L409.9 309.8L410.3 309.6L410.6 308.5L411.0 307.9L411.4 309.7L411.7 308.3L412.1 306.9L412.4 310.3L412.8 308.0L413.2 308.9L413.5 306.2L413.9 304.8L414.2 309.3L414.6 311.2L414.9 305.3L415.3 307.9L415.7 309.6L416.0 309.0L416.1 308.8L416.4 308.7L416.7 307.3L416.7 310.4L417.1 310.2L417.5 309.4L417.8 305.4L418.2 311.4L418.5 308.8L418.9 309.7L419.3 311.8L419.6 310.9L420.0 308.8L420.3 310.6L420.7 309.9L421.0 308.1L421.4 309.2L421.8 306.4L422.1 306.7L422.5 309.3L422.8 311.2L423.2 307.6L423.6 310.9L423.9 309.4L424.3 311.8L424.6 308.6L425.0 313.6L425.3 309.9L425.7 308.9L426.1 309.6L426.4 306.5L426.8 309.8L427.1 308.8L427.5 310.1L427.9 308.8L428.2 305.2L428.6 305.4L428.9 308.4L429.3 307.5L429.6 310.7L430.0 307.8L430.4 310.1L430.7 309.2L431.1 311.8L431.4 309.6L431.8 309.8L432.2 308.0L432.5 310.1L432.8 310.5L432.9 309.4L433.2 310.6L433.6 308.0L434.0 309.3L434.3 310.2L434.7 309.1L435.0 311.5L435.4 310.6L435.7 308.7L436.1 308.3L436.5 309.7L436.8 308.6L437.2 309.1L437.5 308.1L437.9 310.9L438.3 310.0L438.6 310.3L439.0 311.1L439.3 306.4L439.7 309.9L440.0 309.5L440.4 310.9L440.8 310.7L441.1 310.7L441.5 311.9L441.8 307.2L442.2 308.4L442.6 311.8L442.9 312.2L443.3 308.8L443.6 311.7L444.0 311.4L444.4 308.0L444.7 309.2L444.8 310.6L445.1 310.0L445.1 312.8L445.4 311.1L445.8 311.5L446.1 309.2L446.5 308.3L446.9 309.3L447.2 312.3L447.6 313.0L447.9 309.0L448.3 310.1L448.7 306.6L449.0 312.2L449.4 308.4L449.7 311.7L450.1 312.3L450.4 308.4L450.8 309.1L451.2 311.5L451.5 312.5L451.9 309.7L452.2 308.9L452.6 311.0L453.0 312.4L453.3 308.9L453.7 309.3L454.0 312.3L454.4 310.9L454.7 309.3L455.1 310.6L455.5 311.3L455.8 312.2L455.8 311.1L456.2 310.6L456.5 308.1L456.9 311.5L457.3 311.5L457.6 311.0L458.0 310.8L458.3 310.9L458.7 312.2L459.1 310.2L459.4 309.0L459.8 312.2L460.1 310.3L460.5 310.4L460.8 311.5L461.2 310.5L461.6 310.8L461.9 309.2L462.3 312.9L462.6 308.9L463.0 313.0L463.4 309.1L463.7 309.9L464.1 310.4L464.4 312.4L464.8 311.4L465.1 310.4L465.5 309.2L465.9 312.6L466.2 311.2L466.6 311.8L466.9 310.9L467.3 310.4L467.7 312.2L468.0 311.7L468.4 312.9L468.7 311.5L469.1 309.1L469.5 312.4L469.8 311.4L470.2 311.0L470.2 306.7L470.5 310.0L470.9 311.6L471.2 310.4L471.6 311.8L472.0 312.3L472.3 311.4L472.7 310.0L473.0 312.1L473.4 312.0L473.8 311.1L474.1 308.7L474.5 309.7L474.8 312.7L475.2 311.2L475.5 308.9L475.9 311.3L476.3 311.7L476.6 312.6L477.0 312.3L477.3 312.2L477.7 310.5L478.1 309.2L478.4 310.8L478.8 313.8L479.1 309.5L479.5 313.1L479.8 309.5L480.2 309.8L480.6 311.9L480.9 310.6L481.3 311.5L481.6 310.1L482.0 312.1L482.4 313.2L482.7 309.7L483.1 312.7L483.4 312.5L483.8 313.1L484.2 308.5L484.5 313.3L484.9 310.2L485.2 311.6L485.6 311.3L485.6 310.5L485.9 310.7L486.3 311.0L486.7 312.3L487.0 313.2L487.4 311.6L487.7 313.3L488.1 312.4L488.5 313.9L488.8 310.2L489.2 312.4L489.5 312.1L489.9 312.4L490.2 312.8L490.6 313.5L491.0 312.5L491.3 313.1L491.7 311.9L492.0 312.1L492.4 311.4" fill="none" stroke="#00f" stroke-width="1.25" stroke-linejoin="round"/>
<path d="M306.3 246.2L306.7 247.3L307.0 241.1L307.4 244.1L307.7 244.8L308.1 240.3L308.5 237.8L308.8 244.7L309.2 242.5L309.5 245.4L309.9 243.6L310.2 243.5L310.6 242.6L311.0 243.4L311.3 241.2L311.7 241.9L312.0 244.5L312.4 242.2L312.8 243.6L313.1 242.4L313.5 241.6L313.8 240.1L314.2 243.8L314.5 240.2L314.9 242.5L315.3 238.4L315.6 242.1L316.0 242.2L316.3 239.9L316.7 237.7L317.1 240.6L317.4 241.0L317.8 239.6L318.1 239.2L318.5 242.3L318.9 240.1L319.2 239.3L319.6 241.8L319.9 239.9L320.3 238.3L320.6 241.4L321.0 238.7L321.4 241.3L321.7 237.8L322.1 239.8L322.4 241.5L322.8 239.8L323.2 239.7L323.5 239.5L323.9 240.2L324.2 238.5L324.6 239.1L324.9 237.5L325.3 241.9L325.7 235.9L326.0 239.3L326.4 235.4L326.7 238.5L327.1 240.0L327.5 234.8L327.8 240.6L328.2 234.8L328.5 235.0L328.9 237.2L329.2 234.1L329.6 238.3L330.0 237.2L330.3 230.4L330.7 232.9L331.0 234.2L331.4 236.5L331.8 233.3L332.1 233.9L332.5 236.6L332.8 233.2L333.2 235.8L333.6 232.3L333.9 237.1L334.3 237.9L334.6 232.4L335.0 229.8L335.3 231.1L335.7 236.5L336.1 233.3L336.4 236.5L336.8 231.5L337.1 232.2L337.5 233.8L337.9 236.2L338.2 233.4L338.6 231.7L338.9 234.3L339.3 233.8L339.6 234.6L340.0 233.1L340.4 232.0L340.7 233.3L341.1 228.0L341.4 233.6L341.8 235.5L342.2 234.0L342.5 230.8L342.9 229.5L343.2 235.3L343.6 231.4L344.0 231.9L344.3 232.7L344.7 230.9L345.0 232.1L345.4 235.1L345.7 230.8L346.1 235.7L346.5 232.4L346.8 232.2L347.2 233.4L347.5 233.2L347.9 233.3L348.3 232.2L348.6 229.7L349.0 234.2L349.3 230.3L349.7 228.8L350.0 232.2L350.4 231.5L350.8 230.0L351.1 230.0L351.5 230.9L351.8 233.4L352.2 229.0L352.6 226.3L352.9 227.4L353.3 229.3L353.6 227.4L354.0 225.9L354.3 228.1L354.7 227.3L355.1 224.3L355.4 223.8L355.8 219.4L356.1 215.3L356.5 208.2L356.9 190.2L357.2 157.6L357.6 92.5L357.7 79.2L357.9 103.1L358.3 165.6L358.7 195.4L359.0 209.7L359.4 216.3L359.7 224.6L360.1 220.7L360.4 225.5L360.8 228.5L361.2 225.3L361.5 226.1L361.9 226.4L362.2 224.9L362.6 231.1L363.0 228.0L363.3 226.1L363.7 226.8L364.0 228.2L364.4 226.7L364.7 225.0L365.1 227.1L365.5 223.2L365.8 222.9L366.2 222.2L366.5 217.8L366.9 216.8L367.3 213.4L367.4 220.0L367.6 213.9L368.0 218.1L368.3 217.3L368.7 218.8L369.1 222.3L369.4 222.9L369.8 223.5L370.1 224.6L370.5 226.7L370.5 228.9L370.8 229.2L371.2 225.1L371.6 228.7L371.9 228.4L372.3 223.4L372.6 223.5L373.0 224.0L373.4 228.0L373.7 223.3L374.1 222.8L374.4 225.8L374.8 222.2L375.1 221.9L375.5 223.1L375.9 221.7L376.2 215.8L376.6 217.7L376.9 221.0L377.3 215.8L377.7 220.4L378.0 216.6L378.4 216.1L378.7 214.7L379.1 208.6L379.4 208.8L379.8 205.6L380.2 205.3L380.5 204.3L380.9 196.1L381.2 191.1L381.6 179.8L382.0 174.3L382.3 163.4L382.7 149.8L383.0 135.0L383.4 118.3L383.5 108.1L383.8 97.9L384.1 79.9L384.5 79.2L384.5 78.0L384.8 80.0L385.2 98.6L385.5 114.8L385.9 136.7L386.3 151.9L386.6 164.8L387.0 179.2L387.3 184.0L387.7 190.7L388.1 196.9L388.4 201.5L388.8 203.1L389.1 208.9L389.5 210.8L389.8 210.5L390.2 209.6L390.6 215.9L390.9 216.1L391.3 213.9L391.6 210.9L392.0 206.4L392.4 196.2L392.5 197.8L392.7 196.2L393.1 203.5L393.4 212.7L393.8 216.6L394.2 221.1L394.5 225.6L394.9 224.0L395.2 226.2L395.6 229.2L395.9 229.1L396.3 226.0L396.7 225.0L397.0 231.3L397.4 225.0L397.7 223.8L398.1 223.8L398.5 230.8L398.8 225.6L399.2 228.4L399.5 229.0L399.9 232.2L400.2 226.9L400.6 230.1L401.0 230.9L401.3 233.4L401.7 230.2L402.0 231.5L402.4 230.6L402.8 233.6L403.1 233.5L403.5 230.9L403.8 233.1L404.2 229.0L404.5 232.4L404.9 230.6L405.3 231.7L405.6 234.8L406.0 237.4L406.3 233.4L406.7 232.8L407.1 232.4L407.4 234.6L407.8 232.5L408.1 234.9L408.5 235.9L408.9 233.9L409.2 231.6L409.6 233.8L409.9 230.5L410.3 228.0L410.6 233.8L411.0 235.1L411.4 233.4L411.7 229.4L412.1 222.5L412.4 227.4L412.8 229.4L413.2 226.2L413.5 228.7L413.9 222.6L414.2 223.6L414.6 221.0L414.9 218.9L415.3 213.3L415.7 214.5L416.0 214.5L416.1 213.1L416.4 211.5L416.7 214.3L416.7 213.4L417.1 218.1L417.5 221.5L417.8 222.2L418.2 224.1L418.5 224.5L418.9 226.6L419.3 223.1L419.6 228.3L420.0 230.7L420.3 228.3L420.7 231.3L421.0 227.1L421.4 230.7L421.8 230.5L422.1 232.1L422.5 231.6L422.8 236.2L423.2 224.9L423.6 228.7L423.9 230.4L424.3 232.1L424.6 230.4L425.0 230.3L425.3 228.3L425.7 228.6L426.1 229.5L426.4 234.4L426.8 229.4L427.1 236.7L427.5 233.0L427.9 230.0L428.2 232.1L428.6 232.3L428.9 227.4L429.3 226.3L429.6 232.5L430.0 227.1L430.4 230.5L430.7 229.5L431.1 223.8L431.4 227.6L431.8 225.6L432.2 224.0L432.5 216.9L432.8 215.4L432.9 215.3L433.2 216.7L433.6 224.4L434.0 225.3L434.3 227.7L434.7 225.7L435.0 227.4L435.4 222.5L435.7 222.1L436.1 223.2L436.5 217.9L436.8 218.3L437.2 222.2L437.5 220.1L437.9 224.5L438.3 225.5L438.6 223.8L439.0 222.1L439.3 228.1L439.7 225.1L440.0 221.9L440.4 222.7L440.8 220.3L441.1 219.7L441.5 219.1L441.8 221.0L442.2 223.1L442.6 223.2L442.9 220.4L443.3 221.4L443.6 218.0L444.0 209.8L444.4 202.1L444.7 196.3L444.8 197.0L445.1 203.0L445.1 197.9L445.4 205.6L445.8 219.0L446.1 216.7L446.5 220.6L446.9 219.2L447.2 216.6L447.6 222.6L447.9 220.6L448.3 222.6L448.7 220.6L449.0 217.1L449.4 219.0L449.7 221.1L450.1 217.4L450.4 219.0L450.8 220.7L451.2 215.3L451.5 216.5L451.9 217.0L452.2 217.8L452.6 214.3L453.0 211.4L453.3 211.8L453.7 206.1L454.0 203.6L454.4 196.7L454.7 185.8L455.1 175.0L455.5 162.4L455.8 151.7L455.8 155.6L456.2 161.3L456.5 174.7L456.9 188.3L457.3 200.0L457.6 203.7L458.0 207.9L458.3 209.1L458.7 213.6L459.1 215.7L459.4 214.9L459.8 217.3L460.1 219.7L460.5 222.2L460.8 219.2L461.2 224.4L461.6 222.7L461.9 222.7L462.3 222.3L462.6 221.5L463.0 220.4L463.4 221.9L463.7 222.6L464.1 223.1L464.4 226.3L464.8 227.5L465.1 224.6L465.5 225.7L465.9 222.2L466.2 219.5L466.6 223.3L466.9 223.7L467.3 225.5L467.7 226.7L468.0 220.6L468.4 220.2L468.7 215.3L469.1 205.6L469.5 193.0L469.8 170.4L470.2 157.4L470.2 151.9L470.5 162.3L470.9 190.3L471.2 207.7L471.6 217.1L472.0 219.1L472.3 224.9L472.7 224.8L473.0 229.3L473.4 227.6L473.8 227.9L474.1 233.0L474.5 229.1L474.8 229.3L475.2 234.6L475.5 233.7L475.9 229.1L476.3 236.9L476.6 232.2L477.0 234.2L477.3 234.8L477.7 239.3L478.1 234.9L478.4 236.8L478.8 234.5L479.1 235.7L479.5 231.6L479.8 234.4L480.2 233.0L480.6 231.9L480.9 234.5L481.3 235.8L481.6 234.3L482.0 232.4L482.4 234.2L482.7 229.9L483.1 232.2L483.4 231.6L483.8 228.8L484.2 225.9L484.5 222.4L484.9 213.4L485.2 203.0L485.6 198.1L485.6 192.6L485.9 206.7L486.3 216.1L486.7 222.9L487.0 224.5L487.4 228.2L487.7 229.3L488.1 232.9L488.5 233.5L488.8 235.0L489.2 233.1L489.5 228.9L489.9 231.4L490.2 232.7L490.6 234.3L491.0 230.6L491.3 233.4L491.7 234.0L492.0 232.6L492.4 233.5" fill="none" stroke="#f00" stroke-width="1.1" stroke-linejoin="round"/>
<path d="M306.3 292.7L306.7 288.4L307.0 291.9L307.4 288.6L307.7 286.8L308.1 288.9L308.5 287.0L308.8 287.5L309.2 283.4L309.5 287.9L309.9 286.1L310.2 289.1L310.6 287.1L311.0 286.1L311.3 284.7L311.7 286.5L312.0 285.6L312.4 284.8L312.8 289.4L313.1 285.6L313.5 287.3L313.8 288.2L314.2 286.2L314.5 286.4L314.9 286.1L315.3 286.8L315.6 285.9L316.0 285.6L316.3 284.9L316.7 283.6L317.1 283.6L317.4 283.0L317.8 284.4L318.1 286.2L318.5 282.1L318.9 282.5L319.2 281.7L319.6 283.2L319.9 285.0L320.3 282.5L320.6 283.5L321.0 278.6L321.4 282.4L321.7 283.3L322.1 281.2L322.4 279.3L322.8 282.9L323.2 281.7L323.5 285.0L323.9 280.6L324.2 281.2L324.6 280.7L324.9 281.4L325.3 277.8L325.7 283.4L326.0 282.0L326.4 280.3L326.7 280.0L327.1 281.4L327.5 281.0L327.8 279.5L328.2 279.8L328.5 280.6L328.9 279.1L329.2 279.2L329.6 278.9L330.0 278.9L330.3 277.1L330.7 277.6L331.0 279.8L331.4 280.5L331.8 278.8L332.1 272.5L332.5 276.1L332.8 279.3L333.2 281.5L333.6 280.5L333.9 277.8L334.3 277.5L334.6 277.2L335.0 280.9L335.3 278.1L335.7 276.0L336.1 279.2L336.4 278.8L336.8 273.7L337.1 276.0L337.5 278.8L337.9 278.5L338.2 274.6L338.6 276.6L338.9 278.1L339.3 277.0L339.6 274.4L340.0 275.8L340.4 277.2L340.7 276.8L341.1 274.1L341.4 279.8L341.8 275.9L342.2 272.7L342.5 274.7L342.9 270.3L343.2 273.8L343.6 274.8L344.0 279.1L344.3 275.0L344.7 275.2L345.0 275.7L345.4 274.6L345.7 273.1L346.1 276.4L346.5 274.8L346.8 276.6L347.2 275.8L347.5 272.4L347.9 273.4L348.3 273.5L348.6 273.7L349.0 275.2L349.3 274.2L349.7 273.2L350.0 277.3L350.4 277.2L350.8 274.9L351.1 273.1L351.5 273.9L351.8 273.8L352.2 273.6L352.6 273.5L352.9 275.7L353.3 275.8L353.6 276.1L354.0 273.7L354.3 275.8L354.7 278.8L355.1 275.5L355.4 274.1L355.8 279.2L356.1 274.2L356.5 271.2L356.9 271.0L357.2 261.7L357.6 250.8L357.7 251.0L357.9 252.2L358.3 261.9L358.7 271.5L359.0 274.2L359.4 271.6L359.7 274.1L360.1 277.0L360.4 275.8L360.8 277.0L361.2 275.5L361.5 274.6L361.9 274.8L362.2 275.3L362.6 276.1L363.0 271.1L363.3 272.4L363.7 275.6L364.0 276.5L364.4 273.9L364.7 274.7L365.1 272.5L365.5 271.6L365.8 273.8L366.2 273.0L366.5 271.7L366.9 269.6L367.3 271.3L367.4 270.7L367.6 269.8L368.0 268.8L368.3 266.9L368.7 266.6L369.1 263.8L369.4 263.0L369.8 258.5L370.1 252.4L370.5 248.5L370.5 251.7L370.8 250.4L371.2 256.9L371.6 254.8L371.9 259.2L372.3 264.5L372.6 263.0L373.0 265.0L373.4 265.3L373.7 263.3L374.1 265.5L374.4 262.3L374.8 262.8L375.1 266.4L375.5 261.7L375.9 261.8L376.2 258.4L376.6 261.6L376.9 256.4L377.3 255.2L377.7 253.7L378.0 251.1L378.4 247.9L378.7 247.1L379.1 243.4L379.4 240.1L379.8 233.8L380.2 228.3L380.5 222.5L380.9 214.9L381.2 203.7L381.6 194.1L382.0 181.4L382.3 170.6L382.7 157.5L383.0 147.5L383.4 143.2L383.5 139.9L383.8 144.5L384.1 148.9L384.5 158.1L384.5 159.9L384.8 170.1L385.2 188.1L385.5 197.6L385.9 205.4L386.3 215.4L386.6 224.3L387.0 230.8L387.3 238.1L387.7 243.5L388.1 247.6L388.4 250.0L388.8 250.3L389.1 256.2L389.5 258.4L389.8 254.7L390.2 258.6L390.6 260.3L390.9 260.7L391.3 264.9L391.6 264.8L392.0 264.9L392.4 263.4L392.5 262.3L392.7 264.6L393.1 265.3L393.4 265.7L393.8 264.1L394.2 265.5L394.5 267.8L394.9 269.5L395.2 268.3L395.6 269.1L395.9 269.7L396.3 270.0L396.7 272.6L397.0 269.5L397.4 271.6L397.7 269.3L398.1 274.0L398.5 273.6L398.8 274.3L399.2 273.1L399.5 273.0L399.9 271.2L400.2 274.3L400.6 276.4L401.0 269.4L401.3 277.6L401.7 273.4L402.0 275.9L402.4 273.8L402.8 275.2L403.1 277.1L403.5 275.6L403.8 279.3L404.2 276.4L404.5 277.6L404.9 275.6L405.3 276.0L405.6 276.3L406.0 278.1L406.3 280.2L406.7 277.5L407.1 275.1L407.4 276.2L407.8 274.7L408.1 277.8L408.5 276.8L408.9 274.7L409.2 275.7L409.6 277.7L409.9 276.5L410.3 274.4L410.6 276.3L411.0 275.2L411.4 273.0L411.7 273.6L412.1 275.8L412.4 269.7L412.8 272.3L413.2 268.9L413.5 268.5L413.9 266.0L414.2 263.1L414.6 259.1L414.9 255.3L415.3 251.6L415.7 245.8L416.0 237.1L416.1 239.4L416.4 237.9L416.7 235.7L416.7 234.5L417.1 232.7L417.5 241.1L417.8 246.5L418.2 253.2L418.5 253.7L418.9 258.9L419.3 261.5L419.6 264.4L420.0 263.8L420.3 267.6L420.7 268.9L421.0 270.1L421.4 274.3L421.8 271.1L422.1 272.0L422.5 275.2L422.8 272.6L423.2 276.0L423.6 275.0L423.9 273.3L424.3 273.4L424.6 275.0L425.0 274.6L425.3 275.2L425.7 274.1L426.1 276.2L426.4 274.1L426.8 274.5L427.1 275.0L427.5 273.1L427.9 274.7L428.2 274.8L428.6 272.6L428.9 271.9L429.3 277.2L429.6 274.4L430.0 274.5L430.4 273.6L430.7 277.4L431.1 274.1L431.4 271.2L431.8 275.1L432.2 272.4L432.5 274.8L432.8 273.7L432.9 276.2L433.2 274.6L433.6 273.0L434.0 276.1L434.3 278.2L434.7 272.4L435.0 275.1L435.4 273.7L435.7 273.7L436.1 270.6L436.5 270.9L436.8 275.0L437.2 272.6L437.5 271.2L437.9 275.1L438.3 274.0L438.6 272.9L439.0 269.7L439.3 271.2L439.7 273.6L440.0 267.2L440.4 267.8L440.8 268.9L441.1 271.7L441.5 270.1L441.8 270.1L442.2 269.1L442.6 268.3L442.9 269.3L443.3 272.3L443.6 264.7L444.0 262.7L444.4 253.4L444.7 246.9L444.8 242.8L445.1 237.3L445.1 236.1L445.4 242.3L445.8 252.3L446.1 257.3L446.5 259.7L446.9 266.8L447.2 265.1L447.6 266.4L447.9 265.5L448.3 261.8L448.7 263.9L449.0 261.5L449.4 260.5L449.7 259.7L450.1 256.7L450.4 251.2L450.8 247.2L451.2 249.0L451.5 254.5L451.9 259.9L452.2 263.2L452.6 261.9L453.0 259.6L453.3 260.3L453.7 260.6L454.0 259.8L454.4 259.0L454.7 257.6L455.1 254.4L455.5 251.2L455.8 247.0L455.8 251.5L456.2 248.4L456.5 243.5L456.9 243.1L457.3 240.9L457.6 240.0L458.0 243.9L458.3 240.8L458.7 247.0L459.1 243.8L459.4 244.2L459.8 246.9L460.1 251.9L460.5 247.8L460.8 249.1L461.2 243.7L461.6 248.1L461.9 243.6L462.3 244.7L462.6 246.5L463.0 243.3L463.4 245.4L463.7 244.9L464.1 246.6L464.4 250.0L464.8 253.9L465.1 254.4L465.5 256.3L465.9 256.5L466.2 256.7L466.6 261.3L466.9 261.9L467.3 263.6L467.7 265.8L468.0 266.4L468.4 264.1L468.7 266.5L469.1 266.4L469.5 264.3L469.8 257.7L470.2 257.8L470.2 259.1L470.5 264.1L470.9 266.8L471.2 267.8L471.6 274.5L472.0 273.3L472.3 273.5L472.7 276.1L473.0 277.2L473.4 276.5L473.8 276.2L474.1 276.8L474.5 279.9L474.8 278.8L475.2 280.2L475.5 275.8L475.9 278.2L476.3 278.2L476.6 277.9L477.0 275.1L477.3 277.7L477.7 281.1L478.1 278.7L478.4 277.0L478.8 276.5L479.1 275.1L479.5 277.7L479.8 275.7L480.2 276.2L480.6 278.2L480.9 278.0L481.3 277.1L481.6 272.7L482.0 274.2L482.4 276.9L482.7 272.0L483.1 275.6L483.4 272.5L483.8 273.0L484.2 268.4L484.5 263.3L484.9 256.9L485.2 251.4L485.6 242.2L485.6 240.6L485.9 251.1L486.3 256.8L486.7 265.9L487.0 270.6L487.4 272.8L487.7 274.5L488.1 274.5L488.5 271.0L488.8 276.3L489.2 276.2L489.5 276.3L489.9 277.8L490.2 278.5L490.6 277.7L491.0 280.2L491.3 281.6L491.7 278.3L492.0 277.3L492.4 275.8" fill="none" stroke="#ff0" stroke-width="1.35" stroke-linejoin="round"/>
<rect x="58.6" y="450.4" width="141.9" height="211.8" fill="none" stroke="#5a5a5a" stroke-width="1.2"/>
<path d="M62.6 662.2v3.6M106.0 662.2v3.6M149.2 662.2v3.6M192.4 662.2v3.6M84.3 662.2v2M127.6 662.2v2M170.8 662.2v2" stroke="#5a5a5a" stroke-width="1.1" fill="none"/>
<text x="62.6" y="680.5" font-size="12.6" text-anchor="middle" fill="#222" font-family="'Liberation Sans',sans-serif">1.75</text>
<text x="106.0" y="680.5" font-size="12.6" text-anchor="middle" fill="#222" font-family="'Liberation Sans',sans-serif">1.80</text>
<text x="149.2" y="680.5" font-size="12.6" text-anchor="middle" fill="#222" font-family="'Liberation Sans',sans-serif">1.85</text>
<text x="192.4" y="680.5" font-size="12.6" text-anchor="middle" fill="#222" font-family="'Liberation Sans',sans-serif">1.90</text>
<text x="107.4" y="697.5" font-size="12.8" fill="#222" textLength="39.1" lengthAdjust="spacingAndGlyphs" font-family="'Liberation Sans',sans-serif">q (Å<tspan dy="-5.8" dx="0.8" font-size="8.4">-1</tspan><tspan dy="5.8" dx="0.8">)</tspan></text>
<text x="74.3" y="477" font-size="19.5" fill="#111" font-family="'Liberation Sans',sans-serif">(c)</text>
<text transform="translate(38.2 562) rotate(-90)" font-size="13.8" text-anchor="middle" fill="#111" font-family="'Liberation Sans',sans-serif">Intesnity (a.u.)</text>
<path d="M59.1 585.0L63.2 584.0L71.4 587.0L79.6 583.4L88.9 585.0L95.1 580.9L102.3 576.8L107.4 569.6L112.6 551.0L116.7 522.3L119.8 491.4L122.8 464.7L124.8 457.0L126.3 454.8L127.6 457.0L129.0 462.6L133.1 497.6L137.2 530.5L141.4 555.2L144.4 567.5L149.6 575.7L155.7 578.2L161.9 580.9L164.0 583.4L168.1 583.4L172.2 585.4L176.3 584.0L179.4 586.0L183.5 582.3L187.6 587.0L190.7 585.6L194.8 587.5L200.0 588.0" fill="none" stroke="#ff2a2a" stroke-width="1.3" stroke-linejoin="round"/>
<path d="M59.1 625.8L66.0 626.6L73.5 628.3L76.6 625.8L86.8 628.3L91.0 626.2L96.1 627.5L102.3 623.8L107.4 620.1L112.6 620.7L116.7 615.5L121.8 605.2L125.3 603.2L129.0 606.3L134.2 614.5L139.3 620.7L145.5 626.2L148.5 624.8L151.6 626.2L156.8 625.4L161.9 627.5L168.1 625.8L176.3 627.5L179.4 630.3L182.5 628.3L190.7 626.8L195.9 626.2L200.0 627.9" fill="none" stroke="#ff0" stroke-width="1.4" stroke-linejoin="round"/>
<path d="M121.8 642.7V662.2M91 657.7V662.2" stroke="#888" stroke-width="1" fill="none"/>
<text transform="translate(124.6 639.4) rotate(-90)" font-size="7.4" fill="#555" font-family="'Liberation Sans',sans-serif">002</text>
<rect x="175.8" y="384.3" width="176" height="41.2" fill="#000"/>
<text x="186.3" y="413" font-size="23" font-weight="bold" fill="#ffb800" textLength="145" lengthAdjust="spacingAndGlyphs" font-family="'Liberation Sans',sans-serif">Ca<tspan dy="5" font-size="15">5</tspan><tspan dy="-5">(PO</tspan><tspan dy="5" font-size="15">4</tspan><tspan dy="-5">)</tspan><tspan dy="5" font-size="15">3</tspan><tspan dy="-5">(OH)</tspan></text>
<path d="M148.1 103.8L225.7 122L279.3 87.9L201.7 69.7Z" fill="#fff" stroke="#4a4a4a" stroke-width="0.9"/>
<path d="M170.8 34.4L196.8 18.4L239 18.4L264.2 34.4L242.6 49.8L192 49.8Z" fill="url(#hbT)"/>
<path d="M196.8 18.4L239 18.4L239 30L217.9 34L196.8 30Z" fill="#e8f0fb" opacity="0.8"/>
<path d="M170.8 34.4L192 49.8L192 108.7L170.8 89.5Z" fill="url(#hbL)"/>
<path d="M170.8 89.5L192 108.7L192 92L180 86Z" fill="#dfe9f8" opacity="0.85"/>
<path d="M192 49.8L217.9 34L264.2 34.4L242.6 49.8Z" fill="url(#hpT)"/>
<path d="M192 49.8H242.6V108.7H192Z" fill="url(#hpF)"/>
<path d="M192 49.8H242.6V108.7H192Z" fill="url(#hpF2)"/>
<path d="M217.9 50V78" stroke="#fff" stroke-width="0.8" opacity="0.7"/>
<path d="M242.6 49.8L264.2 34.4L264.2 94.4L242.6 108.7Z" fill="url(#hpR)"/>
<path d="M193.5 90.5Q203 96 205.5 107.5M218.5 80.5Q226 85 228 93" fill="none" stroke="#222" stroke-width="0.9"/>
<path d="M192.4 89.7l2.6 0.2-1.2 1.9zM206 109l-1.6-2.2 2.3-0.4zM217.4 79.8l2.6 0.2-1.2 1.9zM228.4 94.4l-1.6-2.2 2.3-0.4z" fill="#222"/>
<text x="202.5" y="92.3" font-size="5.5" fill="#333" font-family="'Liberation Serif',serif">α</text>
<text x="226.8" y="84" font-size="6.5" fill="#333" font-family="'Liberation Serif',serif">β</text>
<text x="207.3" y="104.6" font-size="6" fill="#333" font-family="'Liberation Serif',serif">γ</text>
<text x="152.6" y="30" font-size="12" font-style="italic" stroke="#222" stroke-width="0.3" fill="#222" font-family="'Liberation Sans',sans-serif">a</text>
<text x="146.8" y="80.3" font-size="12" font-style="italic" stroke="#222" stroke-width="0.3" fill="#222" font-family="'Liberation Sans',sans-serif">c</text>
<g clip-path="url(#cd)"><rect x="231.8" y="445.2" width="265.7" height="133.5" fill="#124f6a"/>
<g filter="url(#bl2)">
<path d="M253.7 506.3L277.5 479.9L317.0 458.8L361.8 446.2L369.7 453.5L346.0 474.6L317.0 498.4L282.7 508.9Z" fill="#3aaccf" opacity="1.0" />
<path d="M232.6 561.6L245.8 530.0L277.5 508.9L311.7 503.6L290.6 522.1L261.6 548.5L240.5 569.5Z" fill="#3aaccf" opacity="1.0" />
<path d="M272.2 576.1L295.9 548.5L319.6 530.0L332.8 535.3L309.1 556.4L288.0 577.5Z" fill="#35a4c8" opacity="1.0" />
<path d="M377.6 556.4L414.6 530.0L462.0 503.6L475.2 508.9L435.6 535.3L393.5 564.3Z" fill="#3aaccf" opacity="1.0" />
<path d="M446.2 569.5L467.3 530.0L483.1 506.3L496.3 508.9L488.4 537.9L467.3 572.2Z" fill="#3aaccf" opacity="1.0" />
<path d="M346.0 576.1L377.6 548.5L414.6 522.1L422.5 527.4L388.2 553.7L361.8 577.5Z" fill="#35a4c8" opacity="1.0" />
<path d="M384.2 498.4L393.5 474.6L409.3 457.5L422.5 464.1L408.0 489.1L396.1 507.6Z" fill="#72d4ea" opacity="1.0" />
<path d="M430.4 450.9L496.3 458.8L496.3 503.6L467.3 495.7L435.6 479.9Z" fill="#0e435c" opacity="1.0" />
<path d="M272.2 446.2L343.4 446.2L309.1 462.8L273.5 479.9Z" fill="#07283a" opacity="1.0" />
</g>
<g filter="url(#bl2)">
<path d="M282.7 495.7L353.9 456.2" stroke="#72d4ea" stroke-width="6.9" stroke-linecap="round" fill="none" opacity="1.0"/>
<path d="M298.5 482.5L346.0 458.8" stroke="#c8f5fb" stroke-width="2.6" stroke-linecap="round" fill="none" opacity="0.8"/>
<path d="M245.8 548.5L295.9 514.2" stroke="#72d4ea" stroke-width="5.8" stroke-linecap="round" fill="none" opacity="1.0"/>
<path d="M253.7 537.9L282.7 519.5" stroke="#c8f5fb" stroke-width="2.4" stroke-linecap="round" fill="none" opacity="0.7"/>
<path d="M293.3 559.0L322.3 535.3" stroke="#72d4ea" stroke-width="3.7" stroke-linecap="round" fill="none" opacity="0.9"/>
<path d="M393.5 493.1L411.9 466.7" stroke="#c8f5fb" stroke-width="4.7" stroke-linecap="round" fill="none" opacity="1.0"/>
<path d="M393.5 548.5L462.0 508.9" stroke="#72d4ea" stroke-width="4.2" stroke-linecap="round" fill="none" opacity="1.0"/>
<path d="M414.6 534.0L456.7 510.2" stroke="#c8f5fb" stroke-width="1.8" stroke-linecap="round" fill="none" opacity="0.8"/>
<path d="M462.0 559.0L485.7 516.8" stroke="#72d4ea" stroke-width="5.3" stroke-linecap="round" fill="none" opacity="1.0"/>
<path d="M467.3 545.8L483.1 522.1" stroke="#c8f5fb" stroke-width="2.1" stroke-linecap="round" fill="none" opacity="0.8"/>
<path d="M361.8 566.9L411.9 530.0" stroke="#72d4ea" stroke-width="3.7" stroke-linecap="round" fill="none" opacity="0.9"/>
<path d="M346.0 527.4L377.6 519.5" stroke="#3aaccf" stroke-width="3.2" stroke-linecap="round" fill="none" opacity="1.0"/>
<path d="M411.9 506.3L435.6 495.7" stroke="#72d4ea" stroke-width="3.2" stroke-linecap="round" fill="none" opacity="0.8"/>
<path d="M462.0 472.0L491.0 464.1" stroke="#35a4c8" stroke-width="3.2" stroke-linecap="round" fill="none" opacity="0.9"/>
<path d="M398.7 450.9L425.1 449.6" stroke="#35a4c8" stroke-width="2.6" stroke-linecap="round" fill="none" opacity="0.8"/>
<ellipse cx="379.0" cy="459.3" rx="19.8" ry="11.9" transform="rotate(-30 379.0 459.3)" fill="#3aaccf" opacity="0.9"/>
<ellipse cx="367.1" cy="501.5" rx="15.8" ry="11.1" transform="rotate(-35 367.1 501.5)" fill="#72d4ea" opacity="0.9"/>
<ellipse cx="476.5" cy="547.9" rx="15.8" ry="14.5" transform="rotate(0 476.5 547.9)" fill="#72d4ea" opacity="0.9"/>
<ellipse cx="407.2" cy="567.4" rx="25.0" ry="12.7" transform="rotate(-15 407.2 567.4)" fill="#72d4ea" opacity="0.9"/>
<ellipse cx="449.4" cy="485.2" rx="21.1" ry="11.1" transform="rotate(-25 449.4 485.2)" fill="#3aaccf" opacity="0.8"/>
</g>
<g transform="rotate(-36 365 511)"><rect x="150" y="330" width="430" height="360" filter="url(#tex)" fill="#000" opacity="0.85"/><rect x="150" y="330" width="430" height="360" filter="url(#texl)" fill="#000" opacity="0.55"/></g>
<g filter="url(#bl2)">
<path d="M323.6 510.2L334.1 482.5L356.5 465.4L368.4 469.4L363.1 487.8L350.0 506.3L335.5 516.8Z" fill="#03101a" opacity="1.0" />
<ellipse cx="379.0" cy="459.3" rx="12.7" ry="7.0" transform="rotate(-30 379.0 459.3)" fill="#03101a" opacity="1.0"/>
<ellipse cx="367.1" cy="502.6" rx="9.4" ry="6.4" transform="rotate(-35 367.1 502.6)" fill="#03101a" opacity="1.0"/>
<ellipse cx="449.4" cy="485.7" rx="13.8" ry="6.4" transform="rotate(-25 449.4 485.7)" fill="#03101a" opacity="1.0"/>
<ellipse cx="477.0" cy="547.9" rx="8.3" ry="7.8" transform="rotate(0 477.0 547.9)" fill="#03101a" opacity="1.0"/>
<ellipse cx="407.2" cy="569.0" rx="16.1" ry="7.5" transform="rotate(-15 407.2 569.0)" fill="#03101a" opacity="1.0"/>
<ellipse cx="426.4" cy="512.9" rx="5.0" ry="3.8" transform="rotate(-30 426.4 512.9)" fill="#03101a" opacity="1.0"/>
<ellipse cx="319.6" cy="567.4" rx="6.6" ry="6.4" transform="rotate(0 319.6 567.4)" fill="#03101a" opacity="0.9"/>
<path d="M433.0 448.8L462.0 450.4" stroke="#03101a" stroke-width="8.7" stroke-linecap="round" fill="none" opacity="0.9"/>
<path d="M289.3 523.4L318.3 506.3" stroke="#0a2c40" stroke-width="4.7" stroke-linecap="round" fill="none" opacity="0.95"/>
<path d="M255.0 573.5L284.0 548.5" stroke="#0a2c40" stroke-width="5.5" stroke-linecap="round" fill="none" opacity="0.95"/>
<path d="M340.7 549.8L379.0 518.1" stroke="#0a2c40" stroke-width="4.7" stroke-linecap="round" fill="none" opacity="0.9"/>
<path d="M414.6 505.0L431.7 487.8" stroke="#0a2c40" stroke-width="4.0" stroke-linecap="round" fill="none" opacity="0.9"/>
<path d="M332.8 532.6L353.9 522.1" stroke="#03101a" stroke-width="5.5" stroke-linecap="round" fill="none" opacity="0.85"/>
<path d="M438.3 548.5L454.1 530.0" stroke="#0a2c40" stroke-width="4.0" stroke-linecap="round" fill="none" opacity="0.85"/>
<path d="M276.1 468.0L317.0 448.3" stroke="#0a2c40" stroke-width="6.3" stroke-linecap="round" fill="none" opacity="0.85"/>
<path d="M483.1 474.6L496.3 482.5" stroke="#0a2c40" stroke-width="7.1" stroke-linecap="round" fill="none" opacity="0.8"/>
<path d="M377.6 522.1L390.8 510.2" stroke="#0a2c40" stroke-width="3.2" stroke-linecap="round" fill="none" opacity="0.8"/>
<path d="M235.3 576.1L253.7 566.9" stroke="#0a2c40" stroke-width="4.0" stroke-linecap="round" fill="none" opacity="0.8"/>
<path d="M425.1 574.8L440.9 559.0" stroke="#0a2c40" stroke-width="4.0" stroke-linecap="round" fill="none" opacity="0.8"/>
<path d="M462.0 458.8L475.2 464.1" stroke="#0a2c40" stroke-width="4.7" stroke-linecap="round" fill="none" opacity="0.7"/>
<path d="M269.5 444.3L361.8 444.3L317.0 456.7L278.8 476.7L269.5 478.6Z" fill="#051c2a" opacity="0.72" />
<ellipse cx="440.9" cy="461.5" rx="8.3" ry="4.6" transform="rotate(-20 440.9 461.5)" fill="#03101a" opacity="0.8"/>
<ellipse cx="467.3" cy="477.3" rx="7.2" ry="4.1" transform="rotate(-30 467.3 477.3)" fill="#03101a" opacity="0.7"/>
<ellipse cx="487.1" cy="491.8" rx="6.6" ry="4.1" transform="rotate(-40 487.1 491.8)" fill="#03101a" opacity="0.7"/>
<ellipse cx="414.6" cy="474.6" rx="5.5" ry="3.5" transform="rotate(-40 414.6 474.6)" fill="#03101a" opacity="0.7"/>
</g>
<path d="M230.0 476.0L272.2 476.0L256.4 493.1L249.8 511.5L237.9 548.5L231.3 569.5L230.0 569.5Z" fill="#000" opacity="1.0" />
<path d="M454.1 443.0L498.9 443.0L498.9 454.9Z" fill="#000" opacity="1.0" />
<rect x="231.8" y="576.9000000000001" width="265.7" height="1.8" fill="#8a30e0" opacity="0.9"/></g>
<rect x="267.9" y="549.6" width="94.6" height="5.2" fill="#f00"/>
<text x="279.7" y="542.5" font-size="22.5" font-weight="bold" fill="#f00" textLength="73.8" lengthAdjust="spacingAndGlyphs" font-family="'Liberation Serif',serif">0.5mm</text>
<text x="236.2" y="467" font-size="19.5" fill="#111" font-family="'Liberation Sans',sans-serif">(d)</text>
<g clip-path="url(#ce)"><rect x="231.8" y="582.3" width="265.2" height="136.5" fill="#ff7c10"/>
<g filter="url(#bl4)">
<path d="M230.0 630.1L264.3 619.5L317.0 599.8L359.2 583.2" stroke="#ff5c0c" stroke-width="21.5" stroke-linecap="round" stroke-linejoin="round" fill="none" opacity="0.75"/><path d="M230.0 630.1L264.3 619.5L317.0 599.8L359.2 583.2" stroke="#ff2a08" stroke-width="12.1" stroke-linecap="round" stroke-linejoin="round" fill="none" opacity="1.0"/>
<path d="M230.0 667.0L248.5 667.0L261.6 656.5" stroke="#ff5c0c" stroke-width="56.9" stroke-linecap="round" stroke-linejoin="round" fill="none" opacity="0.71"/><path d="M230.0 667.0L248.5 667.0L261.6 656.5" stroke="#ff2a08" stroke-width="32.0" stroke-linecap="round" stroke-linejoin="round" fill="none" opacity="0.95"/>
<path d="M261.6 659.1L317.0 634.0" stroke="#ff5c0c" stroke-width="16.5" stroke-linecap="round" stroke-linejoin="round" fill="none" opacity="0.68"/><path d="M261.6 659.1L317.0 634.0" stroke="#ff4c0a" stroke-width="9.3" stroke-linecap="round" stroke-linejoin="round" fill="none" opacity="0.9"/>
<path d="M259.0 711.8L309.1 685.5L356.5 659.1L380.3 645.9" stroke="#ff5c0c" stroke-width="19.0" stroke-linecap="round" stroke-linejoin="round" fill="none" opacity="0.71"/><path d="M259.0 711.8L309.1 685.5L356.5 659.1L380.3 645.9" stroke="#ff2a08" stroke-width="10.7" stroke-linecap="round" stroke-linejoin="round" fill="none" opacity="0.95"/>
<path d="M380.3 645.9L398.7 611.6L409.3 598.5" stroke="#ff5c0c" stroke-width="16.5" stroke-linecap="round" stroke-linejoin="round" fill="none" opacity="0.68"/><path d="M380.3 645.9L398.7 611.6L409.3 598.5" stroke="#ff2a08" stroke-width="9.3" stroke-linecap="round" stroke-linejoin="round" fill="none" opacity="0.9"/>
<path d="M335.5 709.2L377.6 685.5L404.0 672.3" stroke="#ff5c0c" stroke-width="15.2" stroke-linecap="round" stroke-linejoin="round" fill="none" opacity="0.64"/><path d="M335.5 709.2L377.6 685.5L404.0 672.3" stroke="#ff2a08" stroke-width="8.5" stroke-linecap="round" stroke-linejoin="round" fill="none" opacity="0.85"/>
<path d="M454.1 660.4L497.6 632.7" stroke="#ff5c0c" stroke-width="25.3" stroke-linecap="round" stroke-linejoin="round" fill="none" opacity="0.75"/><path d="M454.1 660.4L497.6 632.7" stroke="#ff2a08" stroke-width="14.2" stroke-linecap="round" stroke-linejoin="round" fill="none" opacity="1.0"/>
<path d="M414.6 714.5L435.6 696.0" stroke="#ff5c0c" stroke-width="13.9" stroke-linecap="round" stroke-linejoin="round" fill="none" opacity="0.60"/><path d="M414.6 714.5L435.6 696.0" stroke="#ff4c0a" stroke-width="7.8" stroke-linecap="round" stroke-linejoin="round" fill="none" opacity="0.8"/>
<path d="M237.9 611.6L269.5 622.2" stroke="#ff5c0c" stroke-width="11.4" stroke-linecap="round" stroke-linejoin="round" fill="none" opacity="0.52"/><path d="M237.9 611.6L269.5 622.2" stroke="#ff4c0a" stroke-width="6.4" stroke-linecap="round" stroke-linejoin="round" fill="none" opacity="0.7"/>
<path d="M425.1 614.3L467.3 595.8" stroke="#ff5c0c" stroke-width="11.4" stroke-linecap="round" stroke-linejoin="round" fill="none" opacity="0.41"/><path d="M425.1 614.3L467.3 595.8" stroke="#ff4c0a" stroke-width="6.4" stroke-linecap="round" stroke-linejoin="round" fill="none" opacity="0.55"/>
<path d="M277.5 717.1L298.5 703.9" stroke="#ff5c0c" stroke-width="12.7" stroke-linecap="round" stroke-linejoin="round" fill="none" opacity="0.60"/><path d="M277.5 717.1L298.5 703.9" stroke="#ff4c0a" stroke-width="7.1" stroke-linecap="round" stroke-linejoin="round" fill="none" opacity="0.8"/>
<path d="M388.2 659.1L425.1 638.0" stroke="#ff5c0c" stroke-width="11.4" stroke-linecap="round" stroke-linejoin="round" fill="none" opacity="0.45"/><path d="M388.2 659.1L425.1 638.0" stroke="#ff4c0a" stroke-width="6.4" stroke-linecap="round" stroke-linejoin="round" fill="none" opacity="0.6"/>
<path d="M456.7 717.1L467.3 709.2" stroke="#ff5c0c" stroke-width="11.4" stroke-linecap="round" stroke-linejoin="round" fill="none" opacity="0.45"/><path d="M456.7 717.1L467.3 709.2" stroke="#ff4c0a" stroke-width="6.4" stroke-linecap="round" stroke-linejoin="round" fill="none" opacity="0.6"/>
<path d="M273.5 591.9L282.7 595.8" stroke="#ffcc20" stroke-width="13.4" stroke-linecap="round" stroke-linejoin="round" fill="none" opacity="0.9"/>
<path d="M367.1 619.5L373.7 623.5" stroke="#ffcc20" stroke-width="13.4" stroke-linecap="round" stroke-linejoin="round" fill="none" opacity="0.85"/>
<path d="M277.5 649.9L286.7 645.9" stroke="#ffcc20" stroke-width="11.7" stroke-linecap="round" stroke-linejoin="round" fill="none" opacity="0.7"/>
<path d="M314.4 664.4L322.3 660.4" stroke="#ffcc20" stroke-width="11.7" stroke-linecap="round" stroke-linejoin="round" fill="none" opacity="0.7"/>
<path d="M489.7 680.2L495.0 678.1" stroke="#ffcc20" stroke-width="9.9" stroke-linecap="round" stroke-linejoin="round" fill="none" opacity="0.8"/>
<path d="M290.6 611.6L340.7 590.5" stroke="#ffa616" stroke-width="7.2" stroke-linecap="round" stroke-linejoin="round" fill="none" opacity="0.8"/>
<path d="M388.2 632.7L419.8 611.6" stroke="#ffa616" stroke-width="9.0" stroke-linecap="round" stroke-linejoin="round" fill="none" opacity="0.7"/>
<path d="M446.2 595.8L493.6 585.3" stroke="#ffa616" stroke-width="9.0" stroke-linecap="round" stroke-linejoin="round" fill="none" opacity="0.8"/>
<path d="M240.5 696.0L269.5 680.2" stroke="#ffa616" stroke-width="7.2" stroke-linecap="round" stroke-linejoin="round" fill="none" opacity="0.7"/>
<path d="M377.6 706.5L398.7 711.8" stroke="#ffa616" stroke-width="10.8" stroke-linecap="round" stroke-linejoin="round" fill="none" opacity="0.7"/>
<path d="M419.8 706.5L440.9 711.8" stroke="#ffa616" stroke-width="10.8" stroke-linecap="round" stroke-linejoin="round" fill="none" opacity="0.6"/>
<path d="M330.2 680.2L353.9 672.3" stroke="#ffa616" stroke-width="7.2" stroke-linecap="round" stroke-linejoin="round" fill="none" opacity="0.6"/>
<path d="M454.1 645.9L467.3 639.3" stroke="#ffa616" stroke-width="7.2" stroke-linecap="round" stroke-linejoin="round" fill="none" opacity="0.6"/>
</g>
<g fill="#0000fe" shape-rendering="crispEdges">
<path d="M232.6 643.3L240.5 636.7L253.7 632.7L261.6 634.0L256.4 642.0L245.8 648.5L234.0 649.9Z"/>
<path d="M313.0 645.9L314.4 636.7L319.6 624.8L335.5 609.0L353.9 597.1L367.1 590.5L384.2 588.4L385.5 597.1L375.0 602.4L364.5 605.0L359.2 613.0L353.9 624.8L347.3 636.7L335.5 648.5L326.2 652.5L317.0 651.2Z"/>
<path d="M351.3 634.0L357.9 630.1L368.4 631.4L369.7 639.3L361.8 645.9L353.9 648.5L351.8 642.0Z"/>
<path d="M277.5 669.6L285.4 661.7L301.2 655.9L306.5 657.0L298.5 664.4L293.3 673.6L278.8 678.9Z"/>
<path d="M302.5 696.0L310.4 690.7L323.6 687.6L322.3 694.7L313.0 702.6L303.8 703.9Z"/>
<path d="M231.3 702.6L239.2 703.9L240.5 711.8L236.6 718.4L231.3 718.4Z"/>
<path d="M265.6 688.9L269.5 688.9L269.5 692.0L265.6 692.0Z"/>
<path d="M336.8 667.5L344.7 667.5L344.7 670.2L336.8 670.2Z"/>
<path d="M360.5 681.5L367.1 676.2L377.6 674.9L376.3 681.5L367.1 686.8L360.5 687.6Z"/>
<path d="M406.6 582.1L430.4 582.1L426.4 589.2L419.8 592.7L413.2 589.2Z"/>
<path d="M427.7 598.5L443.6 606.4L443.6 609.5L435.6 606.4L428.3 601.1Z"/>
<path d="M463.3 582.1L484.4 582.1L481.8 590.5L472.6 593.7L466.0 590.0Z"/>
<path d="M427.7 627.5L433.0 619.5L443.6 616.9L451.5 620.9L450.9 631.4L442.2 635.4L433.0 635.9Z"/>
<path d="M472.6 627.5L480.5 620.9L497.6 613.0L497.6 627.5L480.5 635.4L472.6 634.0Z"/>
<path d="M413.2 647.2L422.5 645.9L422.5 651.2L417.2 655.1L411.9 652.5Z"/>
<path d="M353.9 719.7L364.5 709.2L388.2 697.3L405.3 686.8L409.3 678.9L426.4 669.6L448.8 656.5L456.7 657.0L451.5 665.7L435.6 678.9L414.6 692.0L413.2 709.2L410.6 719.7Z"/>
<path d="M451.5 686.8L459.4 678.9L469.9 679.7L472.6 686.8L487.1 684.1L493.6 686.8L493.6 694.7L484.4 696.0L481.8 702.6L469.9 702.6L467.3 707.9L459.4 702.6L452.8 697.3Z"/>
<path d="M468.6 719.7L476.5 711.8L487.1 707.9L497.6 703.9L497.6 719.7Z"/>
<path d="M493.1 660.4L497.6 660.4L497.6 669.6L493.1 669.6Z"/>
<path d="M298.5 713.1L302.5 713.1L302.5 715.0L298.5 715.0Z"/>
<path d="M338.6 716.6L343.9 716.6L343.9 719.7L338.6 719.7Z"/>
</g></g>
<text x="235.9" y="607" font-size="19.5" fill="#111" font-family="'Liberation Sans',sans-serif">(e)</text>
<rect x="581.3" y="52.0" width="392.2" height="288.0" fill="none" stroke="#2a2a2a" stroke-width="1.1"/>
<path d="M581.3 66.80h5.8M581.3 95.52h5.8M581.3 124.24h5.8M581.3 152.96h5.8M581.3 181.68h5.8M581.3 210.40h5.8M581.3 239.12h5.8M581.3 267.84h5.8M581.3 296.56h5.8M581.3 325.28h5.8M630.30 340.0v4M728.30 340.0v4M826.30 340.0v4M924.30 340.0v4M581.30 340.0v2.2M679.30 340.0v2.2M777.30 340.0v2.2M875.30 340.0v2.2M973.30 340.0v2.2" stroke="#2a2a2a" stroke-width="1.1" fill="none"/>
<text x="630.3" y="363.4" font-size="16" text-anchor="middle" fill="#222" font-family="'Liberation Sans',sans-serif">2</text>
<text x="728.3" y="363.4" font-size="16" text-anchor="middle" fill="#222" font-family="'Liberation Sans',sans-serif">3</text>
<text x="826.3" y="363.4" font-size="16" text-anchor="middle" fill="#222" font-family="'Liberation Sans',sans-serif">4</text>
<text x="924.3" y="363.4" font-size="16" text-anchor="middle" fill="#222" font-family="'Liberation Sans',sans-serif">5</text>
<text x="752.3" y="400.4" font-size="16.8" fill="#222" textLength="49.3" lengthAdjust="spacingAndGlyphs" font-family="'Liberation Sans',sans-serif">q(Å<tspan dy="-7.5" dx="1.5" font-size="11">-1</tspan><tspan dy="7.5" dx="1.5">)</tspan></text>
<text x="936.8" y="80" font-size="19.5" fill="#111" font-family="'Liberation Sans',sans-serif">(f)</text>
<text transform="translate(555 195.8) rotate(-90)" font-size="20.2" text-anchor="middle" fill="#111" font-family="'Liberation Sans',sans-serif">Intensity (a.u.)</text>
<path d="M579.6 301.9l1.7 -1.7 1.7 1.7 -1.7 1.7zM579.9 301.2l1.7 -1.7 1.7 1.7 -1.7 1.7zM580.1 301.0l1.7 -1.7 1.7 1.7 -1.7 1.7zM580.4 300.0l1.7 -1.7 1.7 1.7 -1.7 1.7zM580.6 300.8l1.7 -1.7 1.7 1.7 -1.7 1.7zM580.9 300.7l1.7 -1.7 1.7 1.7 -1.7 1.7zM581.2 300.8l1.7 -1.7 1.7 1.7 -1.7 1.7zM581.4 300.5l1.7 -1.7 1.7 1.7 -1.7 1.7zM581.7 300.8l1.7 -1.7 1.7 1.7 -1.7 1.7zM582.0 300.6l1.7 -1.7 1.7 1.7 -1.7 1.7zM582.2 300.1l1.7 -1.7 1.7 1.7 -1.7 1.7zM582.5 301.2l1.7 -1.7 1.7 1.7 -1.7 1.7zM582.7 301.2l1.7 -1.7 1.7 1.7 -1.7 1.7zM583.0 301.6l1.7 -1.7 1.7 1.7 -1.7 1.7zM583.3 300.8l1.7 -1.7 1.7 1.7 -1.7 1.7zM583.5 300.5l1.7 -1.7 1.7 1.7 -1.7 1.7zM583.8 300.4l1.7 -1.7 1.7 1.7 -1.7 1.7zM584.0 299.9l1.7 -1.7 1.7 1.7 -1.7 1.7zM584.3 301.1l1.7 -1.7 1.7 1.7 -1.7 1.7zM584.6 300.1l1.7 -1.7 1.7 1.7 -1.7 1.7zM584.8 300.0l1.7 -1.7 1.7 1.7 -1.7 1.7zM585.1 300.5l1.7 -1.7 1.7 1.7 -1.7 1.7zM585.4 301.3l1.7 -1.7 1.7 1.7 -1.7 1.7zM585.6 300.7l1.7 -1.7 1.7 1.7 -1.7 1.7zM585.9 300.0l1.7 -1.7 1.7 1.7 -1.7 1.7zM586.1 300.1l1.7 -1.7 1.7 1.7 -1.7 1.7zM586.4 300.8l1.7 -1.7 1.7 1.7 -1.7 1.7zM586.7 300.4l1.7 -1.7 1.7 1.7 -1.7 1.7zM586.9 300.1l1.7 -1.7 1.7 1.7 -1.7 1.7zM587.2 300.3l1.7 -1.7 1.7 1.7 -1.7 1.7zM587.4 300.8l1.7 -1.7 1.7 1.7 -1.7 1.7zM587.7 301.4l1.7 -1.7 1.7 1.7 -1.7 1.7zM588.0 299.7l1.7 -1.7 1.7 1.7 -1.7 1.7zM588.2 300.0l1.7 -1.7 1.7 1.7 -1.7 1.7zM588.5 299.9l1.7 -1.7 1.7 1.7 -1.7 1.7zM588.8 299.0l1.7 -1.7 1.7 1.7 -1.7 1.7zM589.0 299.8l1.7 -1.7 1.7 1.7 -1.7 1.7zM589.3 299.7l1.7 -1.7 1.7 1.7 -1.7 1.7zM589.5 300.7l1.7 -1.7 1.7 1.7 -1.7 1.7zM589.8 300.1l1.7 -1.7 1.7 1.7 -1.7 1.7zM590.1 299.3l1.7 -1.7 1.7 1.7 -1.7 1.7zM590.3 300.4l1.7 -1.7 1.7 1.7 -1.7 1.7zM590.6 299.9l1.7 -1.7 1.7 1.7 -1.7 1.7zM590.8 299.1l1.7 -1.7 1.7 1.7 -1.7 1.7zM591.1 299.7l1.7 -1.7 1.7 1.7 -1.7 1.7zM591.4 299.6l1.7 -1.7 1.7 1.7 -1.7 1.7zM591.6 299.5l1.7 -1.7 1.7 1.7 -1.7 1.7zM591.9 299.9l1.7 -1.7 1.7 1.7 -1.7 1.7zM592.2 298.7l1.7 -1.7 1.7 1.7 -1.7 1.7zM592.4 299.6l1.7 -1.7 1.7 1.7 -1.7 1.7zM592.7 300.2l1.7 -1.7 1.7 1.7 -1.7 1.7zM592.9 300.1l1.7 -1.7 1.7 1.7 -1.7 1.7zM593.2 300.2l1.7 -1.7 1.7 1.7 -1.7 1.7zM593.5 300.2l1.7 -1.7 1.7 1.7 -1.7 1.7zM593.7 300.3l1.7 -1.7 1.7 1.7 -1.7 1.7zM594.0 298.9l1.7 -1.7 1.7 1.7 -1.7 1.7zM594.2 299.9l1.7 -1.7 1.7 1.7 -1.7 1.7zM594.5 298.5l1.7 -1.7 1.7 1.7 -1.7 1.7zM594.8 299.0l1.7 -1.7 1.7 1.7 -1.7 1.7zM595.0 298.3l1.7 -1.7 1.7 1.7 -1.7 1.7zM595.3 299.7l1.7 -1.7 1.7 1.7 -1.7 1.7zM595.6 299.8l1.7 -1.7 1.7 1.7 -1.7 1.7zM595.8 298.9l1.7 -1.7 1.7 1.7 -1.7 1.7zM596.1 299.9l1.7 -1.7 1.7 1.7 -1.7 1.7zM596.3 298.5l1.7 -1.7 1.7 1.7 -1.7 1.7zM596.6 298.9l1.7 -1.7 1.7 1.7 -1.7 1.7zM596.9 298.8l1.7 -1.7 1.7 1.7 -1.7 1.7zM597.1 298.1l1.7 -1.7 1.7 1.7 -1.7 1.7zM597.4 298.7l1.7 -1.7 1.7 1.7 -1.7 1.7zM597.6 299.4l1.7 -1.7 1.7 1.7 -1.7 1.7zM597.9 297.8l1.7 -1.7 1.7 1.7 -1.7 1.7zM598.2 298.6l1.7 -1.7 1.7 1.7 -1.7 1.7zM598.4 297.9l1.7 -1.7 1.7 1.7 -1.7 1.7zM598.7 298.7l1.7 -1.7 1.7 1.7 -1.7 1.7zM599.0 297.9l1.7 -1.7 1.7 1.7 -1.7 1.7zM599.2 297.8l1.7 -1.7 1.7 1.7 -1.7 1.7zM599.5 297.7l1.7 -1.7 1.7 1.7 -1.7 1.7zM599.7 297.3l1.7 -1.7 1.7 1.7 -1.7 1.7zM600.0 296.3l1.7 -1.7 1.7 1.7 -1.7 1.7zM600.3 297.5l1.7 -1.7 1.7 1.7 -1.7 1.7zM600.5 295.9l1.7 -1.7 1.7 1.7 -1.7 1.7zM600.8 296.4l1.7 -1.7 1.7 1.7 -1.7 1.7zM601.0 296.3l1.7 -1.7 1.7 1.7 -1.7 1.7zM601.3 295.3l1.7 -1.7 1.7 1.7 -1.7 1.7zM601.6 295.4l1.7 -1.7 1.7 1.7 -1.7 1.7zM601.8 295.5l1.7 -1.7 1.7 1.7 -1.7 1.7zM602.1 294.4l1.7 -1.7 1.7 1.7 -1.7 1.7zM602.4 293.4l1.7 -1.7 1.7 1.7 -1.7 1.7zM602.6 291.7l1.7 -1.7 1.7 1.7 -1.7 1.7zM602.9 291.9l1.7 -1.7 1.7 1.7 -1.7 1.7zM603.1 291.2l1.7 -1.7 1.7 1.7 -1.7 1.7zM603.4 290.2l1.7 -1.7 1.7 1.7 -1.7 1.7zM603.7 288.8l1.7 -1.7 1.7 1.7 -1.7 1.7zM603.9 288.0l1.7 -1.7 1.7 1.7 -1.7 1.7zM604.2 285.7l1.7 -1.7 1.7 1.7 -1.7 1.7zM604.4 283.8l1.7 -1.7 1.7 1.7 -1.7 1.7zM604.7 281.6l1.7 -1.7 1.7 1.7 -1.7 1.7zM605.0 277.5l1.7 -1.7 1.7 1.7 -1.7 1.7zM605.2 273.7l1.7 -1.7 1.7 1.7 -1.7 1.7zM605.5 269.6l1.7 -1.7 1.7 1.7 -1.7 1.7zM605.8 262.2l1.7 -1.7 1.7 1.7 -1.7 1.7zM606.0 252.1l1.7 -1.7 1.7 1.7 -1.7 1.7zM606.3 240.8l1.7 -1.7 1.7 1.7 -1.7 1.7zM606.5 225.3l1.7 -1.7 1.7 1.7 -1.7 1.7zM606.8 204.8l1.7 -1.7 1.7 1.7 -1.7 1.7zM607.1 178.3l1.7 -1.7 1.7 1.7 -1.7 1.7zM607.3 149.2l1.7 -1.7 1.7 1.7 -1.7 1.7zM607.6 124.8l1.7 -1.7 1.7 1.7 -1.7 1.7zM607.8 116.7l1.7 -1.7 1.7 1.7 -1.7 1.7zM608.1 128.2l1.7 -1.7 1.7 1.7 -1.7 1.7zM608.4 153.4l1.7 -1.7 1.7 1.7 -1.7 1.7zM608.6 182.3l1.7 -1.7 1.7 1.7 -1.7 1.7zM608.9 207.5l1.7 -1.7 1.7 1.7 -1.7 1.7zM609.2 228.2l1.7 -1.7 1.7 1.7 -1.7 1.7zM609.4 242.7l1.7 -1.7 1.7 1.7 -1.7 1.7zM609.7 254.8l1.7 -1.7 1.7 1.7 -1.7 1.7zM609.9 263.6l1.7 -1.7 1.7 1.7 -1.7 1.7zM610.2 270.1l1.7 -1.7 1.7 1.7 -1.7 1.7zM610.5 274.5l1.7 -1.7 1.7 1.7 -1.7 1.7zM610.7 279.7l1.7 -1.7 1.7 1.7 -1.7 1.7zM611.0 281.9l1.7 -1.7 1.7 1.7 -1.7 1.7zM611.2 285.0l1.7 -1.7 1.7 1.7 -1.7 1.7zM611.5 286.5l1.7 -1.7 1.7 1.7 -1.7 1.7zM611.8 287.8l1.7 -1.7 1.7 1.7 -1.7 1.7zM612.0 290.2l1.7 -1.7 1.7 1.7 -1.7 1.7zM612.3 291.5l1.7 -1.7 1.7 1.7 -1.7 1.7zM612.5 292.4l1.7 -1.7 1.7 1.7 -1.7 1.7zM612.8 293.4l1.7 -1.7 1.7 1.7 -1.7 1.7zM613.1 293.7l1.7 -1.7 1.7 1.7 -1.7 1.7zM613.3 294.4l1.7 -1.7 1.7 1.7 -1.7 1.7zM613.6 295.2l1.7 -1.7 1.7 1.7 -1.7 1.7zM613.9 296.8l1.7 -1.7 1.7 1.7 -1.7 1.7zM614.1 296.7l1.7 -1.7 1.7 1.7 -1.7 1.7zM614.4 296.4l1.7 -1.7 1.7 1.7 -1.7 1.7zM614.6 297.2l1.7 -1.7 1.7 1.7 -1.7 1.7zM614.9 297.0l1.7 -1.7 1.7 1.7 -1.7 1.7zM615.2 297.3l1.7 -1.7 1.7 1.7 -1.7 1.7zM615.4 298.1l1.7 -1.7 1.7 1.7 -1.7 1.7zM615.7 297.6l1.7 -1.7 1.7 1.7 -1.7 1.7zM615.9 297.2l1.7 -1.7 1.7 1.7 -1.7 1.7zM616.2 297.7l1.7 -1.7 1.7 1.7 -1.7 1.7zM616.5 298.3l1.7 -1.7 1.7 1.7 -1.7 1.7zM616.7 298.3l1.7 -1.7 1.7 1.7 -1.7 1.7zM617.0 298.9l1.7 -1.7 1.7 1.7 -1.7 1.7zM617.3 297.9l1.7 -1.7 1.7 1.7 -1.7 1.7zM617.5 298.6l1.7 -1.7 1.7 1.7 -1.7 1.7zM617.8 298.3l1.7 -1.7 1.7 1.7 -1.7 1.7zM618.0 297.9l1.7 -1.7 1.7 1.7 -1.7 1.7zM618.3 298.1l1.7 -1.7 1.7 1.7 -1.7 1.7zM618.6 297.7l1.7 -1.7 1.7 1.7 -1.7 1.7zM618.8 296.6l1.7 -1.7 1.7 1.7 -1.7 1.7zM619.1 297.1l1.7 -1.7 1.7 1.7 -1.7 1.7zM619.3 295.3l1.7 -1.7 1.7 1.7 -1.7 1.7zM619.6 295.2l1.7 -1.7 1.7 1.7 -1.7 1.7zM619.9 294.1l1.7 -1.7 1.7 1.7 -1.7 1.7zM620.1 293.0l1.7 -1.7 1.7 1.7 -1.7 1.7zM620.4 290.7l1.7 -1.7 1.7 1.7 -1.7 1.7zM620.7 288.7l1.7 -1.7 1.7 1.7 -1.7 1.7zM620.9 285.7l1.7 -1.7 1.7 1.7 -1.7 1.7zM621.2 282.4l1.7 -1.7 1.7 1.7 -1.7 1.7zM621.4 276.5l1.7 -1.7 1.7 1.7 -1.7 1.7zM621.7 271.1l1.7 -1.7 1.7 1.7 -1.7 1.7zM622.0 265.0l1.7 -1.7 1.7 1.7 -1.7 1.7zM622.2 260.0l1.7 -1.7 1.7 1.7 -1.7 1.7zM622.5 261.0l1.7 -1.7 1.7 1.7 -1.7 1.7zM622.7 262.6l1.7 -1.7 1.7 1.7 -1.7 1.7zM623.0 267.4l1.7 -1.7 1.7 1.7 -1.7 1.7zM623.3 275.1l1.7 -1.7 1.7 1.7 -1.7 1.7zM623.5 279.5l1.7 -1.7 1.7 1.7 -1.7 1.7zM623.8 284.8l1.7 -1.7 1.7 1.7 -1.7 1.7zM624.1 288.7l1.7 -1.7 1.7 1.7 -1.7 1.7zM624.3 290.7l1.7 -1.7 1.7 1.7 -1.7 1.7zM624.6 293.0l1.7 -1.7 1.7 1.7 -1.7 1.7zM624.8 294.6l1.7 -1.7 1.7 1.7 -1.7 1.7zM625.1 296.2l1.7 -1.7 1.7 1.7 -1.7 1.7zM625.4 296.5l1.7 -1.7 1.7 1.7 -1.7 1.7zM625.6 297.6l1.7 -1.7 1.7 1.7 -1.7 1.7zM625.9 298.9l1.7 -1.7 1.7 1.7 -1.7 1.7zM626.1 300.0l1.7 -1.7 1.7 1.7 -1.7 1.7zM626.4 300.4l1.7 -1.7 1.7 1.7 -1.7 1.7zM626.7 301.3l1.7 -1.7 1.7 1.7 -1.7 1.7zM626.9 301.2l1.7 -1.7 1.7 1.7 -1.7 1.7zM627.2 300.9l1.7 -1.7 1.7 1.7 -1.7 1.7zM627.5 301.4l1.7 -1.7 1.7 1.7 -1.7 1.7zM627.7 300.7l1.7 -1.7 1.7 1.7 -1.7 1.7zM628.0 301.5l1.7 -1.7 1.7 1.7 -1.7 1.7zM628.2 301.7l1.7 -1.7 1.7 1.7 -1.7 1.7zM628.5 302.5l1.7 -1.7 1.7 1.7 -1.7 1.7zM628.8 302.9l1.7 -1.7 1.7 1.7 -1.7 1.7zM629.0 302.4l1.7 -1.7 1.7 1.7 -1.7 1.7zM629.3 302.6l1.7 -1.7 1.7 1.7 -1.7 1.7zM629.5 302.2l1.7 -1.7 1.7 1.7 -1.7 1.7zM629.8 303.1l1.7 -1.7 1.7 1.7 -1.7 1.7zM630.1 303.4l1.7 -1.7 1.7 1.7 -1.7 1.7zM630.3 303.6l1.7 -1.7 1.7 1.7 -1.7 1.7zM630.6 303.1l1.7 -1.7 1.7 1.7 -1.7 1.7zM630.9 304.5l1.7 -1.7 1.7 1.7 -1.7 1.7zM631.1 304.2l1.7 -1.7 1.7 1.7 -1.7 1.7zM631.4 303.7l1.7 -1.7 1.7 1.7 -1.7 1.7zM631.6 303.6l1.7 -1.7 1.7 1.7 -1.7 1.7zM631.9 303.8l1.7 -1.7 1.7 1.7 -1.7 1.7zM632.2 304.1l1.7 -1.7 1.7 1.7 -1.7 1.7zM632.4 304.1l1.7 -1.7 1.7 1.7 -1.7 1.7zM632.7 304.4l1.7 -1.7 1.7 1.7 -1.7 1.7zM632.9 304.6l1.7 -1.7 1.7 1.7 -1.7 1.7zM633.2 305.0l1.7 -1.7 1.7 1.7 -1.7 1.7zM633.5 304.9l1.7 -1.7 1.7 1.7 -1.7 1.7zM633.7 304.4l1.7 -1.7 1.7 1.7 -1.7 1.7zM634.0 304.7l1.7 -1.7 1.7 1.7 -1.7 1.7zM634.3 304.4l1.7 -1.7 1.7 1.7 -1.7 1.7zM634.5 304.3l1.7 -1.7 1.7 1.7 -1.7 1.7zM634.8 305.6l1.7 -1.7 1.7 1.7 -1.7 1.7zM635.0 304.5l1.7 -1.7 1.7 1.7 -1.7 1.7zM635.3 305.8l1.7 -1.7 1.7 1.7 -1.7 1.7zM635.6 304.7l1.7 -1.7 1.7 1.7 -1.7 1.7zM635.8 305.1l1.7 -1.7 1.7 1.7 -1.7 1.7zM636.1 305.5l1.7 -1.7 1.7 1.7 -1.7 1.7zM636.3 305.1l1.7 -1.7 1.7 1.7 -1.7 1.7zM636.6 305.3l1.7 -1.7 1.7 1.7 -1.7 1.7zM636.9 305.0l1.7 -1.7 1.7 1.7 -1.7 1.7zM637.1 305.0l1.7 -1.7 1.7 1.7 -1.7 1.7zM637.4 305.2l1.7 -1.7 1.7 1.7 -1.7 1.7zM637.7 305.0l1.7 -1.7 1.7 1.7 -1.7 1.7zM637.9 306.2l1.7 -1.7 1.7 1.7 -1.7 1.7zM638.2 305.3l1.7 -1.7 1.7 1.7 -1.7 1.7zM638.4 306.3l1.7 -1.7 1.7 1.7 -1.7 1.7zM638.7 304.2l1.7 -1.7 1.7 1.7 -1.7 1.7zM639.0 305.6l1.7 -1.7 1.7 1.7 -1.7 1.7zM639.2 305.9l1.7 -1.7 1.7 1.7 -1.7 1.7zM639.5 305.5l1.7 -1.7 1.7 1.7 -1.7 1.7zM639.7 306.3l1.7 -1.7 1.7 1.7 -1.7 1.7zM640.0 306.1l1.7 -1.7 1.7 1.7 -1.7 1.7zM640.3 305.7l1.7 -1.7 1.7 1.7 -1.7 1.7zM640.5 306.1l1.7 -1.7 1.7 1.7 -1.7 1.7zM640.8 307.3l1.7 -1.7 1.7 1.7 -1.7 1.7zM641.1 306.1l1.7 -1.7 1.7 1.7 -1.7 1.7zM641.3 306.1l1.7 -1.7 1.7 1.7 -1.7 1.7zM641.6 305.8l1.7 -1.7 1.7 1.7 -1.7 1.7zM641.8 306.1l1.7 -1.7 1.7 1.7 -1.7 1.7zM642.1 305.5l1.7 -1.7 1.7 1.7 -1.7 1.7zM642.4 306.1l1.7 -1.7 1.7 1.7 -1.7 1.7zM642.6 307.4l1.7 -1.7 1.7 1.7 -1.7 1.7zM642.9 306.8l1.7 -1.7 1.7 1.7 -1.7 1.7zM643.1 306.6l1.7 -1.7 1.7 1.7 -1.7 1.7zM643.4 306.9l1.7 -1.7 1.7 1.7 -1.7 1.7zM643.7 307.3l1.7 -1.7 1.7 1.7 -1.7 1.7zM643.9 306.7l1.7 -1.7 1.7 1.7 -1.7 1.7zM644.2 307.5l1.7 -1.7 1.7 1.7 -1.7 1.7zM644.5 307.0l1.7 -1.7 1.7 1.7 -1.7 1.7zM644.7 306.6l1.7 -1.7 1.7 1.7 -1.7 1.7zM645.0 307.4l1.7 -1.7 1.7 1.7 -1.7 1.7zM645.2 305.4l1.7 -1.7 1.7 1.7 -1.7 1.7zM645.5 306.4l1.7 -1.7 1.7 1.7 -1.7 1.7zM645.8 306.8l1.7 -1.7 1.7 1.7 -1.7 1.7zM646.0 306.3l1.7 -1.7 1.7 1.7 -1.7 1.7zM646.3 306.7l1.7 -1.7 1.7 1.7 -1.7 1.7zM646.5 306.5l1.7 -1.7 1.7 1.7 -1.7 1.7zM646.8 306.5l1.7 -1.7 1.7 1.7 -1.7 1.7zM647.1 308.3l1.7 -1.7 1.7 1.7 -1.7 1.7zM647.3 307.3l1.7 -1.7 1.7 1.7 -1.7 1.7zM647.6 307.0l1.7 -1.7 1.7 1.7 -1.7 1.7zM647.9 307.7l1.7 -1.7 1.7 1.7 -1.7 1.7zM648.1 307.0l1.7 -1.7 1.7 1.7 -1.7 1.7zM648.4 307.6l1.7 -1.7 1.7 1.7 -1.7 1.7zM648.6 307.3l1.7 -1.7 1.7 1.7 -1.7 1.7zM648.9 308.0l1.7 -1.7 1.7 1.7 -1.7 1.7zM649.2 306.5l1.7 -1.7 1.7 1.7 -1.7 1.7zM649.4 307.7l1.7 -1.7 1.7 1.7 -1.7 1.7zM649.7 307.4l1.7 -1.7 1.7 1.7 -1.7 1.7zM649.9 306.8l1.7 -1.7 1.7 1.7 -1.7 1.7zM650.2 307.9l1.7 -1.7 1.7 1.7 -1.7 1.7zM650.5 307.0l1.7 -1.7 1.7 1.7 -1.7 1.7zM650.7 308.3l1.7 -1.7 1.7 1.7 -1.7 1.7zM651.0 307.8l1.7 -1.7 1.7 1.7 -1.7 1.7zM651.3 307.9l1.7 -1.7 1.7 1.7 -1.7 1.7zM651.5 307.6l1.7 -1.7 1.7 1.7 -1.7 1.7zM651.8 308.1l1.7 -1.7 1.7 1.7 -1.7 1.7zM652.0 306.7l1.7 -1.7 1.7 1.7 -1.7 1.7zM652.3 307.7l1.7 -1.7 1.7 1.7 -1.7 1.7zM652.6 307.4l1.7 -1.7 1.7 1.7 -1.7 1.7zM652.8 307.9l1.7 -1.7 1.7 1.7 -1.7 1.7zM653.1 307.8l1.7 -1.7 1.7 1.7 -1.7 1.7zM653.3 308.2l1.7 -1.7 1.7 1.7 -1.7 1.7zM653.6 307.5l1.7 -1.7 1.7 1.7 -1.7 1.7zM653.9 308.9l1.7 -1.7 1.7 1.7 -1.7 1.7zM654.1 309.1l1.7 -1.7 1.7 1.7 -1.7 1.7zM654.4 307.9l1.7 -1.7 1.7 1.7 -1.7 1.7zM654.7 308.0l1.7 -1.7 1.7 1.7 -1.7 1.7zM654.9 308.2l1.7 -1.7 1.7 1.7 -1.7 1.7zM655.2 308.8l1.7 -1.7 1.7 1.7 -1.7 1.7zM655.4 309.1l1.7 -1.7 1.7 1.7 -1.7 1.7zM655.7 307.6l1.7 -1.7 1.7 1.7 -1.7 1.7zM656.0 307.9l1.7 -1.7 1.7 1.7 -1.7 1.7zM656.2 307.8l1.7 -1.7 1.7 1.7 -1.7 1.7zM656.5 307.8l1.7 -1.7 1.7 1.7 -1.7 1.7zM656.7 307.5l1.7 -1.7 1.7 1.7 -1.7 1.7zM657.0 308.6l1.7 -1.7 1.7 1.7 -1.7 1.7zM657.3 307.9l1.7 -1.7 1.7 1.7 -1.7 1.7zM657.5 309.2l1.7 -1.7 1.7 1.7 -1.7 1.7zM657.8 309.0l1.7 -1.7 1.7 1.7 -1.7 1.7zM658.1 308.0l1.7 -1.7 1.7 1.7 -1.7 1.7zM658.3 308.1l1.7 -1.7 1.7 1.7 -1.7 1.7zM658.6 308.3l1.7 -1.7 1.7 1.7 -1.7 1.7zM658.8 309.4l1.7 -1.7 1.7 1.7 -1.7 1.7zM659.1 308.3l1.7 -1.7 1.7 1.7 -1.7 1.7zM659.4 308.0l1.7 -1.7 1.7 1.7 -1.7 1.7zM659.6 308.7l1.7 -1.7 1.7 1.7 -1.7 1.7zM659.9 309.0l1.7 -1.7 1.7 1.7 -1.7 1.7zM660.1 308.5l1.7 -1.7 1.7 1.7 -1.7 1.7zM660.4 309.7l1.7 -1.7 1.7 1.7 -1.7 1.7zM660.7 309.0l1.7 -1.7 1.7 1.7 -1.7 1.7zM660.9 309.2l1.7 -1.7 1.7 1.7 -1.7 1.7zM661.2 308.5l1.7 -1.7 1.7 1.7 -1.7 1.7zM661.5 309.0l1.7 -1.7 1.7 1.7 -1.7 1.7zM661.7 309.0l1.7 -1.7 1.7 1.7 -1.7 1.7zM662.0 307.9l1.7 -1.7 1.7 1.7 -1.7 1.7zM662.2 309.3l1.7 -1.7 1.7 1.7 -1.7 1.7zM662.5 308.3l1.7 -1.7 1.7 1.7 -1.7 1.7zM662.8 309.2l1.7 -1.7 1.7 1.7 -1.7 1.7zM663.0 308.5l1.7 -1.7 1.7 1.7 -1.7 1.7zM663.3 310.3l1.7 -1.7 1.7 1.7 -1.7 1.7zM663.5 309.5l1.7 -1.7 1.7 1.7 -1.7 1.7zM663.8 309.8l1.7 -1.7 1.7 1.7 -1.7 1.7zM664.1 309.8l1.7 -1.7 1.7 1.7 -1.7 1.7zM664.3 308.7l1.7 -1.7 1.7 1.7 -1.7 1.7zM664.6 308.3l1.7 -1.7 1.7 1.7 -1.7 1.7zM664.9 309.3l1.7 -1.7 1.7 1.7 -1.7 1.7zM665.1 309.9l1.7 -1.7 1.7 1.7 -1.7 1.7zM665.4 309.6l1.7 -1.7 1.7 1.7 -1.7 1.7zM665.6 309.9l1.7 -1.7 1.7 1.7 -1.7 1.7zM665.9 310.1l1.7 -1.7 1.7 1.7 -1.7 1.7zM666.2 308.9l1.7 -1.7 1.7 1.7 -1.7 1.7zM666.4 309.8l1.7 -1.7 1.7 1.7 -1.7 1.7zM666.7 310.7l1.7 -1.7 1.7 1.7 -1.7 1.7zM666.9 309.4l1.7 -1.7 1.7 1.7 -1.7 1.7zM667.2 308.7l1.7 -1.7 1.7 1.7 -1.7 1.7zM667.5 309.7l1.7 -1.7 1.7 1.7 -1.7 1.7zM667.7 309.6l1.7 -1.7 1.7 1.7 -1.7 1.7zM668.0 310.0l1.7 -1.7 1.7 1.7 -1.7 1.7zM668.3 309.4l1.7 -1.7 1.7 1.7 -1.7 1.7zM668.5 309.9l1.7 -1.7 1.7 1.7 -1.7 1.7zM668.8 308.8l1.7 -1.7 1.7 1.7 -1.7 1.7zM669.0 310.4l1.7 -1.7 1.7 1.7 -1.7 1.7zM669.3 310.8l1.7 -1.7 1.7 1.7 -1.7 1.7zM669.6 310.6l1.7 -1.7 1.7 1.7 -1.7 1.7zM669.8 309.3l1.7 -1.7 1.7 1.7 -1.7 1.7zM670.1 310.2l1.7 -1.7 1.7 1.7 -1.7 1.7zM670.3 308.6l1.7 -1.7 1.7 1.7 -1.7 1.7zM670.6 310.2l1.7 -1.7 1.7 1.7 -1.7 1.7zM670.9 310.1l1.7 -1.7 1.7 1.7 -1.7 1.7zM671.1 309.6l1.7 -1.7 1.7 1.7 -1.7 1.7zM671.4 310.3l1.7 -1.7 1.7 1.7 -1.7 1.7zM671.7 310.2l1.7 -1.7 1.7 1.7 -1.7 1.7zM671.9 310.6l1.7 -1.7 1.7 1.7 -1.7 1.7zM672.2 310.3l1.7 -1.7 1.7 1.7 -1.7 1.7zM672.4 310.3l1.7 -1.7 1.7 1.7 -1.7 1.7zM672.7 309.2l1.7 -1.7 1.7 1.7 -1.7 1.7zM673.0 309.6l1.7 -1.7 1.7 1.7 -1.7 1.7zM673.2 310.0l1.7 -1.7 1.7 1.7 -1.7 1.7zM673.5 310.3l1.7 -1.7 1.7 1.7 -1.7 1.7zM673.7 310.2l1.7 -1.7 1.7 1.7 -1.7 1.7zM674.0 310.9l1.7 -1.7 1.7 1.7 -1.7 1.7zM674.3 309.7l1.7 -1.7 1.7 1.7 -1.7 1.7zM674.5 310.0l1.7 -1.7 1.7 1.7 -1.7 1.7zM674.8 310.2l1.7 -1.7 1.7 1.7 -1.7 1.7zM675.1 309.9l1.7 -1.7 1.7 1.7 -1.7 1.7zM675.3 310.2l1.7 -1.7 1.7 1.7 -1.7 1.7zM675.6 309.6l1.7 -1.7 1.7 1.7 -1.7 1.7zM675.8 310.5l1.7 -1.7 1.7 1.7 -1.7 1.7zM676.1 309.6l1.7 -1.7 1.7 1.7 -1.7 1.7zM676.4 310.2l1.7 -1.7 1.7 1.7 -1.7 1.7zM676.6 309.5l1.7 -1.7 1.7 1.7 -1.7 1.7zM676.9 310.1l1.7 -1.7 1.7 1.7 -1.7 1.7zM677.1 308.5l1.7 -1.7 1.7 1.7 -1.7 1.7zM677.4 309.2l1.7 -1.7 1.7 1.7 -1.7 1.7zM677.7 308.5l1.7 -1.7 1.7 1.7 -1.7 1.7zM677.9 308.4l1.7 -1.7 1.7 1.7 -1.7 1.7zM678.2 308.4l1.7 -1.7 1.7 1.7 -1.7 1.7zM678.4 306.6l1.7 -1.7 1.7 1.7 -1.7 1.7zM678.7 305.7l1.7 -1.7 1.7 1.7 -1.7 1.7zM679.0 304.7l1.7 -1.7 1.7 1.7 -1.7 1.7zM679.2 303.6l1.7 -1.7 1.7 1.7 -1.7 1.7zM679.5 300.0l1.7 -1.7 1.7 1.7 -1.7 1.7zM679.8 297.3l1.7 -1.7 1.7 1.7 -1.7 1.7zM680.0 291.5l1.7 -1.7 1.7 1.7 -1.7 1.7zM680.3 286.2l1.7 -1.7 1.7 1.7 -1.7 1.7zM680.5 283.9l1.7 -1.7 1.7 1.7 -1.7 1.7zM680.8 286.9l1.7 -1.7 1.7 1.7 -1.7 1.7zM681.1 291.7l1.7 -1.7 1.7 1.7 -1.7 1.7zM681.3 296.7l1.7 -1.7 1.7 1.7 -1.7 1.7zM681.6 300.4l1.7 -1.7 1.7 1.7 -1.7 1.7zM681.8 302.7l1.7 -1.7 1.7 1.7 -1.7 1.7zM682.1 303.0l1.7 -1.7 1.7 1.7 -1.7 1.7zM682.4 305.2l1.7 -1.7 1.7 1.7 -1.7 1.7zM682.6 306.1l1.7 -1.7 1.7 1.7 -1.7 1.7zM682.9 307.0l1.7 -1.7 1.7 1.7 -1.7 1.7zM683.2 307.7l1.7 -1.7 1.7 1.7 -1.7 1.7zM683.4 307.0l1.7 -1.7 1.7 1.7 -1.7 1.7zM683.7 306.6l1.7 -1.7 1.7 1.7 -1.7 1.7zM683.9 305.9l1.7 -1.7 1.7 1.7 -1.7 1.7zM684.2 306.0l1.7 -1.7 1.7 1.7 -1.7 1.7zM684.5 305.7l1.7 -1.7 1.7 1.7 -1.7 1.7zM684.7 305.1l1.7 -1.7 1.7 1.7 -1.7 1.7zM685.0 302.8l1.7 -1.7 1.7 1.7 -1.7 1.7zM685.2 301.7l1.7 -1.7 1.7 1.7 -1.7 1.7zM685.5 299.8l1.7 -1.7 1.7 1.7 -1.7 1.7zM685.8 297.5l1.7 -1.7 1.7 1.7 -1.7 1.7zM686.0 293.6l1.7 -1.7 1.7 1.7 -1.7 1.7zM686.3 291.0l1.7 -1.7 1.7 1.7 -1.7 1.7zM686.6 290.7l1.7 -1.7 1.7 1.7 -1.7 1.7zM686.8 292.7l1.7 -1.7 1.7 1.7 -1.7 1.7zM687.1 295.0l1.7 -1.7 1.7 1.7 -1.7 1.7zM687.3 298.0l1.7 -1.7 1.7 1.7 -1.7 1.7zM687.6 299.7l1.7 -1.7 1.7 1.7 -1.7 1.7zM687.9 300.5l1.7 -1.7 1.7 1.7 -1.7 1.7zM688.1 301.2l1.7 -1.7 1.7 1.7 -1.7 1.7zM688.4 300.3l1.7 -1.7 1.7 1.7 -1.7 1.7zM688.6 300.3l1.7 -1.7 1.7 1.7 -1.7 1.7zM688.9 299.2l1.7 -1.7 1.7 1.7 -1.7 1.7zM689.2 298.3l1.7 -1.7 1.7 1.7 -1.7 1.7zM689.4 297.3l1.7 -1.7 1.7 1.7 -1.7 1.7zM689.7 294.6l1.7 -1.7 1.7 1.7 -1.7 1.7zM690.0 291.2l1.7 -1.7 1.7 1.7 -1.7 1.7zM690.2 288.8l1.7 -1.7 1.7 1.7 -1.7 1.7zM690.5 284.8l1.7 -1.7 1.7 1.7 -1.7 1.7zM690.7 280.0l1.7 -1.7 1.7 1.7 -1.7 1.7zM691.0 275.7l1.7 -1.7 1.7 1.7 -1.7 1.7zM691.3 272.2l1.7 -1.7 1.7 1.7 -1.7 1.7zM691.5 269.3l1.7 -1.7 1.7 1.7 -1.7 1.7zM691.8 266.8l1.7 -1.7 1.7 1.7 -1.7 1.7zM692.0 268.6l1.7 -1.7 1.7 1.7 -1.7 1.7zM692.3 271.7l1.7 -1.7 1.7 1.7 -1.7 1.7zM692.6 274.9l1.7 -1.7 1.7 1.7 -1.7 1.7zM692.8 280.1l1.7 -1.7 1.7 1.7 -1.7 1.7zM693.1 284.6l1.7 -1.7 1.7 1.7 -1.7 1.7zM693.4 288.7l1.7 -1.7 1.7 1.7 -1.7 1.7zM693.6 291.1l1.7 -1.7 1.7 1.7 -1.7 1.7zM693.9 294.5l1.7 -1.7 1.7 1.7 -1.7 1.7zM694.1 297.3l1.7 -1.7 1.7 1.7 -1.7 1.7zM694.4 299.1l1.7 -1.7 1.7 1.7 -1.7 1.7zM694.7 300.7l1.7 -1.7 1.7 1.7 -1.7 1.7zM694.9 300.5l1.7 -1.7 1.7 1.7 -1.7 1.7zM695.2 302.2l1.7 -1.7 1.7 1.7 -1.7 1.7zM695.4 301.7l1.7 -1.7 1.7 1.7 -1.7 1.7zM695.7 300.5l1.7 -1.7 1.7 1.7 -1.7 1.7zM696.0 300.8l1.7 -1.7 1.7 1.7 -1.7 1.7zM696.2 298.9l1.7 -1.7 1.7 1.7 -1.7 1.7zM696.5 297.4l1.7 -1.7 1.7 1.7 -1.7 1.7zM696.8 294.8l1.7 -1.7 1.7 1.7 -1.7 1.7zM697.0 293.6l1.7 -1.7 1.7 1.7 -1.7 1.7zM697.3 293.0l1.7 -1.7 1.7 1.7 -1.7 1.7zM697.5 294.6l1.7 -1.7 1.7 1.7 -1.7 1.7zM697.8 298.1l1.7 -1.7 1.7 1.7 -1.7 1.7zM698.1 300.5l1.7 -1.7 1.7 1.7 -1.7 1.7zM698.3 302.4l1.7 -1.7 1.7 1.7 -1.7 1.7zM698.6 304.9l1.7 -1.7 1.7 1.7 -1.7 1.7zM698.8 305.3l1.7 -1.7 1.7 1.7 -1.7 1.7zM699.1 306.0l1.7 -1.7 1.7 1.7 -1.7 1.7zM699.4 306.6l1.7 -1.7 1.7 1.7 -1.7 1.7zM699.6 306.5l1.7 -1.7 1.7 1.7 -1.7 1.7zM699.9 307.1l1.7 -1.7 1.7 1.7 -1.7 1.7zM700.2 308.2l1.7 -1.7 1.7 1.7 -1.7 1.7zM700.4 306.6l1.7 -1.7 1.7 1.7 -1.7 1.7zM700.7 306.6l1.7 -1.7 1.7 1.7 -1.7 1.7zM700.9 305.5l1.7 -1.7 1.7 1.7 -1.7 1.7zM701.2 305.1l1.7 -1.7 1.7 1.7 -1.7 1.7zM701.5 305.8l1.7 -1.7 1.7 1.7 -1.7 1.7zM701.7 305.6l1.7 -1.7 1.7 1.7 -1.7 1.7zM702.0 305.5l1.7 -1.7 1.7 1.7 -1.7 1.7zM702.2 306.7l1.7 -1.7 1.7 1.7 -1.7 1.7zM702.5 307.3l1.7 -1.7 1.7 1.7 -1.7 1.7zM702.8 308.2l1.7 -1.7 1.7 1.7 -1.7 1.7zM703.0 308.8l1.7 -1.7 1.7 1.7 -1.7 1.7zM703.3 309.4l1.7 -1.7 1.7 1.7 -1.7 1.7zM703.6 310.4l1.7 -1.7 1.7 1.7 -1.7 1.7zM703.8 310.9l1.7 -1.7 1.7 1.7 -1.7 1.7zM704.1 311.1l1.7 -1.7 1.7 1.7 -1.7 1.7zM704.3 311.1l1.7 -1.7 1.7 1.7 -1.7 1.7zM704.6 310.7l1.7 -1.7 1.7 1.7 -1.7 1.7zM704.9 311.5l1.7 -1.7 1.7 1.7 -1.7 1.7zM705.1 311.2l1.7 -1.7 1.7 1.7 -1.7 1.7zM705.4 312.2l1.7 -1.7 1.7 1.7 -1.7 1.7zM705.6 312.1l1.7 -1.7 1.7 1.7 -1.7 1.7zM705.9 312.3l1.7 -1.7 1.7 1.7 -1.7 1.7zM706.2 311.9l1.7 -1.7 1.7 1.7 -1.7 1.7zM706.4 311.2l1.7 -1.7 1.7 1.7 -1.7 1.7zM706.7 312.6l1.7 -1.7 1.7 1.7 -1.7 1.7zM707.0 312.8l1.7 -1.7 1.7 1.7 -1.7 1.7zM707.2 311.5l1.7 -1.7 1.7 1.7 -1.7 1.7zM707.5 312.3l1.7 -1.7 1.7 1.7 -1.7 1.7zM707.7 312.9l1.7 -1.7 1.7 1.7 -1.7 1.7zM708.0 311.8l1.7 -1.7 1.7 1.7 -1.7 1.7zM708.3 313.2l1.7 -1.7 1.7 1.7 -1.7 1.7zM708.5 312.1l1.7 -1.7 1.7 1.7 -1.7 1.7zM708.8 311.7l1.7 -1.7 1.7 1.7 -1.7 1.7zM709.0 312.9l1.7 -1.7 1.7 1.7 -1.7 1.7zM709.3 312.4l1.7 -1.7 1.7 1.7 -1.7 1.7zM709.6 311.8l1.7 -1.7 1.7 1.7 -1.7 1.7zM709.8 312.5l1.7 -1.7 1.7 1.7 -1.7 1.7zM710.1 311.0l1.7 -1.7 1.7 1.7 -1.7 1.7zM710.4 312.8l1.7 -1.7 1.7 1.7 -1.7 1.7zM710.6 311.3l1.7 -1.7 1.7 1.7 -1.7 1.7zM710.9 311.7l1.7 -1.7 1.7 1.7 -1.7 1.7zM711.1 311.1l1.7 -1.7 1.7 1.7 -1.7 1.7zM711.4 311.3l1.7 -1.7 1.7 1.7 -1.7 1.7zM711.7 311.1l1.7 -1.7 1.7 1.7 -1.7 1.7zM711.9 309.8l1.7 -1.7 1.7 1.7 -1.7 1.7zM712.2 309.9l1.7 -1.7 1.7 1.7 -1.7 1.7zM712.4 308.5l1.7 -1.7 1.7 1.7 -1.7 1.7zM712.7 307.2l1.7 -1.7 1.7 1.7 -1.7 1.7zM713.0 306.1l1.7 -1.7 1.7 1.7 -1.7 1.7zM713.2 304.2l1.7 -1.7 1.7 1.7 -1.7 1.7zM713.5 302.8l1.7 -1.7 1.7 1.7 -1.7 1.7zM713.8 302.8l1.7 -1.7 1.7 1.7 -1.7 1.7zM714.0 302.4l1.7 -1.7 1.7 1.7 -1.7 1.7zM714.3 304.1l1.7 -1.7 1.7 1.7 -1.7 1.7zM714.5 305.2l1.7 -1.7 1.7 1.7 -1.7 1.7zM714.8 306.1l1.7 -1.7 1.7 1.7 -1.7 1.7zM715.1 307.0l1.7 -1.7 1.7 1.7 -1.7 1.7zM715.3 308.7l1.7 -1.7 1.7 1.7 -1.7 1.7zM715.6 310.0l1.7 -1.7 1.7 1.7 -1.7 1.7zM715.8 310.5l1.7 -1.7 1.7 1.7 -1.7 1.7zM716.1 310.6l1.7 -1.7 1.7 1.7 -1.7 1.7zM716.4 311.9l1.7 -1.7 1.7 1.7 -1.7 1.7zM716.6 310.8l1.7 -1.7 1.7 1.7 -1.7 1.7zM716.9 311.3l1.7 -1.7 1.7 1.7 -1.7 1.7zM717.2 312.2l1.7 -1.7 1.7 1.7 -1.7 1.7zM717.4 313.4l1.7 -1.7 1.7 1.7 -1.7 1.7zM717.7 312.7l1.7 -1.7 1.7 1.7 -1.7 1.7zM717.9 312.1l1.7 -1.7 1.7 1.7 -1.7 1.7zM718.2 313.0l1.7 -1.7 1.7 1.7 -1.7 1.7zM718.5 313.1l1.7 -1.7 1.7 1.7 -1.7 1.7zM718.7 313.3l1.7 -1.7 1.7 1.7 -1.7 1.7zM719.0 312.7l1.7 -1.7 1.7 1.7 -1.7 1.7zM719.2 312.6l1.7 -1.7 1.7 1.7 -1.7 1.7zM719.5 313.1l1.7 -1.7 1.7 1.7 -1.7 1.7zM719.8 313.3l1.7 -1.7 1.7 1.7 -1.7 1.7zM720.0 313.9l1.7 -1.7 1.7 1.7 -1.7 1.7zM720.3 314.2l1.7 -1.7 1.7 1.7 -1.7 1.7zM720.6 312.8l1.7 -1.7 1.7 1.7 -1.7 1.7zM720.8 312.9l1.7 -1.7 1.7 1.7 -1.7 1.7zM721.1 313.2l1.7 -1.7 1.7 1.7 -1.7 1.7zM721.3 313.1l1.7 -1.7 1.7 1.7 -1.7 1.7zM721.6 313.5l1.7 -1.7 1.7 1.7 -1.7 1.7zM721.9 313.5l1.7 -1.7 1.7 1.7 -1.7 1.7zM722.1 313.4l1.7 -1.7 1.7 1.7 -1.7 1.7zM722.4 314.0l1.7 -1.7 1.7 1.7 -1.7 1.7zM722.6 313.3l1.7 -1.7 1.7 1.7 -1.7 1.7zM722.9 312.8l1.7 -1.7 1.7 1.7 -1.7 1.7zM723.2 312.6l1.7 -1.7 1.7 1.7 -1.7 1.7zM723.4 312.9l1.7 -1.7 1.7 1.7 -1.7 1.7zM723.7 312.9l1.7 -1.7 1.7 1.7 -1.7 1.7zM724.0 312.4l1.7 -1.7 1.7 1.7 -1.7 1.7zM724.2 313.7l1.7 -1.7 1.7 1.7 -1.7 1.7zM724.5 313.5l1.7 -1.7 1.7 1.7 -1.7 1.7zM724.7 313.2l1.7 -1.7 1.7 1.7 -1.7 1.7zM725.0 313.0l1.7 -1.7 1.7 1.7 -1.7 1.7zM725.3 312.6l1.7 -1.7 1.7 1.7 -1.7 1.7zM725.5 312.9l1.7 -1.7 1.7 1.7 -1.7 1.7zM725.8 314.3l1.7 -1.7 1.7 1.7 -1.7 1.7zM726.0 312.3l1.7 -1.7 1.7 1.7 -1.7 1.7zM726.3 313.4l1.7 -1.7 1.7 1.7 -1.7 1.7zM726.6 313.7l1.7 -1.7 1.7 1.7 -1.7 1.7zM726.8 313.4l1.7 -1.7 1.7 1.7 -1.7 1.7zM727.1 313.2l1.7 -1.7 1.7 1.7 -1.7 1.7zM727.4 313.7l1.7 -1.7 1.7 1.7 -1.7 1.7zM727.6 312.7l1.7 -1.7 1.7 1.7 -1.7 1.7zM727.9 313.5l1.7 -1.7 1.7 1.7 -1.7 1.7zM728.1 313.9l1.7 -1.7 1.7 1.7 -1.7 1.7zM728.4 312.6l1.7 -1.7 1.7 1.7 -1.7 1.7zM728.7 312.7l1.7 -1.7 1.7 1.7 -1.7 1.7zM728.9 313.1l1.7 -1.7 1.7 1.7 -1.7 1.7zM729.2 313.4l1.7 -1.7 1.7 1.7 -1.7 1.7zM729.4 313.5l1.7 -1.7 1.7 1.7 -1.7 1.7zM729.7 313.0l1.7 -1.7 1.7 1.7 -1.7 1.7zM730.0 312.2l1.7 -1.7 1.7 1.7 -1.7 1.7zM730.2 311.7l1.7 -1.7 1.7 1.7 -1.7 1.7zM730.5 312.1l1.7 -1.7 1.7 1.7 -1.7 1.7zM730.8 311.9l1.7 -1.7 1.7 1.7 -1.7 1.7zM731.0 310.7l1.7 -1.7 1.7 1.7 -1.7 1.7zM731.3 310.8l1.7 -1.7 1.7 1.7 -1.7 1.7zM731.5 310.4l1.7 -1.7 1.7 1.7 -1.7 1.7zM731.8 310.2l1.7 -1.7 1.7 1.7 -1.7 1.7zM732.1 308.7l1.7 -1.7 1.7 1.7 -1.7 1.7zM732.3 309.2l1.7 -1.7 1.7 1.7 -1.7 1.7zM732.6 308.3l1.7 -1.7 1.7 1.7 -1.7 1.7zM732.8 308.9l1.7 -1.7 1.7 1.7 -1.7 1.7zM733.1 309.6l1.7 -1.7 1.7 1.7 -1.7 1.7zM733.4 310.9l1.7 -1.7 1.7 1.7 -1.7 1.7zM733.6 312.4l1.7 -1.7 1.7 1.7 -1.7 1.7zM733.9 311.4l1.7 -1.7 1.7 1.7 -1.7 1.7zM734.2 311.9l1.7 -1.7 1.7 1.7 -1.7 1.7zM734.4 312.5l1.7 -1.7 1.7 1.7 -1.7 1.7zM734.7 311.6l1.7 -1.7 1.7 1.7 -1.7 1.7zM734.9 312.9l1.7 -1.7 1.7 1.7 -1.7 1.7zM735.2 312.1l1.7 -1.7 1.7 1.7 -1.7 1.7zM735.5 313.7l1.7 -1.7 1.7 1.7 -1.7 1.7zM735.7 313.7l1.7 -1.7 1.7 1.7 -1.7 1.7zM736.0 313.4l1.7 -1.7 1.7 1.7 -1.7 1.7zM736.2 312.8l1.7 -1.7 1.7 1.7 -1.7 1.7zM736.5 314.1l1.7 -1.7 1.7 1.7 -1.7 1.7zM736.8 313.5l1.7 -1.7 1.7 1.7 -1.7 1.7zM737.0 313.5l1.7 -1.7 1.7 1.7 -1.7 1.7zM737.3 313.7l1.7 -1.7 1.7 1.7 -1.7 1.7zM737.6 312.6l1.7 -1.7 1.7 1.7 -1.7 1.7zM737.8 313.7l1.7 -1.7 1.7 1.7 -1.7 1.7zM738.1 314.1l1.7 -1.7 1.7 1.7 -1.7 1.7zM738.3 313.8l1.7 -1.7 1.7 1.7 -1.7 1.7zM738.6 313.7l1.7 -1.7 1.7 1.7 -1.7 1.7zM738.9 313.2l1.7 -1.7 1.7 1.7 -1.7 1.7zM739.1 314.0l1.7 -1.7 1.7 1.7 -1.7 1.7zM739.4 313.8l1.7 -1.7 1.7 1.7 -1.7 1.7zM739.6 313.7l1.7 -1.7 1.7 1.7 -1.7 1.7zM739.9 313.4l1.7 -1.7 1.7 1.7 -1.7 1.7zM740.2 314.1l1.7 -1.7 1.7 1.7 -1.7 1.7zM740.4 314.3l1.7 -1.7 1.7 1.7 -1.7 1.7zM740.7 313.9l1.7 -1.7 1.7 1.7 -1.7 1.7zM741.0 314.2l1.7 -1.7 1.7 1.7 -1.7 1.7zM741.2 314.4l1.7 -1.7 1.7 1.7 -1.7 1.7zM741.5 314.5l1.7 -1.7 1.7 1.7 -1.7 1.7zM741.7 313.8l1.7 -1.7 1.7 1.7 -1.7 1.7zM742.0 313.6l1.7 -1.7 1.7 1.7 -1.7 1.7zM742.3 313.5l1.7 -1.7 1.7 1.7 -1.7 1.7zM742.5 313.7l1.7 -1.7 1.7 1.7 -1.7 1.7zM742.8 314.0l1.7 -1.7 1.7 1.7 -1.7 1.7zM743.0 314.2l1.7 -1.7 1.7 1.7 -1.7 1.7zM743.3 313.5l1.7 -1.7 1.7 1.7 -1.7 1.7zM743.6 313.8l1.7 -1.7 1.7 1.7 -1.7 1.7zM743.8 313.2l1.7 -1.7 1.7 1.7 -1.7 1.7zM744.1 314.3l1.7 -1.7 1.7 1.7 -1.7 1.7zM744.3 313.5l1.7 -1.7 1.7 1.7 -1.7 1.7zM744.6 313.8l1.7 -1.7 1.7 1.7 -1.7 1.7zM744.9 313.3l1.7 -1.7 1.7 1.7 -1.7 1.7zM745.1 313.5l1.7 -1.7 1.7 1.7 -1.7 1.7zM745.4 313.3l1.7 -1.7 1.7 1.7 -1.7 1.7zM745.7 314.4l1.7 -1.7 1.7 1.7 -1.7 1.7zM745.9 313.8l1.7 -1.7 1.7 1.7 -1.7 1.7zM746.2 313.5l1.7 -1.7 1.7 1.7 -1.7 1.7zM746.4 313.0l1.7 -1.7 1.7 1.7 -1.7 1.7zM746.7 313.2l1.7 -1.7 1.7 1.7 -1.7 1.7zM747.0 313.7l1.7 -1.7 1.7 1.7 -1.7 1.7zM747.2 314.3l1.7 -1.7 1.7 1.7 -1.7 1.7zM747.5 312.7l1.7 -1.7 1.7 1.7 -1.7 1.7zM747.7 312.9l1.7 -1.7 1.7 1.7 -1.7 1.7zM748.0 313.2l1.7 -1.7 1.7 1.7 -1.7 1.7zM748.3 312.9l1.7 -1.7 1.7 1.7 -1.7 1.7zM748.5 312.4l1.7 -1.7 1.7 1.7 -1.7 1.7zM748.8 313.1l1.7 -1.7 1.7 1.7 -1.7 1.7zM749.1 313.4l1.7 -1.7 1.7 1.7 -1.7 1.7zM749.3 312.2l1.7 -1.7 1.7 1.7 -1.7 1.7zM749.6 313.0l1.7 -1.7 1.7 1.7 -1.7 1.7zM749.8 313.3l1.7 -1.7 1.7 1.7 -1.7 1.7zM750.1 313.2l1.7 -1.7 1.7 1.7 -1.7 1.7zM750.4 312.4l1.7 -1.7 1.7 1.7 -1.7 1.7zM750.6 313.6l1.7 -1.7 1.7 1.7 -1.7 1.7zM750.9 312.6l1.7 -1.7 1.7 1.7 -1.7 1.7zM751.1 311.8l1.7 -1.7 1.7 1.7 -1.7 1.7zM751.4 312.5l1.7 -1.7 1.7 1.7 -1.7 1.7zM751.7 311.3l1.7 -1.7 1.7 1.7 -1.7 1.7zM751.9 312.1l1.7 -1.7 1.7 1.7 -1.7 1.7zM752.2 310.8l1.7 -1.7 1.7 1.7 -1.7 1.7zM752.5 311.5l1.7 -1.7 1.7 1.7 -1.7 1.7zM752.7 310.5l1.7 -1.7 1.7 1.7 -1.7 1.7zM753.0 311.0l1.7 -1.7 1.7 1.7 -1.7 1.7zM753.2 310.4l1.7 -1.7 1.7 1.7 -1.7 1.7zM753.5 309.8l1.7 -1.7 1.7 1.7 -1.7 1.7zM753.8 309.0l1.7 -1.7 1.7 1.7 -1.7 1.7zM754.0 308.9l1.7 -1.7 1.7 1.7 -1.7 1.7zM754.3 306.7l1.7 -1.7 1.7 1.7 -1.7 1.7zM754.5 306.9l1.7 -1.7 1.7 1.7 -1.7 1.7zM754.8 305.7l1.7 -1.7 1.7 1.7 -1.7 1.7zM755.1 304.4l1.7 -1.7 1.7 1.7 -1.7 1.7zM755.3 302.9l1.7 -1.7 1.7 1.7 -1.7 1.7zM755.6 302.2l1.7 -1.7 1.7 1.7 -1.7 1.7zM755.9 297.8l1.7 -1.7 1.7 1.7 -1.7 1.7zM756.1 294.9l1.7 -1.7 1.7 1.7 -1.7 1.7zM756.4 290.5l1.7 -1.7 1.7 1.7 -1.7 1.7zM756.6 286.2l1.7 -1.7 1.7 1.7 -1.7 1.7zM756.9 278.3l1.7 -1.7 1.7 1.7 -1.7 1.7zM757.2 273.4l1.7 -1.7 1.7 1.7 -1.7 1.7zM757.4 265.5l1.7 -1.7 1.7 1.7 -1.7 1.7zM757.7 259.5l1.7 -1.7 1.7 1.7 -1.7 1.7zM757.9 257.9l1.7 -1.7 1.7 1.7 -1.7 1.7zM758.2 260.2l1.7 -1.7 1.7 1.7 -1.7 1.7zM758.5 265.4l1.7 -1.7 1.7 1.7 -1.7 1.7zM758.7 272.0l1.7 -1.7 1.7 1.7 -1.7 1.7zM759.0 279.2l1.7 -1.7 1.7 1.7 -1.7 1.7zM759.3 284.9l1.7 -1.7 1.7 1.7 -1.7 1.7zM759.5 290.0l1.7 -1.7 1.7 1.7 -1.7 1.7zM759.8 293.1l1.7 -1.7 1.7 1.7 -1.7 1.7zM760.0 297.8l1.7 -1.7 1.7 1.7 -1.7 1.7zM760.3 300.7l1.7 -1.7 1.7 1.7 -1.7 1.7zM760.6 302.1l1.7 -1.7 1.7 1.7 -1.7 1.7zM760.8 303.1l1.7 -1.7 1.7 1.7 -1.7 1.7zM761.1 304.8l1.7 -1.7 1.7 1.7 -1.7 1.7zM761.3 307.5l1.7 -1.7 1.7 1.7 -1.7 1.7zM761.6 307.3l1.7 -1.7 1.7 1.7 -1.7 1.7zM761.9 308.1l1.7 -1.7 1.7 1.7 -1.7 1.7zM762.1 308.6l1.7 -1.7 1.7 1.7 -1.7 1.7zM762.4 310.0l1.7 -1.7 1.7 1.7 -1.7 1.7zM762.7 309.8l1.7 -1.7 1.7 1.7 -1.7 1.7zM762.9 310.1l1.7 -1.7 1.7 1.7 -1.7 1.7zM763.2 310.2l1.7 -1.7 1.7 1.7 -1.7 1.7zM763.4 311.2l1.7 -1.7 1.7 1.7 -1.7 1.7zM763.7 312.0l1.7 -1.7 1.7 1.7 -1.7 1.7zM764.0 311.7l1.7 -1.7 1.7 1.7 -1.7 1.7zM764.2 312.4l1.7 -1.7 1.7 1.7 -1.7 1.7zM764.5 312.3l1.7 -1.7 1.7 1.7 -1.7 1.7zM764.7 312.4l1.7 -1.7 1.7 1.7 -1.7 1.7zM765.0 312.6l1.7 -1.7 1.7 1.7 -1.7 1.7zM765.3 312.7l1.7 -1.7 1.7 1.7 -1.7 1.7zM765.5 313.3l1.7 -1.7 1.7 1.7 -1.7 1.7zM765.8 313.1l1.7 -1.7 1.7 1.7 -1.7 1.7zM766.1 312.7l1.7 -1.7 1.7 1.7 -1.7 1.7zM766.3 313.2l1.7 -1.7 1.7 1.7 -1.7 1.7zM766.6 313.1l1.7 -1.7 1.7 1.7 -1.7 1.7zM766.8 313.5l1.7 -1.7 1.7 1.7 -1.7 1.7zM767.1 313.4l1.7 -1.7 1.7 1.7 -1.7 1.7zM767.4 313.6l1.7 -1.7 1.7 1.7 -1.7 1.7zM767.6 312.7l1.7 -1.7 1.7 1.7 -1.7 1.7zM767.9 313.7l1.7 -1.7 1.7 1.7 -1.7 1.7zM768.1 314.2l1.7 -1.7 1.7 1.7 -1.7 1.7zM768.4 312.9l1.7 -1.7 1.7 1.7 -1.7 1.7zM768.7 314.5l1.7 -1.7 1.7 1.7 -1.7 1.7zM768.9 313.9l1.7 -1.7 1.7 1.7 -1.7 1.7zM769.2 313.6l1.7 -1.7 1.7 1.7 -1.7 1.7zM769.5 312.9l1.7 -1.7 1.7 1.7 -1.7 1.7zM769.7 314.4l1.7 -1.7 1.7 1.7 -1.7 1.7zM770.0 313.4l1.7 -1.7 1.7 1.7 -1.7 1.7zM770.2 313.6l1.7 -1.7 1.7 1.7 -1.7 1.7zM770.5 314.2l1.7 -1.7 1.7 1.7 -1.7 1.7zM770.8 313.4l1.7 -1.7 1.7 1.7 -1.7 1.7zM771.0 313.5l1.7 -1.7 1.7 1.7 -1.7 1.7zM771.3 313.4l1.7 -1.7 1.7 1.7 -1.7 1.7zM771.5 314.0l1.7 -1.7 1.7 1.7 -1.7 1.7zM771.8 314.3l1.7 -1.7 1.7 1.7 -1.7 1.7zM772.1 314.2l1.7 -1.7 1.7 1.7 -1.7 1.7zM772.3 314.3l1.7 -1.7 1.7 1.7 -1.7 1.7zM772.6 313.9l1.7 -1.7 1.7 1.7 -1.7 1.7zM772.9 314.2l1.7 -1.7 1.7 1.7 -1.7 1.7zM773.1 313.8l1.7 -1.7 1.7 1.7 -1.7 1.7zM773.4 315.1l1.7 -1.7 1.7 1.7 -1.7 1.7zM773.6 314.2l1.7 -1.7 1.7 1.7 -1.7 1.7zM773.9 313.2l1.7 -1.7 1.7 1.7 -1.7 1.7zM774.2 313.6l1.7 -1.7 1.7 1.7 -1.7 1.7zM774.4 315.0l1.7 -1.7 1.7 1.7 -1.7 1.7zM774.7 313.5l1.7 -1.7 1.7 1.7 -1.7 1.7zM774.9 314.0l1.7 -1.7 1.7 1.7 -1.7 1.7zM775.2 314.4l1.7 -1.7 1.7 1.7 -1.7 1.7zM775.5 313.7l1.7 -1.7 1.7 1.7 -1.7 1.7zM775.7 314.8l1.7 -1.7 1.7 1.7 -1.7 1.7zM776.0 315.1l1.7 -1.7 1.7 1.7 -1.7 1.7zM776.3 313.8l1.7 -1.7 1.7 1.7 -1.7 1.7zM776.5 314.8l1.7 -1.7 1.7 1.7 -1.7 1.7zM776.8 313.8l1.7 -1.7 1.7 1.7 -1.7 1.7zM777.0 313.7l1.7 -1.7 1.7 1.7 -1.7 1.7zM777.3 314.4l1.7 -1.7 1.7 1.7 -1.7 1.7zM777.6 314.4l1.7 -1.7 1.7 1.7 -1.7 1.7zM777.8 314.0l1.7 -1.7 1.7 1.7 -1.7 1.7zM778.1 314.7l1.7 -1.7 1.7 1.7 -1.7 1.7zM778.3 313.5l1.7 -1.7 1.7 1.7 -1.7 1.7zM778.6 313.8l1.7 -1.7 1.7 1.7 -1.7 1.7zM778.9 313.7l1.7 -1.7 1.7 1.7 -1.7 1.7zM779.1 314.6l1.7 -1.7 1.7 1.7 -1.7 1.7zM779.4 314.7l1.7 -1.7 1.7 1.7 -1.7 1.7zM779.7 314.6l1.7 -1.7 1.7 1.7 -1.7 1.7zM779.9 313.6l1.7 -1.7 1.7 1.7 -1.7 1.7zM780.2 314.3l1.7 -1.7 1.7 1.7 -1.7 1.7zM780.4 314.5l1.7 -1.7 1.7 1.7 -1.7 1.7zM780.7 313.4l1.7 -1.7 1.7 1.7 -1.7 1.7zM781.0 313.8l1.7 -1.7 1.7 1.7 -1.7 1.7zM781.2 314.5l1.7 -1.7 1.7 1.7 -1.7 1.7zM781.5 314.6l1.7 -1.7 1.7 1.7 -1.7 1.7zM781.7 314.3l1.7 -1.7 1.7 1.7 -1.7 1.7zM782.0 314.5l1.7 -1.7 1.7 1.7 -1.7 1.7zM782.3 314.3l1.7 -1.7 1.7 1.7 -1.7 1.7zM782.5 314.2l1.7 -1.7 1.7 1.7 -1.7 1.7zM782.8 314.1l1.7 -1.7 1.7 1.7 -1.7 1.7zM783.1 313.7l1.7 -1.7 1.7 1.7 -1.7 1.7zM783.3 314.0l1.7 -1.7 1.7 1.7 -1.7 1.7zM783.6 313.9l1.7 -1.7 1.7 1.7 -1.7 1.7zM783.8 315.2l1.7 -1.7 1.7 1.7 -1.7 1.7zM784.1 314.2l1.7 -1.7 1.7 1.7 -1.7 1.7zM784.4 314.0l1.7 -1.7 1.7 1.7 -1.7 1.7zM784.6 313.9l1.7 -1.7 1.7 1.7 -1.7 1.7zM784.9 313.9l1.7 -1.7 1.7 1.7 -1.7 1.7zM785.1 313.8l1.7 -1.7 1.7 1.7 -1.7 1.7zM785.4 314.2l1.7 -1.7 1.7 1.7 -1.7 1.7zM785.7 313.9l1.7 -1.7 1.7 1.7 -1.7 1.7zM785.9 314.2l1.7 -1.7 1.7 1.7 -1.7 1.7zM786.2 313.5l1.7 -1.7 1.7 1.7 -1.7 1.7zM786.5 313.9l1.7 -1.7 1.7 1.7 -1.7 1.7zM786.7 314.1l1.7 -1.7 1.7 1.7 -1.7 1.7zM787.0 313.1l1.7 -1.7 1.7 1.7 -1.7 1.7zM787.2 313.7l1.7 -1.7 1.7 1.7 -1.7 1.7zM787.5 313.6l1.7 -1.7 1.7 1.7 -1.7 1.7zM787.8 313.2l1.7 -1.7 1.7 1.7 -1.7 1.7zM788.0 313.1l1.7 -1.7 1.7 1.7 -1.7 1.7zM788.3 312.3l1.7 -1.7 1.7 1.7 -1.7 1.7zM788.5 313.7l1.7 -1.7 1.7 1.7 -1.7 1.7zM788.8 312.5l1.7 -1.7 1.7 1.7 -1.7 1.7zM789.1 312.2l1.7 -1.7 1.7 1.7 -1.7 1.7zM789.3 313.0l1.7 -1.7 1.7 1.7 -1.7 1.7zM789.6 311.6l1.7 -1.7 1.7 1.7 -1.7 1.7zM789.9 312.8l1.7 -1.7 1.7 1.7 -1.7 1.7zM790.1 312.3l1.7 -1.7 1.7 1.7 -1.7 1.7zM790.4 312.2l1.7 -1.7 1.7 1.7 -1.7 1.7zM790.6 311.5l1.7 -1.7 1.7 1.7 -1.7 1.7zM790.9 310.6l1.7 -1.7 1.7 1.7 -1.7 1.7zM791.2 309.9l1.7 -1.7 1.7 1.7 -1.7 1.7zM791.4 311.1l1.7 -1.7 1.7 1.7 -1.7 1.7zM791.7 309.5l1.7 -1.7 1.7 1.7 -1.7 1.7zM791.9 308.8l1.7 -1.7 1.7 1.7 -1.7 1.7zM792.2 309.1l1.7 -1.7 1.7 1.7 -1.7 1.7zM792.5 307.0l1.7 -1.7 1.7 1.7 -1.7 1.7zM792.7 305.9l1.7 -1.7 1.7 1.7 -1.7 1.7zM793.0 304.4l1.7 -1.7 1.7 1.7 -1.7 1.7zM793.3 302.6l1.7 -1.7 1.7 1.7 -1.7 1.7zM793.5 299.7l1.7 -1.7 1.7 1.7 -1.7 1.7zM793.8 297.0l1.7 -1.7 1.7 1.7 -1.7 1.7zM794.0 294.4l1.7 -1.7 1.7 1.7 -1.7 1.7zM794.3 290.0l1.7 -1.7 1.7 1.7 -1.7 1.7zM794.6 283.8l1.7 -1.7 1.7 1.7 -1.7 1.7zM794.8 280.5l1.7 -1.7 1.7 1.7 -1.7 1.7zM795.1 279.3l1.7 -1.7 1.7 1.7 -1.7 1.7zM795.3 279.1l1.7 -1.7 1.7 1.7 -1.7 1.7zM795.6 281.3l1.7 -1.7 1.7 1.7 -1.7 1.7zM795.9 285.8l1.7 -1.7 1.7 1.7 -1.7 1.7zM796.1 288.6l1.7 -1.7 1.7 1.7 -1.7 1.7zM796.4 294.0l1.7 -1.7 1.7 1.7 -1.7 1.7zM796.7 296.8l1.7 -1.7 1.7 1.7 -1.7 1.7zM796.9 299.7l1.7 -1.7 1.7 1.7 -1.7 1.7zM797.2 301.7l1.7 -1.7 1.7 1.7 -1.7 1.7zM797.4 303.6l1.7 -1.7 1.7 1.7 -1.7 1.7zM797.7 304.2l1.7 -1.7 1.7 1.7 -1.7 1.7zM798.0 305.0l1.7 -1.7 1.7 1.7 -1.7 1.7zM798.2 306.2l1.7 -1.7 1.7 1.7 -1.7 1.7zM798.5 306.3l1.7 -1.7 1.7 1.7 -1.7 1.7zM798.7 305.7l1.7 -1.7 1.7 1.7 -1.7 1.7zM799.0 307.0l1.7 -1.7 1.7 1.7 -1.7 1.7zM799.3 306.6l1.7 -1.7 1.7 1.7 -1.7 1.7zM799.5 306.2l1.7 -1.7 1.7 1.7 -1.7 1.7zM799.8 304.6l1.7 -1.7 1.7 1.7 -1.7 1.7zM800.1 303.5l1.7 -1.7 1.7 1.7 -1.7 1.7zM800.3 301.4l1.7 -1.7 1.7 1.7 -1.7 1.7zM800.6 298.7l1.7 -1.7 1.7 1.7 -1.7 1.7zM800.8 296.1l1.7 -1.7 1.7 1.7 -1.7 1.7zM801.1 292.2l1.7 -1.7 1.7 1.7 -1.7 1.7zM801.4 287.0l1.7 -1.7 1.7 1.7 -1.7 1.7zM801.6 283.5l1.7 -1.7 1.7 1.7 -1.7 1.7zM801.9 278.4l1.7 -1.7 1.7 1.7 -1.7 1.7zM802.1 278.2l1.7 -1.7 1.7 1.7 -1.7 1.7zM802.4 281.0l1.7 -1.7 1.7 1.7 -1.7 1.7zM802.7 286.6l1.7 -1.7 1.7 1.7 -1.7 1.7zM802.9 290.9l1.7 -1.7 1.7 1.7 -1.7 1.7zM803.2 295.4l1.7 -1.7 1.7 1.7 -1.7 1.7zM803.5 298.8l1.7 -1.7 1.7 1.7 -1.7 1.7zM803.7 301.7l1.7 -1.7 1.7 1.7 -1.7 1.7zM804.0 303.6l1.7 -1.7 1.7 1.7 -1.7 1.7zM804.2 306.5l1.7 -1.7 1.7 1.7 -1.7 1.7zM804.5 307.6l1.7 -1.7 1.7 1.7 -1.7 1.7zM804.8 308.9l1.7 -1.7 1.7 1.7 -1.7 1.7zM805.0 308.9l1.7 -1.7 1.7 1.7 -1.7 1.7zM805.3 311.1l1.7 -1.7 1.7 1.7 -1.7 1.7zM805.5 309.9l1.7 -1.7 1.7 1.7 -1.7 1.7zM805.8 309.8l1.7 -1.7 1.7 1.7 -1.7 1.7zM806.1 311.1l1.7 -1.7 1.7 1.7 -1.7 1.7zM806.3 311.6l1.7 -1.7 1.7 1.7 -1.7 1.7zM806.6 312.1l1.7 -1.7 1.7 1.7 -1.7 1.7zM806.9 311.4l1.7 -1.7 1.7 1.7 -1.7 1.7zM807.1 312.4l1.7 -1.7 1.7 1.7 -1.7 1.7zM807.4 313.1l1.7 -1.7 1.7 1.7 -1.7 1.7zM807.6 311.9l1.7 -1.7 1.7 1.7 -1.7 1.7zM807.9 312.0l1.7 -1.7 1.7 1.7 -1.7 1.7zM808.2 311.5l1.7 -1.7 1.7 1.7 -1.7 1.7zM808.4 312.5l1.7 -1.7 1.7 1.7 -1.7 1.7zM808.7 312.7l1.7 -1.7 1.7 1.7 -1.7 1.7zM808.9 312.6l1.7 -1.7 1.7 1.7 -1.7 1.7zM809.2 312.5l1.7 -1.7 1.7 1.7 -1.7 1.7zM809.5 312.5l1.7 -1.7 1.7 1.7 -1.7 1.7zM809.7 311.6l1.7 -1.7 1.7 1.7 -1.7 1.7zM810.0 311.6l1.7 -1.7 1.7 1.7 -1.7 1.7zM810.2 310.2l1.7 -1.7 1.7 1.7 -1.7 1.7zM810.5 309.6l1.7 -1.7 1.7 1.7 -1.7 1.7zM810.8 309.3l1.7 -1.7 1.7 1.7 -1.7 1.7zM811.0 307.9l1.7 -1.7 1.7 1.7 -1.7 1.7zM811.3 307.6l1.7 -1.7 1.7 1.7 -1.7 1.7zM811.6 307.3l1.7 -1.7 1.7 1.7 -1.7 1.7zM811.8 306.5l1.7 -1.7 1.7 1.7 -1.7 1.7zM812.1 306.1l1.7 -1.7 1.7 1.7 -1.7 1.7zM812.3 306.8l1.7 -1.7 1.7 1.7 -1.7 1.7zM812.6 308.9l1.7 -1.7 1.7 1.7 -1.7 1.7zM812.9 308.8l1.7 -1.7 1.7 1.7 -1.7 1.7zM813.1 310.1l1.7 -1.7 1.7 1.7 -1.7 1.7zM813.4 310.7l1.7 -1.7 1.7 1.7 -1.7 1.7zM813.6 311.5l1.7 -1.7 1.7 1.7 -1.7 1.7zM813.9 312.5l1.7 -1.7 1.7 1.7 -1.7 1.7zM814.2 312.1l1.7 -1.7 1.7 1.7 -1.7 1.7zM814.4 312.0l1.7 -1.7 1.7 1.7 -1.7 1.7zM814.7 313.7l1.7 -1.7 1.7 1.7 -1.7 1.7zM815.0 313.3l1.7 -1.7 1.7 1.7 -1.7 1.7zM815.2 313.8l1.7 -1.7 1.7 1.7 -1.7 1.7zM815.5 313.6l1.7 -1.7 1.7 1.7 -1.7 1.7zM815.7 314.1l1.7 -1.7 1.7 1.7 -1.7 1.7zM816.0 314.4l1.7 -1.7 1.7 1.7 -1.7 1.7zM816.3 314.6l1.7 -1.7 1.7 1.7 -1.7 1.7zM816.5 313.9l1.7 -1.7 1.7 1.7 -1.7 1.7zM816.8 313.9l1.7 -1.7 1.7 1.7 -1.7 1.7zM817.0 314.3l1.7 -1.7 1.7 1.7 -1.7 1.7zM817.3 314.3l1.7 -1.7 1.7 1.7 -1.7 1.7zM817.6 314.5l1.7 -1.7 1.7 1.7 -1.7 1.7zM817.8 313.9l1.7 -1.7 1.7 1.7 -1.7 1.7zM818.1 313.2l1.7 -1.7 1.7 1.7 -1.7 1.7zM818.4 314.6l1.7 -1.7 1.7 1.7 -1.7 1.7zM818.6 314.8l1.7 -1.7 1.7 1.7 -1.7 1.7zM818.9 314.7l1.7 -1.7 1.7 1.7 -1.7 1.7zM819.1 315.3l1.7 -1.7 1.7 1.7 -1.7 1.7zM819.4 314.9l1.7 -1.7 1.7 1.7 -1.7 1.7zM819.7 314.3l1.7 -1.7 1.7 1.7 -1.7 1.7zM819.9 315.0l1.7 -1.7 1.7 1.7 -1.7 1.7zM820.2 314.5l1.7 -1.7 1.7 1.7 -1.7 1.7zM820.4 315.2l1.7 -1.7 1.7 1.7 -1.7 1.7zM820.7 314.7l1.7 -1.7 1.7 1.7 -1.7 1.7zM821.0 314.8l1.7 -1.7 1.7 1.7 -1.7 1.7zM821.2 314.7l1.7 -1.7 1.7 1.7 -1.7 1.7zM821.5 314.6l1.7 -1.7 1.7 1.7 -1.7 1.7zM821.8 313.9l1.7 -1.7 1.7 1.7 -1.7 1.7zM822.0 314.7l1.7 -1.7 1.7 1.7 -1.7 1.7zM822.3 313.5l1.7 -1.7 1.7 1.7 -1.7 1.7zM822.5 314.9l1.7 -1.7 1.7 1.7 -1.7 1.7zM822.8 315.2l1.7 -1.7 1.7 1.7 -1.7 1.7zM823.1 315.7l1.7 -1.7 1.7 1.7 -1.7 1.7zM823.3 314.9l1.7 -1.7 1.7 1.7 -1.7 1.7zM823.6 314.3l1.7 -1.7 1.7 1.7 -1.7 1.7zM823.8 313.9l1.7 -1.7 1.7 1.7 -1.7 1.7zM824.1 315.7l1.7 -1.7 1.7 1.7 -1.7 1.7zM824.4 314.0l1.7 -1.7 1.7 1.7 -1.7 1.7zM824.6 315.2l1.7 -1.7 1.7 1.7 -1.7 1.7zM824.9 313.6l1.7 -1.7 1.7 1.7 -1.7 1.7zM825.2 314.7l1.7 -1.7 1.7 1.7 -1.7 1.7zM825.4 315.1l1.7 -1.7 1.7 1.7 -1.7 1.7zM825.7 314.9l1.7 -1.7 1.7 1.7 -1.7 1.7zM825.9 314.7l1.7 -1.7 1.7 1.7 -1.7 1.7zM826.2 314.3l1.7 -1.7 1.7 1.7 -1.7 1.7zM826.5 314.3l1.7 -1.7 1.7 1.7 -1.7 1.7zM826.7 315.3l1.7 -1.7 1.7 1.7 -1.7 1.7zM827.0 315.0l1.7 -1.7 1.7 1.7 -1.7 1.7zM827.2 314.7l1.7 -1.7 1.7 1.7 -1.7 1.7zM827.5 314.9l1.7 -1.7 1.7 1.7 -1.7 1.7zM827.8 314.3l1.7 -1.7 1.7 1.7 -1.7 1.7zM828.0 315.3l1.7 -1.7 1.7 1.7 -1.7 1.7zM828.3 315.4l1.7 -1.7 1.7 1.7 -1.7 1.7zM828.6 314.4l1.7 -1.7 1.7 1.7 -1.7 1.7zM828.8 314.8l1.7 -1.7 1.7 1.7 -1.7 1.7zM829.1 315.3l1.7 -1.7 1.7 1.7 -1.7 1.7zM829.3 314.4l1.7 -1.7 1.7 1.7 -1.7 1.7zM829.6 315.8l1.7 -1.7 1.7 1.7 -1.7 1.7zM829.9 315.5l1.7 -1.7 1.7 1.7 -1.7 1.7zM830.1 314.6l1.7 -1.7 1.7 1.7 -1.7 1.7zM830.4 315.3l1.7 -1.7 1.7 1.7 -1.7 1.7zM830.6 315.6l1.7 -1.7 1.7 1.7 -1.7 1.7zM830.9 314.1l1.7 -1.7 1.7 1.7 -1.7 1.7zM831.2 315.1l1.7 -1.7 1.7 1.7 -1.7 1.7zM831.4 314.7l1.7 -1.7 1.7 1.7 -1.7 1.7zM831.7 314.6l1.7 -1.7 1.7 1.7 -1.7 1.7zM832.0 315.1l1.7 -1.7 1.7 1.7 -1.7 1.7zM832.2 314.5l1.7 -1.7 1.7 1.7 -1.7 1.7zM832.5 314.0l1.7 -1.7 1.7 1.7 -1.7 1.7zM832.7 314.0l1.7 -1.7 1.7 1.7 -1.7 1.7zM833.0 314.7l1.7 -1.7 1.7 1.7 -1.7 1.7zM833.3 315.0l1.7 -1.7 1.7 1.7 -1.7 1.7zM833.5 314.7l1.7 -1.7 1.7 1.7 -1.7 1.7zM833.8 314.6l1.7 -1.7 1.7 1.7 -1.7 1.7zM834.0 314.7l1.7 -1.7 1.7 1.7 -1.7 1.7zM834.3 315.3l1.7 -1.7 1.7 1.7 -1.7 1.7zM834.6 314.9l1.7 -1.7 1.7 1.7 -1.7 1.7zM834.8 314.3l1.7 -1.7 1.7 1.7 -1.7 1.7zM835.1 314.5l1.7 -1.7 1.7 1.7 -1.7 1.7zM835.4 315.2l1.7 -1.7 1.7 1.7 -1.7 1.7zM835.6 314.3l1.7 -1.7 1.7 1.7 -1.7 1.7zM835.9 314.4l1.7 -1.7 1.7 1.7 -1.7 1.7zM836.1 314.6l1.7 -1.7 1.7 1.7 -1.7 1.7zM836.4 314.0l1.7 -1.7 1.7 1.7 -1.7 1.7zM836.7 315.0l1.7 -1.7 1.7 1.7 -1.7 1.7zM836.9 313.4l1.7 -1.7 1.7 1.7 -1.7 1.7zM837.2 315.2l1.7 -1.7 1.7 1.7 -1.7 1.7zM837.4 314.2l1.7 -1.7 1.7 1.7 -1.7 1.7zM837.7 313.8l1.7 -1.7 1.7 1.7 -1.7 1.7zM838.0 314.5l1.7 -1.7 1.7 1.7 -1.7 1.7zM838.2 313.5l1.7 -1.7 1.7 1.7 -1.7 1.7zM838.5 314.6l1.7 -1.7 1.7 1.7 -1.7 1.7zM838.8 314.7l1.7 -1.7 1.7 1.7 -1.7 1.7zM839.0 314.0l1.7 -1.7 1.7 1.7 -1.7 1.7zM839.3 314.0l1.7 -1.7 1.7 1.7 -1.7 1.7zM839.5 314.6l1.7 -1.7 1.7 1.7 -1.7 1.7zM839.8 313.8l1.7 -1.7 1.7 1.7 -1.7 1.7zM840.1 314.0l1.7 -1.7 1.7 1.7 -1.7 1.7zM840.3 314.1l1.7 -1.7 1.7 1.7 -1.7 1.7zM840.6 314.7l1.7 -1.7 1.7 1.7 -1.7 1.7zM840.8 313.5l1.7 -1.7 1.7 1.7 -1.7 1.7zM841.1 313.7l1.7 -1.7 1.7 1.7 -1.7 1.7zM841.4 314.2l1.7 -1.7 1.7 1.7 -1.7 1.7zM841.6 312.2l1.7 -1.7 1.7 1.7 -1.7 1.7zM841.9 313.2l1.7 -1.7 1.7 1.7 -1.7 1.7zM842.2 312.3l1.7 -1.7 1.7 1.7 -1.7 1.7zM842.4 312.1l1.7 -1.7 1.7 1.7 -1.7 1.7zM842.7 313.8l1.7 -1.7 1.7 1.7 -1.7 1.7zM842.9 312.8l1.7 -1.7 1.7 1.7 -1.7 1.7zM843.2 313.2l1.7 -1.7 1.7 1.7 -1.7 1.7zM843.5 312.0l1.7 -1.7 1.7 1.7 -1.7 1.7zM843.7 312.1l1.7 -1.7 1.7 1.7 -1.7 1.7zM844.0 311.2l1.7 -1.7 1.7 1.7 -1.7 1.7zM844.2 310.7l1.7 -1.7 1.7 1.7 -1.7 1.7zM844.5 310.4l1.7 -1.7 1.7 1.7 -1.7 1.7zM844.8 309.9l1.7 -1.7 1.7 1.7 -1.7 1.7zM845.0 309.9l1.7 -1.7 1.7 1.7 -1.7 1.7zM845.3 308.2l1.7 -1.7 1.7 1.7 -1.7 1.7zM845.6 307.4l1.7 -1.7 1.7 1.7 -1.7 1.7zM845.8 305.8l1.7 -1.7 1.7 1.7 -1.7 1.7zM846.1 304.4l1.7 -1.7 1.7 1.7 -1.7 1.7zM846.3 301.7l1.7 -1.7 1.7 1.7 -1.7 1.7zM846.6 300.7l1.7 -1.7 1.7 1.7 -1.7 1.7zM846.9 297.2l1.7 -1.7 1.7 1.7 -1.7 1.7zM847.1 294.4l1.7 -1.7 1.7 1.7 -1.7 1.7zM847.4 291.2l1.7 -1.7 1.7 1.7 -1.7 1.7zM847.6 289.0l1.7 -1.7 1.7 1.7 -1.7 1.7zM847.9 286.8l1.7 -1.7 1.7 1.7 -1.7 1.7zM848.2 286.0l1.7 -1.7 1.7 1.7 -1.7 1.7zM848.4 287.2l1.7 -1.7 1.7 1.7 -1.7 1.7zM848.7 289.6l1.7 -1.7 1.7 1.7 -1.7 1.7zM849.0 292.7l1.7 -1.7 1.7 1.7 -1.7 1.7zM849.2 295.7l1.7 -1.7 1.7 1.7 -1.7 1.7zM849.5 299.0l1.7 -1.7 1.7 1.7 -1.7 1.7zM849.7 301.7l1.7 -1.7 1.7 1.7 -1.7 1.7zM850.0 303.3l1.7 -1.7 1.7 1.7 -1.7 1.7zM850.3 304.1l1.7 -1.7 1.7 1.7 -1.7 1.7zM850.5 307.1l1.7 -1.7 1.7 1.7 -1.7 1.7zM850.8 308.5l1.7 -1.7 1.7 1.7 -1.7 1.7zM851.0 308.2l1.7 -1.7 1.7 1.7 -1.7 1.7zM851.3 308.9l1.7 -1.7 1.7 1.7 -1.7 1.7zM851.6 308.8l1.7 -1.7 1.7 1.7 -1.7 1.7zM851.8 310.7l1.7 -1.7 1.7 1.7 -1.7 1.7zM852.1 310.2l1.7 -1.7 1.7 1.7 -1.7 1.7zM852.4 312.0l1.7 -1.7 1.7 1.7 -1.7 1.7zM852.6 310.2l1.7 -1.7 1.7 1.7 -1.7 1.7zM852.9 311.7l1.7 -1.7 1.7 1.7 -1.7 1.7zM853.1 312.1l1.7 -1.7 1.7 1.7 -1.7 1.7zM853.4 311.7l1.7 -1.7 1.7 1.7 -1.7 1.7zM853.7 311.6l1.7 -1.7 1.7 1.7 -1.7 1.7zM853.9 312.2l1.7 -1.7 1.7 1.7 -1.7 1.7zM854.2 311.8l1.7 -1.7 1.7 1.7 -1.7 1.7zM854.4 311.9l1.7 -1.7 1.7 1.7 -1.7 1.7zM854.7 311.9l1.7 -1.7 1.7 1.7 -1.7 1.7zM855.0 311.5l1.7 -1.7 1.7 1.7 -1.7 1.7zM855.2 311.5l1.7 -1.7 1.7 1.7 -1.7 1.7zM855.5 311.8l1.7 -1.7 1.7 1.7 -1.7 1.7zM855.8 310.9l1.7 -1.7 1.7 1.7 -1.7 1.7zM856.0 311.0l1.7 -1.7 1.7 1.7 -1.7 1.7zM856.3 310.2l1.7 -1.7 1.7 1.7 -1.7 1.7zM856.5 310.9l1.7 -1.7 1.7 1.7 -1.7 1.7zM856.8 309.7l1.7 -1.7 1.7 1.7 -1.7 1.7zM857.1 310.9l1.7 -1.7 1.7 1.7 -1.7 1.7zM857.3 309.1l1.7 -1.7 1.7 1.7 -1.7 1.7zM857.6 310.4l1.7 -1.7 1.7 1.7 -1.7 1.7zM857.8 310.4l1.7 -1.7 1.7 1.7 -1.7 1.7zM858.1 312.1l1.7 -1.7 1.7 1.7 -1.7 1.7zM858.4 312.1l1.7 -1.7 1.7 1.7 -1.7 1.7zM858.6 311.7l1.7 -1.7 1.7 1.7 -1.7 1.7zM858.9 312.3l1.7 -1.7 1.7 1.7 -1.7 1.7zM859.2 313.6l1.7 -1.7 1.7 1.7 -1.7 1.7zM859.4 313.1l1.7 -1.7 1.7 1.7 -1.7 1.7zM859.7 313.6l1.7 -1.7 1.7 1.7 -1.7 1.7zM859.9 312.8l1.7 -1.7 1.7 1.7 -1.7 1.7zM860.2 312.9l1.7 -1.7 1.7 1.7 -1.7 1.7zM860.5 314.1l1.7 -1.7 1.7 1.7 -1.7 1.7zM860.7 315.1l1.7 -1.7 1.7 1.7 -1.7 1.7zM861.0 313.8l1.7 -1.7 1.7 1.7 -1.7 1.7zM861.2 314.4l1.7 -1.7 1.7 1.7 -1.7 1.7zM861.5 313.8l1.7 -1.7 1.7 1.7 -1.7 1.7zM861.8 314.9l1.7 -1.7 1.7 1.7 -1.7 1.7zM862.0 314.1l1.7 -1.7 1.7 1.7 -1.7 1.7zM862.3 314.2l1.7 -1.7 1.7 1.7 -1.7 1.7zM862.6 313.5l1.7 -1.7 1.7 1.7 -1.7 1.7zM862.8 314.3l1.7 -1.7 1.7 1.7 -1.7 1.7zM863.1 314.6l1.7 -1.7 1.7 1.7 -1.7 1.7zM863.3 315.3l1.7 -1.7 1.7 1.7 -1.7 1.7zM863.6 314.0l1.7 -1.7 1.7 1.7 -1.7 1.7zM863.9 315.1l1.7 -1.7 1.7 1.7 -1.7 1.7zM864.1 314.5l1.7 -1.7 1.7 1.7 -1.7 1.7zM864.4 314.6l1.7 -1.7 1.7 1.7 -1.7 1.7zM864.6 314.2l1.7 -1.7 1.7 1.7 -1.7 1.7zM864.9 313.9l1.7 -1.7 1.7 1.7 -1.7 1.7zM865.2 314.2l1.7 -1.7 1.7 1.7 -1.7 1.7zM865.4 315.6l1.7 -1.7 1.7 1.7 -1.7 1.7zM865.7 314.2l1.7 -1.7 1.7 1.7 -1.7 1.7zM866.0 314.6l1.7 -1.7 1.7 1.7 -1.7 1.7zM866.2 315.4l1.7 -1.7 1.7 1.7 -1.7 1.7zM866.5 313.8l1.7 -1.7 1.7 1.7 -1.7 1.7zM866.7 315.1l1.7 -1.7 1.7 1.7 -1.7 1.7zM867.0 314.6l1.7 -1.7 1.7 1.7 -1.7 1.7zM867.3 315.0l1.7 -1.7 1.7 1.7 -1.7 1.7zM867.5 315.3l1.7 -1.7 1.7 1.7 -1.7 1.7zM867.8 314.8l1.7 -1.7 1.7 1.7 -1.7 1.7zM868.0 314.8l1.7 -1.7 1.7 1.7 -1.7 1.7zM868.3 315.3l1.7 -1.7 1.7 1.7 -1.7 1.7zM868.6 315.2l1.7 -1.7 1.7 1.7 -1.7 1.7zM868.8 314.5l1.7 -1.7 1.7 1.7 -1.7 1.7zM869.1 314.8l1.7 -1.7 1.7 1.7 -1.7 1.7zM869.4 314.2l1.7 -1.7 1.7 1.7 -1.7 1.7zM869.6 315.6l1.7 -1.7 1.7 1.7 -1.7 1.7zM869.9 314.3l1.7 -1.7 1.7 1.7 -1.7 1.7zM870.1 315.0l1.7 -1.7 1.7 1.7 -1.7 1.7zM870.4 315.8l1.7 -1.7 1.7 1.7 -1.7 1.7zM870.7 315.3l1.7 -1.7 1.7 1.7 -1.7 1.7zM870.9 314.8l1.7 -1.7 1.7 1.7 -1.7 1.7zM871.2 314.6l1.7 -1.7 1.7 1.7 -1.7 1.7zM871.4 314.6l1.7 -1.7 1.7 1.7 -1.7 1.7zM871.7 315.4l1.7 -1.7 1.7 1.7 -1.7 1.7zM872.0 315.1l1.7 -1.7 1.7 1.7 -1.7 1.7zM872.2 314.9l1.7 -1.7 1.7 1.7 -1.7 1.7zM872.5 316.2l1.7 -1.7 1.7 1.7 -1.7 1.7zM872.8 314.5l1.7 -1.7 1.7 1.7 -1.7 1.7zM873.0 314.7l1.7 -1.7 1.7 1.7 -1.7 1.7zM873.3 314.7l1.7 -1.7 1.7 1.7 -1.7 1.7zM873.5 315.0l1.7 -1.7 1.7 1.7 -1.7 1.7zM873.8 315.0l1.7 -1.7 1.7 1.7 -1.7 1.7zM874.1 314.7l1.7 -1.7 1.7 1.7 -1.7 1.7zM874.3 315.2l1.7 -1.7 1.7 1.7 -1.7 1.7zM874.6 315.1l1.7 -1.7 1.7 1.7 -1.7 1.7zM874.8 314.7l1.7 -1.7 1.7 1.7 -1.7 1.7zM875.1 313.6l1.7 -1.7 1.7 1.7 -1.7 1.7zM875.4 315.2l1.7 -1.7 1.7 1.7 -1.7 1.7zM875.6 314.3l1.7 -1.7 1.7 1.7 -1.7 1.7zM875.9 314.4l1.7 -1.7 1.7 1.7 -1.7 1.7zM876.1 314.7l1.7 -1.7 1.7 1.7 -1.7 1.7zM876.4 314.1l1.7 -1.7 1.7 1.7 -1.7 1.7zM876.7 314.3l1.7 -1.7 1.7 1.7 -1.7 1.7zM876.9 314.7l1.7 -1.7 1.7 1.7 -1.7 1.7zM877.2 314.5l1.7 -1.7 1.7 1.7 -1.7 1.7zM877.5 314.8l1.7 -1.7 1.7 1.7 -1.7 1.7zM877.7 314.1l1.7 -1.7 1.7 1.7 -1.7 1.7zM878.0 314.4l1.7 -1.7 1.7 1.7 -1.7 1.7zM878.2 313.9l1.7 -1.7 1.7 1.7 -1.7 1.7zM878.5 314.3l1.7 -1.7 1.7 1.7 -1.7 1.7zM878.8 314.5l1.7 -1.7 1.7 1.7 -1.7 1.7zM879.0 314.2l1.7 -1.7 1.7 1.7 -1.7 1.7zM879.3 313.5l1.7 -1.7 1.7 1.7 -1.7 1.7zM879.5 314.0l1.7 -1.7 1.7 1.7 -1.7 1.7zM879.8 314.1l1.7 -1.7 1.7 1.7 -1.7 1.7zM880.1 314.5l1.7 -1.7 1.7 1.7 -1.7 1.7zM880.3 313.8l1.7 -1.7 1.7 1.7 -1.7 1.7zM880.6 313.5l1.7 -1.7 1.7 1.7 -1.7 1.7zM880.9 312.9l1.7 -1.7 1.7 1.7 -1.7 1.7zM881.1 314.3l1.7 -1.7 1.7 1.7 -1.7 1.7zM881.4 312.6l1.7 -1.7 1.7 1.7 -1.7 1.7zM881.6 312.3l1.7 -1.7 1.7 1.7 -1.7 1.7zM881.9 312.4l1.7 -1.7 1.7 1.7 -1.7 1.7zM882.2 311.2l1.7 -1.7 1.7 1.7 -1.7 1.7zM882.4 312.3l1.7 -1.7 1.7 1.7 -1.7 1.7zM882.7 311.3l1.7 -1.7 1.7 1.7 -1.7 1.7zM882.9 310.8l1.7 -1.7 1.7 1.7 -1.7 1.7zM883.2 309.3l1.7 -1.7 1.7 1.7 -1.7 1.7zM883.5 308.6l1.7 -1.7 1.7 1.7 -1.7 1.7zM883.7 308.2l1.7 -1.7 1.7 1.7 -1.7 1.7zM884.0 306.9l1.7 -1.7 1.7 1.7 -1.7 1.7zM884.3 306.3l1.7 -1.7 1.7 1.7 -1.7 1.7zM884.5 303.8l1.7 -1.7 1.7 1.7 -1.7 1.7zM884.8 300.7l1.7 -1.7 1.7 1.7 -1.7 1.7zM885.0 300.5l1.7 -1.7 1.7 1.7 -1.7 1.7zM885.3 299.6l1.7 -1.7 1.7 1.7 -1.7 1.7zM885.6 300.5l1.7 -1.7 1.7 1.7 -1.7 1.7zM885.8 300.9l1.7 -1.7 1.7 1.7 -1.7 1.7zM886.1 302.5l1.7 -1.7 1.7 1.7 -1.7 1.7zM886.3 303.7l1.7 -1.7 1.7 1.7 -1.7 1.7zM886.6 305.6l1.7 -1.7 1.7 1.7 -1.7 1.7zM886.9 307.4l1.7 -1.7 1.7 1.7 -1.7 1.7zM887.1 307.4l1.7 -1.7 1.7 1.7 -1.7 1.7zM887.4 307.6l1.7 -1.7 1.7 1.7 -1.7 1.7zM887.7 308.8l1.7 -1.7 1.7 1.7 -1.7 1.7zM887.9 310.6l1.7 -1.7 1.7 1.7 -1.7 1.7zM888.2 310.3l1.7 -1.7 1.7 1.7 -1.7 1.7zM888.4 310.3l1.7 -1.7 1.7 1.7 -1.7 1.7zM888.7 310.1l1.7 -1.7 1.7 1.7 -1.7 1.7zM889.0 311.2l1.7 -1.7 1.7 1.7 -1.7 1.7zM889.2 310.7l1.7 -1.7 1.7 1.7 -1.7 1.7zM889.5 310.3l1.7 -1.7 1.7 1.7 -1.7 1.7zM889.7 309.8l1.7 -1.7 1.7 1.7 -1.7 1.7zM890.0 309.5l1.7 -1.7 1.7 1.7 -1.7 1.7zM890.3 308.8l1.7 -1.7 1.7 1.7 -1.7 1.7zM890.5 308.5l1.7 -1.7 1.7 1.7 -1.7 1.7zM890.8 307.9l1.7 -1.7 1.7 1.7 -1.7 1.7zM891.1 305.1l1.7 -1.7 1.7 1.7 -1.7 1.7zM891.3 304.0l1.7 -1.7 1.7 1.7 -1.7 1.7zM891.6 303.4l1.7 -1.7 1.7 1.7 -1.7 1.7zM891.8 302.4l1.7 -1.7 1.7 1.7 -1.7 1.7zM892.1 301.0l1.7 -1.7 1.7 1.7 -1.7 1.7zM892.4 301.6l1.7 -1.7 1.7 1.7 -1.7 1.7zM892.6 302.5l1.7 -1.7 1.7 1.7 -1.7 1.7zM892.9 303.7l1.7 -1.7 1.7 1.7 -1.7 1.7zM893.1 305.1l1.7 -1.7 1.7 1.7 -1.7 1.7zM893.4 306.7l1.7 -1.7 1.7 1.7 -1.7 1.7zM893.7 308.4l1.7 -1.7 1.7 1.7 -1.7 1.7zM893.9 309.5l1.7 -1.7 1.7 1.7 -1.7 1.7zM894.2 310.3l1.7 -1.7 1.7 1.7 -1.7 1.7zM894.5 310.9l1.7 -1.7 1.7 1.7 -1.7 1.7zM894.7 311.1l1.7 -1.7 1.7 1.7 -1.7 1.7zM895.0 311.7l1.7 -1.7 1.7 1.7 -1.7 1.7zM895.2 312.7l1.7 -1.7 1.7 1.7 -1.7 1.7zM895.5 312.8l1.7 -1.7 1.7 1.7 -1.7 1.7zM895.8 313.5l1.7 -1.7 1.7 1.7 -1.7 1.7zM896.0 313.5l1.7 -1.7 1.7 1.7 -1.7 1.7zM896.3 313.6l1.7 -1.7 1.7 1.7 -1.7 1.7zM896.5 314.0l1.7 -1.7 1.7 1.7 -1.7 1.7zM896.8 313.1l1.7 -1.7 1.7 1.7 -1.7 1.7zM897.1 314.0l1.7 -1.7 1.7 1.7 -1.7 1.7zM897.3 313.9l1.7 -1.7 1.7 1.7 -1.7 1.7zM897.6 314.7l1.7 -1.7 1.7 1.7 -1.7 1.7zM897.9 314.0l1.7 -1.7 1.7 1.7 -1.7 1.7zM898.1 314.6l1.7 -1.7 1.7 1.7 -1.7 1.7zM898.4 314.3l1.7 -1.7 1.7 1.7 -1.7 1.7zM898.6 314.8l1.7 -1.7 1.7 1.7 -1.7 1.7zM898.9 315.0l1.7 -1.7 1.7 1.7 -1.7 1.7zM899.2 314.6l1.7 -1.7 1.7 1.7 -1.7 1.7zM899.4 314.8l1.7 -1.7 1.7 1.7 -1.7 1.7zM899.7 314.9l1.7 -1.7 1.7 1.7 -1.7 1.7zM899.9 315.2l1.7 -1.7 1.7 1.7 -1.7 1.7zM900.2 314.7l1.7 -1.7 1.7 1.7 -1.7 1.7zM900.5 314.9l1.7 -1.7 1.7 1.7 -1.7 1.7zM900.7 314.7l1.7 -1.7 1.7 1.7 -1.7 1.7zM901.0 314.5l1.7 -1.7 1.7 1.7 -1.7 1.7zM901.3 315.1l1.7 -1.7 1.7 1.7 -1.7 1.7zM901.5 315.2l1.7 -1.7 1.7 1.7 -1.7 1.7zM901.8 314.7l1.7 -1.7 1.7 1.7 -1.7 1.7zM902.0 315.9l1.7 -1.7 1.7 1.7 -1.7 1.7zM902.3 314.7l1.7 -1.7 1.7 1.7 -1.7 1.7zM902.6 315.5l1.7 -1.7 1.7 1.7 -1.7 1.7zM902.8 315.3l1.7 -1.7 1.7 1.7 -1.7 1.7zM903.1 314.3l1.7 -1.7 1.7 1.7 -1.7 1.7zM903.3 315.1l1.7 -1.7 1.7 1.7 -1.7 1.7zM903.6 314.4l1.7 -1.7 1.7 1.7 -1.7 1.7zM903.9 315.1l1.7 -1.7 1.7 1.7 -1.7 1.7zM904.1 315.5l1.7 -1.7 1.7 1.7 -1.7 1.7zM904.4 316.1l1.7 -1.7 1.7 1.7 -1.7 1.7zM904.7 315.6l1.7 -1.7 1.7 1.7 -1.7 1.7zM904.9 314.4l1.7 -1.7 1.7 1.7 -1.7 1.7zM905.2 315.0l1.7 -1.7 1.7 1.7 -1.7 1.7zM905.4 316.0l1.7 -1.7 1.7 1.7 -1.7 1.7zM905.7 315.3l1.7 -1.7 1.7 1.7 -1.7 1.7zM906.0 316.1l1.7 -1.7 1.7 1.7 -1.7 1.7zM906.2 314.9l1.7 -1.7 1.7 1.7 -1.7 1.7zM906.5 315.0l1.7 -1.7 1.7 1.7 -1.7 1.7zM906.7 314.6l1.7 -1.7 1.7 1.7 -1.7 1.7zM907.0 315.0l1.7 -1.7 1.7 1.7 -1.7 1.7zM907.3 315.9l1.7 -1.7 1.7 1.7 -1.7 1.7zM907.5 314.8l1.7 -1.7 1.7 1.7 -1.7 1.7zM907.8 315.6l1.7 -1.7 1.7 1.7 -1.7 1.7zM908.1 315.4l1.7 -1.7 1.7 1.7 -1.7 1.7zM908.3 315.6l1.7 -1.7 1.7 1.7 -1.7 1.7zM908.6 315.1l1.7 -1.7 1.7 1.7 -1.7 1.7zM908.8 315.2l1.7 -1.7 1.7 1.7 -1.7 1.7zM909.1 316.3l1.7 -1.7 1.7 1.7 -1.7 1.7zM909.4 314.6l1.7 -1.7 1.7 1.7 -1.7 1.7zM909.6 315.5l1.7 -1.7 1.7 1.7 -1.7 1.7zM909.9 315.9l1.7 -1.7 1.7 1.7 -1.7 1.7zM910.1 315.4l1.7 -1.7 1.7 1.7 -1.7 1.7zM910.4 315.9l1.7 -1.7 1.7 1.7 -1.7 1.7zM910.7 313.6l1.7 -1.7 1.7 1.7 -1.7 1.7zM910.9 314.9l1.7 -1.7 1.7 1.7 -1.7 1.7zM911.2 314.5l1.7 -1.7 1.7 1.7 -1.7 1.7zM911.5 314.8l1.7 -1.7 1.7 1.7 -1.7 1.7zM911.7 314.9l1.7 -1.7 1.7 1.7 -1.7 1.7zM912.0 315.2l1.7 -1.7 1.7 1.7 -1.7 1.7zM912.2 314.5l1.7 -1.7 1.7 1.7 -1.7 1.7zM912.5 315.3l1.7 -1.7 1.7 1.7 -1.7 1.7zM912.8 314.0l1.7 -1.7 1.7 1.7 -1.7 1.7zM913.0 315.2l1.7 -1.7 1.7 1.7 -1.7 1.7zM913.3 314.6l1.7 -1.7 1.7 1.7 -1.7 1.7zM913.5 313.7l1.7 -1.7 1.7 1.7 -1.7 1.7zM913.8 313.7l1.7 -1.7 1.7 1.7 -1.7 1.7zM914.1 313.6l1.7 -1.7 1.7 1.7 -1.7 1.7zM914.3 313.9l1.7 -1.7 1.7 1.7 -1.7 1.7zM914.6 314.3l1.7 -1.7 1.7 1.7 -1.7 1.7zM914.9 314.8l1.7 -1.7 1.7 1.7 -1.7 1.7zM915.1 314.3l1.7 -1.7 1.7 1.7 -1.7 1.7zM915.4 313.1l1.7 -1.7 1.7 1.7 -1.7 1.7zM915.6 312.4l1.7 -1.7 1.7 1.7 -1.7 1.7zM915.9 313.1l1.7 -1.7 1.7 1.7 -1.7 1.7zM916.2 312.3l1.7 -1.7 1.7 1.7 -1.7 1.7zM916.4 312.5l1.7 -1.7 1.7 1.7 -1.7 1.7zM916.7 311.8l1.7 -1.7 1.7 1.7 -1.7 1.7zM916.9 312.9l1.7 -1.7 1.7 1.7 -1.7 1.7zM917.2 310.1l1.7 -1.7 1.7 1.7 -1.7 1.7zM917.5 310.3l1.7 -1.7 1.7 1.7 -1.7 1.7zM917.7 310.0l1.7 -1.7 1.7 1.7 -1.7 1.7zM918.0 307.6l1.7 -1.7 1.7 1.7 -1.7 1.7zM918.3 305.8l1.7 -1.7 1.7 1.7 -1.7 1.7zM918.5 305.0l1.7 -1.7 1.7 1.7 -1.7 1.7zM918.8 300.9l1.7 -1.7 1.7 1.7 -1.7 1.7zM919.0 298.7l1.7 -1.7 1.7 1.7 -1.7 1.7zM919.3 296.9l1.7 -1.7 1.7 1.7 -1.7 1.7zM919.6 296.6l1.7 -1.7 1.7 1.7 -1.7 1.7zM919.8 296.9l1.7 -1.7 1.7 1.7 -1.7 1.7zM920.1 297.8l1.7 -1.7 1.7 1.7 -1.7 1.7zM920.3 301.0l1.7 -1.7 1.7 1.7 -1.7 1.7zM920.6 302.1l1.7 -1.7 1.7 1.7 -1.7 1.7zM920.9 304.3l1.7 -1.7 1.7 1.7 -1.7 1.7zM921.1 305.9l1.7 -1.7 1.7 1.7 -1.7 1.7zM921.4 308.2l1.7 -1.7 1.7 1.7 -1.7 1.7zM921.7 308.7l1.7 -1.7 1.7 1.7 -1.7 1.7zM921.9 309.3l1.7 -1.7 1.7 1.7 -1.7 1.7zM922.2 311.0l1.7 -1.7 1.7 1.7 -1.7 1.7zM922.4 311.3l1.7 -1.7 1.7 1.7 -1.7 1.7zM922.7 311.5l1.7 -1.7 1.7 1.7 -1.7 1.7zM923.0 310.5l1.7 -1.7 1.7 1.7 -1.7 1.7zM923.2 310.7l1.7 -1.7 1.7 1.7 -1.7 1.7zM923.5 311.2l1.7 -1.7 1.7 1.7 -1.7 1.7zM923.7 311.1l1.7 -1.7 1.7 1.7 -1.7 1.7zM924.0 310.8l1.7 -1.7 1.7 1.7 -1.7 1.7zM924.3 310.7l1.7 -1.7 1.7 1.7 -1.7 1.7zM924.5 310.8l1.7 -1.7 1.7 1.7 -1.7 1.7zM924.8 309.7l1.7 -1.7 1.7 1.7 -1.7 1.7zM925.1 310.1l1.7 -1.7 1.7 1.7 -1.7 1.7zM925.3 309.7l1.7 -1.7 1.7 1.7 -1.7 1.7zM925.6 309.7l1.7 -1.7 1.7 1.7 -1.7 1.7zM925.8 310.0l1.7 -1.7 1.7 1.7 -1.7 1.7zM926.1 310.8l1.7 -1.7 1.7 1.7 -1.7 1.7zM926.4 311.0l1.7 -1.7 1.7 1.7 -1.7 1.7zM926.6 311.0l1.7 -1.7 1.7 1.7 -1.7 1.7zM926.9 312.0l1.7 -1.7 1.7 1.7 -1.7 1.7zM927.1 312.4l1.7 -1.7 1.7 1.7 -1.7 1.7zM927.4 312.9l1.7 -1.7 1.7 1.7 -1.7 1.7zM927.7 313.0l1.7 -1.7 1.7 1.7 -1.7 1.7zM927.9 313.9l1.7 -1.7 1.7 1.7 -1.7 1.7zM928.2 313.9l1.7 -1.7 1.7 1.7 -1.7 1.7zM928.5 313.4l1.7 -1.7 1.7 1.7 -1.7 1.7zM928.7 313.5l1.7 -1.7 1.7 1.7 -1.7 1.7zM929.0 313.6l1.7 -1.7 1.7 1.7 -1.7 1.7zM929.2 314.7l1.7 -1.7 1.7 1.7 -1.7 1.7zM929.5 314.3l1.7 -1.7 1.7 1.7 -1.7 1.7zM929.8 314.6l1.7 -1.7 1.7 1.7 -1.7 1.7zM930.0 314.8l1.7 -1.7 1.7 1.7 -1.7 1.7zM930.3 315.6l1.7 -1.7 1.7 1.7 -1.7 1.7zM930.5 316.2l1.7 -1.7 1.7 1.7 -1.7 1.7zM930.8 315.1l1.7 -1.7 1.7 1.7 -1.7 1.7zM931.1 316.2l1.7 -1.7 1.7 1.7 -1.7 1.7zM931.3 315.5l1.7 -1.7 1.7 1.7 -1.7 1.7zM931.6 315.9l1.7 -1.7 1.7 1.7 -1.7 1.7zM931.9 315.2l1.7 -1.7 1.7 1.7 -1.7 1.7zM932.1 314.8l1.7 -1.7 1.7 1.7 -1.7 1.7zM932.4 315.7l1.7 -1.7 1.7 1.7 -1.7 1.7zM932.6 316.1l1.7 -1.7 1.7 1.7 -1.7 1.7zM932.9 314.7l1.7 -1.7 1.7 1.7 -1.7 1.7zM933.2 315.5l1.7 -1.7 1.7 1.7 -1.7 1.7zM933.4 315.7l1.7 -1.7 1.7 1.7 -1.7 1.7zM933.7 315.9l1.7 -1.7 1.7 1.7 -1.7 1.7zM933.9 315.1l1.7 -1.7 1.7 1.7 -1.7 1.7zM934.2 315.4l1.7 -1.7 1.7 1.7 -1.7 1.7zM934.5 316.2l1.7 -1.7 1.7 1.7 -1.7 1.7zM934.7 316.6l1.7 -1.7 1.7 1.7 -1.7 1.7zM935.0 315.8l1.7 -1.7 1.7 1.7 -1.7 1.7zM935.3 316.3l1.7 -1.7 1.7 1.7 -1.7 1.7zM935.5 315.9l1.7 -1.7 1.7 1.7 -1.7 1.7zM935.8 316.0l1.7 -1.7 1.7 1.7 -1.7 1.7zM936.0 315.6l1.7 -1.7 1.7 1.7 -1.7 1.7zM936.3 315.7l1.7 -1.7 1.7 1.7 -1.7 1.7zM936.6 315.6l1.7 -1.7 1.7 1.7 -1.7 1.7zM936.8 315.9l1.7 -1.7 1.7 1.7 -1.7 1.7zM937.1 316.4l1.7 -1.7 1.7 1.7 -1.7 1.7zM937.3 316.0l1.7 -1.7 1.7 1.7 -1.7 1.7zM937.6 316.2l1.7 -1.7 1.7 1.7 -1.7 1.7zM937.9 315.6l1.7 -1.7 1.7 1.7 -1.7 1.7zM938.1 316.3l1.7 -1.7 1.7 1.7 -1.7 1.7zM938.4 314.3l1.7 -1.7 1.7 1.7 -1.7 1.7zM938.7 315.2l1.7 -1.7 1.7 1.7 -1.7 1.7zM938.9 315.8l1.7 -1.7 1.7 1.7 -1.7 1.7zM939.2 315.0l1.7 -1.7 1.7 1.7 -1.7 1.7zM939.4 316.3l1.7 -1.7 1.7 1.7 -1.7 1.7zM939.7 316.1l1.7 -1.7 1.7 1.7 -1.7 1.7zM940.0 315.5l1.7 -1.7 1.7 1.7 -1.7 1.7zM940.2 316.0l1.7 -1.7 1.7 1.7 -1.7 1.7zM940.5 315.2l1.7 -1.7 1.7 1.7 -1.7 1.7zM940.7 315.6l1.7 -1.7 1.7 1.7 -1.7 1.7zM941.0 315.8l1.7 -1.7 1.7 1.7 -1.7 1.7zM941.3 315.2l1.7 -1.7 1.7 1.7 -1.7 1.7zM941.5 316.6l1.7 -1.7 1.7 1.7 -1.7 1.7zM941.8 315.7l1.7 -1.7 1.7 1.7 -1.7 1.7zM942.0 316.5l1.7 -1.7 1.7 1.7 -1.7 1.7zM942.3 316.0l1.7 -1.7 1.7 1.7 -1.7 1.7zM942.6 316.2l1.7 -1.7 1.7 1.7 -1.7 1.7zM942.8 315.6l1.7 -1.7 1.7 1.7 -1.7 1.7zM943.1 315.9l1.7 -1.7 1.7 1.7 -1.7 1.7zM943.4 315.8l1.7 -1.7 1.7 1.7 -1.7 1.7zM943.6 316.2l1.7 -1.7 1.7 1.7 -1.7 1.7zM943.9 316.8l1.7 -1.7 1.7 1.7 -1.7 1.7zM944.1 315.8l1.7 -1.7 1.7 1.7 -1.7 1.7zM944.4 316.0l1.7 -1.7 1.7 1.7 -1.7 1.7zM944.7 316.2l1.7 -1.7 1.7 1.7 -1.7 1.7zM944.9 316.5l1.7 -1.7 1.7 1.7 -1.7 1.7zM945.2 316.0l1.7 -1.7 1.7 1.7 -1.7 1.7zM945.4 315.9l1.7 -1.7 1.7 1.7 -1.7 1.7zM945.7 315.8l1.7 -1.7 1.7 1.7 -1.7 1.7zM946.0 316.1l1.7 -1.7 1.7 1.7 -1.7 1.7zM946.2 316.2l1.7 -1.7 1.7 1.7 -1.7 1.7zM946.5 315.7l1.7 -1.7 1.7 1.7 -1.7 1.7zM946.8 315.9l1.7 -1.7 1.7 1.7 -1.7 1.7zM947.0 316.4l1.7 -1.7 1.7 1.7 -1.7 1.7zM947.3 316.0l1.7 -1.7 1.7 1.7 -1.7 1.7zM947.5 315.8l1.7 -1.7 1.7 1.7 -1.7 1.7zM947.8 316.4l1.7 -1.7 1.7 1.7 -1.7 1.7zM948.1 316.4l1.7 -1.7 1.7 1.7 -1.7 1.7zM948.3 316.3l1.7 -1.7 1.7 1.7 -1.7 1.7zM948.6 316.4l1.7 -1.7 1.7 1.7 -1.7 1.7zM948.8 315.8l1.7 -1.7 1.7 1.7 -1.7 1.7zM949.1 316.1l1.7 -1.7 1.7 1.7 -1.7 1.7zM949.4 316.2l1.7 -1.7 1.7 1.7 -1.7 1.7zM949.6 316.0l1.7 -1.7 1.7 1.7 -1.7 1.7zM949.9 315.1l1.7 -1.7 1.7 1.7 -1.7 1.7zM950.2 315.9l1.7 -1.7 1.7 1.7 -1.7 1.7zM950.4 316.1l1.7 -1.7 1.7 1.7 -1.7 1.7zM950.7 316.2l1.7 -1.7 1.7 1.7 -1.7 1.7zM950.9 315.7l1.7 -1.7 1.7 1.7 -1.7 1.7zM951.2 315.9l1.7 -1.7 1.7 1.7 -1.7 1.7zM951.5 314.9l1.7 -1.7 1.7 1.7 -1.7 1.7zM951.7 315.1l1.7 -1.7 1.7 1.7 -1.7 1.7zM952.0 314.3l1.7 -1.7 1.7 1.7 -1.7 1.7zM952.2 315.6l1.7 -1.7 1.7 1.7 -1.7 1.7zM952.5 316.5l1.7 -1.7 1.7 1.7 -1.7 1.7zM952.8 316.5l1.7 -1.7 1.7 1.7 -1.7 1.7zM953.0 315.1l1.7 -1.7 1.7 1.7 -1.7 1.7zM953.3 315.9l1.7 -1.7 1.7 1.7 -1.7 1.7zM953.6 316.1l1.7 -1.7 1.7 1.7 -1.7 1.7zM953.8 315.3l1.7 -1.7 1.7 1.7 -1.7 1.7zM954.1 314.4l1.7 -1.7 1.7 1.7 -1.7 1.7zM954.3 316.0l1.7 -1.7 1.7 1.7 -1.7 1.7zM954.6 315.0l1.7 -1.7 1.7 1.7 -1.7 1.7zM954.9 314.9l1.7 -1.7 1.7 1.7 -1.7 1.7zM955.1 315.9l1.7 -1.7 1.7 1.7 -1.7 1.7zM955.4 315.1l1.7 -1.7 1.7 1.7 -1.7 1.7zM955.6 315.2l1.7 -1.7 1.7 1.7 -1.7 1.7zM955.9 315.4l1.7 -1.7 1.7 1.7 -1.7 1.7zM956.2 314.4l1.7 -1.7 1.7 1.7 -1.7 1.7zM956.4 313.7l1.7 -1.7 1.7 1.7 -1.7 1.7zM956.7 314.4l1.7 -1.7 1.7 1.7 -1.7 1.7zM957.0 313.8l1.7 -1.7 1.7 1.7 -1.7 1.7zM957.2 313.8l1.7 -1.7 1.7 1.7 -1.7 1.7zM957.5 313.3l1.7 -1.7 1.7 1.7 -1.7 1.7zM957.7 312.4l1.7 -1.7 1.7 1.7 -1.7 1.7zM958.0 312.4l1.7 -1.7 1.7 1.7 -1.7 1.7zM958.3 311.7l1.7 -1.7 1.7 1.7 -1.7 1.7zM958.5 311.2l1.7 -1.7 1.7 1.7 -1.7 1.7zM958.8 310.7l1.7 -1.7 1.7 1.7 -1.7 1.7zM959.0 310.3l1.7 -1.7 1.7 1.7 -1.7 1.7zM959.3 309.6l1.7 -1.7 1.7 1.7 -1.7 1.7zM959.6 308.1l1.7 -1.7 1.7 1.7 -1.7 1.7zM959.8 308.4l1.7 -1.7 1.7 1.7 -1.7 1.7zM960.1 306.8l1.7 -1.7 1.7 1.7 -1.7 1.7zM960.4 308.2l1.7 -1.7 1.7 1.7 -1.7 1.7zM960.6 306.4l1.7 -1.7 1.7 1.7 -1.7 1.7zM960.9 306.7l1.7 -1.7 1.7 1.7 -1.7 1.7zM961.1 307.6l1.7 -1.7 1.7 1.7 -1.7 1.7zM961.4 307.2l1.7 -1.7 1.7 1.7 -1.7 1.7zM961.7 307.2l1.7 -1.7 1.7 1.7 -1.7 1.7zM961.9 307.7l1.7 -1.7 1.7 1.7 -1.7 1.7zM962.2 309.3l1.7 -1.7 1.7 1.7 -1.7 1.7zM962.4 310.0l1.7 -1.7 1.7 1.7 -1.7 1.7zM962.7 310.9l1.7 -1.7 1.7 1.7 -1.7 1.7zM963.0 311.3l1.7 -1.7 1.7 1.7 -1.7 1.7zM963.2 311.5l1.7 -1.7 1.7 1.7 -1.7 1.7zM963.5 312.5l1.7 -1.7 1.7 1.7 -1.7 1.7zM963.8 313.4l1.7 -1.7 1.7 1.7 -1.7 1.7zM964.0 312.7l1.7 -1.7 1.7 1.7 -1.7 1.7zM964.3 315.3l1.7 -1.7 1.7 1.7 -1.7 1.7zM964.5 313.6l1.7 -1.7 1.7 1.7 -1.7 1.7zM964.8 314.7l1.7 -1.7 1.7 1.7 -1.7 1.7zM965.1 315.3l1.7 -1.7 1.7 1.7 -1.7 1.7zM965.3 315.0l1.7 -1.7 1.7 1.7 -1.7 1.7zM965.6 314.9l1.7 -1.7 1.7 1.7 -1.7 1.7zM965.8 315.3l1.7 -1.7 1.7 1.7 -1.7 1.7zM966.1 315.8l1.7 -1.7 1.7 1.7 -1.7 1.7zM966.4 313.9l1.7 -1.7 1.7 1.7 -1.7 1.7zM966.6 315.6l1.7 -1.7 1.7 1.7 -1.7 1.7zM966.9 315.3l1.7 -1.7 1.7 1.7 -1.7 1.7zM967.2 315.2l1.7 -1.7 1.7 1.7 -1.7 1.7zM967.4 315.7l1.7 -1.7 1.7 1.7 -1.7 1.7zM967.7 315.8l1.7 -1.7 1.7 1.7 -1.7 1.7zM967.9 316.1l1.7 -1.7 1.7 1.7 -1.7 1.7zM968.2 315.6l1.7 -1.7 1.7 1.7 -1.7 1.7zM968.5 316.5l1.7 -1.7 1.7 1.7 -1.7 1.7zM968.7 315.0l1.7 -1.7 1.7 1.7 -1.7 1.7zM969.0 315.6l1.7 -1.7 1.7 1.7 -1.7 1.7zM969.2 315.5l1.7 -1.7 1.7 1.7 -1.7 1.7zM969.5 316.2l1.7 -1.7 1.7 1.7 -1.7 1.7zM969.8 316.0l1.7 -1.7 1.7 1.7 -1.7 1.7zM970.0 316.5l1.7 -1.7 1.7 1.7 -1.7 1.7zM970.3 315.9l1.7 -1.7 1.7 1.7 -1.7 1.7zM970.6 317.0l1.7 -1.7 1.7 1.7 -1.7 1.7zM970.8 316.7l1.7 -1.7 1.7 1.7 -1.7 1.7zM971.1 316.1l1.7 -1.7 1.7 1.7 -1.7 1.7zM971.3 315.6l1.7 -1.7 1.7 1.7 -1.7 1.7zM971.6 315.9l1.7 -1.7 1.7 1.7 -1.7 1.7z" fill="none" stroke="#000" stroke-width="1.0"/>
<path d="M581.3 301.1L581.6 301.0L581.8 301.0L582.1 301.0L582.3 301.0L582.6 301.0L582.9 301.0L583.1 300.9L583.4 300.9L583.7 300.9L583.9 300.9L584.2 300.9L584.4 300.9L584.7 300.9L585.0 300.8L585.2 300.8L585.5 300.8L585.7 300.8L586.0 300.8L586.3 300.8L586.5 300.7L586.8 300.7L587.1 300.7L587.3 300.7L587.6 300.7L587.8 300.6L588.1 300.6L588.4 300.6L588.6 300.6L588.9 300.6L589.1 300.5L589.4 300.5L589.7 300.5L589.9 300.5L590.2 300.5L590.5 300.4L590.7 300.4L591.0 300.4L591.2 300.4L591.5 300.3L591.8 300.3L592.0 300.3L592.3 300.3L592.5 300.2L592.8 300.2L593.1 300.2L593.3 300.1L593.6 300.1L593.9 300.1L594.1 300.0L594.4 300.0L594.6 300.0L594.9 299.9L595.2 299.9L595.4 299.9L595.7 299.8L595.9 299.8L596.2 299.7L596.5 299.7L596.7 299.6L597.0 299.6L597.3 299.5L597.5 299.5L597.8 299.4L598.0 299.4L598.3 299.3L598.6 299.2L598.8 299.1L599.1 299.1L599.3 299.0L599.6 298.9L599.9 298.8L600.1 298.7L600.4 298.6L600.7 298.5L600.9 298.3L601.2 298.2L601.4 298.1L601.7 298.0L602.0 297.9L602.2 297.7L602.5 297.5L602.7 297.3L603.0 297.1L603.3 296.8L603.5 296.5L603.8 296.2L604.1 295.8L604.3 295.3L604.6 294.7L604.8 294.1L605.1 293.3L605.4 292.4L605.6 291.4L605.9 290.0L606.1 288.4L606.4 286.4L606.7 283.9L606.9 280.6L607.2 276.3L607.5 270.6L607.7 262.9L608.0 252.1L608.2 236.6L608.5 214.3L608.8 182.5L609.0 141.0L609.3 99.4L609.5 82.4L609.8 104.6L610.1 147.4L610.3 187.9L610.6 218.2L610.9 239.5L611.1 254.2L611.4 264.5L611.6 271.9L611.9 277.4L612.2 281.6L612.4 284.8L612.7 287.3L612.9 289.3L613.2 290.9L613.5 292.2L613.7 293.3L614.0 294.2L614.2 295.0L614.5 295.6L614.8 296.2L615.0 296.7L615.3 297.1L615.6 297.4L615.8 297.7L616.1 298.0L616.3 298.2L616.6 298.4L616.9 298.6L617.1 298.7L617.4 298.9L617.6 298.9L617.9 299.0L618.2 299.0L618.4 299.0L618.7 299.0L619.0 298.9L619.2 298.9L619.5 298.7L619.7 298.5L620.0 298.3L620.3 298.0L620.5 297.6L620.8 297.1L621.0 296.4L621.3 295.6L621.6 294.6L621.8 293.2L622.1 291.4L622.4 289.1L622.6 286.1L622.9 282.2L623.1 277.3L623.4 271.4L623.7 265.4L623.9 261.0L624.2 259.9L624.4 262.9L624.7 268.4L625.0 274.7L625.2 280.3L625.5 284.9L625.8 288.5L626.0 291.3L626.3 293.4L626.5 295.1L626.8 296.4L627.1 297.5L627.3 298.4L627.6 299.1L627.8 299.7L628.1 300.2L628.4 300.7L628.6 301.0L628.9 301.4L629.2 301.6L629.4 301.9L629.7 302.1L629.9 302.3L630.2 302.5L630.5 302.7L630.7 302.8L631.0 303.0L631.2 303.1L631.5 303.2L631.8 303.4L632.0 303.5L632.3 303.6L632.6 303.7L632.8 303.8L633.1 303.9L633.3 303.9L633.6 304.0L633.9 304.1L634.1 304.2L634.4 304.3L634.6 304.3L634.9 304.4L635.2 304.5L635.4 304.5L635.7 304.6L636.0 304.7L636.2 304.7L636.5 304.8L636.7 304.8L637.0 304.9L637.3 305.0L637.5 305.0L637.8 305.1L638.0 305.1L638.3 305.2L638.6 305.2L638.8 305.3L639.1 305.3L639.4 305.4L639.6 305.4L639.9 305.5L640.1 305.5L640.4 305.6L640.7 305.6L640.9 305.7L641.2 305.7L641.4 305.8L641.7 305.8L642.0 305.9L642.2 305.9L642.5 305.9L642.8 306.0L643.0 306.0L643.3 306.1L643.5 306.1L643.8 306.2L644.1 306.2L644.3 306.3L644.6 306.3L644.8 306.3L645.1 306.4L645.4 306.4L645.6 306.5L645.9 306.5L646.2 306.5L646.4 306.6L646.7 306.6L646.9 306.7L647.2 306.7L647.5 306.8L647.7 306.8L648.0 306.8L648.2 306.9L648.5 306.9L648.8 307.0L649.0 307.0L649.3 307.0L649.6 307.1L649.8 307.1L650.1 307.2L650.3 307.2L650.6 307.2L650.9 307.3L651.1 307.3L651.4 307.4L651.6 307.4L651.9 307.4L652.2 307.5L652.4 307.5L652.7 307.6L653.0 307.6L653.2 307.6L653.5 307.7L653.7 307.7L654.0 307.7L654.3 307.8L654.5 307.8L654.8 307.9L655.0 307.9L655.3 307.9L655.6 308.0L655.8 308.0L656.1 308.1L656.4 308.1L656.6 308.1L656.9 308.2L657.1 308.2L657.4 308.2L657.7 308.3L657.9 308.3L658.2 308.4L658.4 308.4L658.7 308.4L659.0 308.5L659.2 308.5L659.5 308.5L659.8 308.6L660.0 308.6L660.3 308.6L660.5 308.7L660.8 308.7L661.1 308.8L661.3 308.8L661.6 308.8L661.8 308.9L662.1 308.9L662.4 308.9L662.6 309.0L662.9 309.0L663.2 309.0L663.4 309.1L663.7 309.1L663.9 309.1L664.2 309.2L664.5 309.2L664.7 309.2L665.0 309.3L665.2 309.3L665.5 309.3L665.8 309.4L666.0 309.4L666.3 309.4L666.6 309.5L666.8 309.5L667.1 309.5L667.3 309.6L667.6 309.6L667.9 309.6L668.1 309.7L668.4 309.7L668.6 309.7L668.9 309.8L669.2 309.8L669.4 309.8L669.7 309.8L670.0 309.9L670.2 309.9L670.5 309.9L670.7 310.0L671.0 310.0L671.3 310.0L671.5 310.0L671.8 310.1L672.0 310.1L672.3 310.1L672.6 310.1L672.8 310.1L673.1 310.2L673.4 310.2L673.6 310.2L673.9 310.2L674.1 310.2L674.4 310.2L674.7 310.2L674.9 310.2L675.2 310.2L675.4 310.2L675.7 310.2L676.0 310.1L676.2 310.1L676.5 310.1L676.8 310.0L677.0 310.0L677.3 309.9L677.5 309.8L677.8 309.8L678.1 309.7L678.3 309.5L678.6 309.4L678.8 309.2L679.1 309.0L679.4 308.7L679.6 308.3L679.9 307.9L680.1 307.2L680.4 306.4L680.7 305.2L680.9 303.5L681.2 301.0L681.5 297.3L681.7 292.2L682.0 286.8L682.2 284.1L682.5 286.7L682.8 292.1L683.0 297.0L683.3 300.5L683.5 302.9L683.8 304.4L684.1 305.4L684.3 306.1L684.6 306.5L684.9 306.7L685.1 306.7L685.4 306.6L685.6 306.4L685.9 306.0L686.2 305.4L686.4 304.5L686.7 303.3L686.9 301.6L687.2 299.4L687.5 296.6L687.7 293.5L688.0 291.3L688.3 291.1L688.5 292.9L688.8 295.4L689.0 297.6L689.3 299.2L689.6 300.2L689.8 300.6L690.1 300.6L690.3 300.2L690.6 299.4L690.9 298.3L691.1 296.7L691.4 294.7L691.7 292.1L691.9 289.0L692.2 285.2L692.4 280.8L692.7 276.2L693.0 271.8L693.2 268.5L693.5 267.1L693.7 268.1L694.0 271.2L694.3 275.5L694.5 280.2L694.8 284.7L695.1 288.6L695.3 292.0L695.6 294.7L695.8 296.8L696.1 298.5L696.4 299.8L696.6 300.7L696.9 301.3L697.1 301.4L697.4 301.2L697.7 300.5L697.9 299.2L698.2 297.2L698.5 294.9L698.7 293.1L699.0 292.9L699.2 294.8L699.5 297.7L699.8 300.4L700.0 302.7L700.3 304.3L700.5 305.5L700.8 306.4L701.1 307.0L701.3 307.3L701.6 307.4L701.9 307.4L702.1 307.1L702.4 306.7L702.6 306.1L702.9 305.5L703.2 305.1L703.4 305.2L703.7 305.9L703.9 306.8L704.2 307.8L704.5 308.7L704.7 309.4L705.0 309.9L705.3 310.4L705.5 310.7L705.8 311.0L706.0 311.3L706.3 311.5L706.6 311.6L706.8 311.8L707.1 311.9L707.3 312.0L707.6 312.1L707.9 312.2L708.1 312.3L708.4 312.4L708.7 312.5L708.9 312.5L709.2 312.5L709.4 312.6L709.7 312.6L710.0 312.6L710.2 312.7L710.5 312.7L710.7 312.7L711.0 312.7L711.3 312.7L711.5 312.7L711.8 312.7L712.1 312.7L712.3 312.7L712.6 312.7L712.8 312.6L713.1 312.6L713.4 312.5L713.6 312.3L713.9 312.2L714.1 312.0L714.4 311.7L714.7 311.3L714.9 310.9L715.2 310.5L715.5 310.3L715.7 310.3L716.0 310.6L716.2 311.1L716.5 311.5L716.8 311.9L717.0 312.2L717.3 312.4L717.5 312.6L717.8 312.7L718.1 312.9L718.3 313.0L718.6 313.0L718.9 313.1L719.1 313.1L719.4 313.2L719.6 313.2L719.9 313.3L720.2 313.3L720.4 313.3L720.7 313.4L720.9 313.4L721.2 313.4L721.5 313.4L721.7 313.4L722.0 313.4L722.3 313.5L722.5 313.5L722.8 313.5L723.0 313.5L723.3 313.5L723.6 313.5L723.8 313.5L724.1 313.5L724.3 313.6L724.6 313.6L724.9 313.6L725.1 313.6L725.4 313.6L725.7 313.6L725.9 313.6L726.2 313.6L726.4 313.6L726.7 313.6L727.0 313.6L727.2 313.6L727.5 313.6L727.7 313.6L728.0 313.6L728.3 313.6L728.5 313.6L728.8 313.6L729.1 313.6L729.3 313.6L729.6 313.6L729.8 313.6L730.1 313.5L730.4 313.5L730.6 313.5L730.9 313.5L731.1 313.4L731.4 313.4L731.7 313.3L731.9 313.2L732.2 313.1L732.5 313.0L732.7 312.8L733.0 312.6L733.2 312.4L733.5 312.2L733.8 312.0L734.0 311.9L734.3 311.9L734.5 312.0L734.8 312.2L735.1 312.4L735.3 312.6L735.6 312.8L735.9 313.0L736.1 313.1L736.4 313.3L736.6 313.4L736.9 313.4L737.2 313.5L737.4 313.6L737.7 313.6L737.9 313.6L738.2 313.7L738.5 313.7L738.7 313.7L739.0 313.7L739.3 313.7L739.5 313.8L739.8 313.8L740.0 313.8L740.3 313.8L740.6 313.8L740.8 313.8L741.1 313.8L741.3 313.8L741.6 313.8L741.9 313.8L742.1 313.8L742.4 313.8L742.7 313.8L742.9 313.8L743.2 313.8L743.4 313.8L743.7 313.8L744.0 313.8L744.2 313.8L744.5 313.8L744.7 313.8L745.0 313.8L745.3 313.8L745.5 313.8L745.8 313.7L746.0 313.7L746.3 313.7L746.6 313.7L746.8 313.7L747.1 313.7L747.4 313.6L747.6 313.6L747.9 313.6L748.1 313.6L748.4 313.5L748.7 313.5L748.9 313.5L749.2 313.4L749.4 313.4L749.7 313.3L750.0 313.3L750.2 313.2L750.5 313.2L750.8 313.1L751.0 313.0L751.3 312.9L751.5 312.8L751.8 312.7L752.1 312.6L752.3 312.5L752.6 312.4L752.8 312.2L753.1 312.1L753.4 311.9L753.6 311.7L753.9 311.4L754.2 311.2L754.4 310.8L754.7 310.5L754.9 310.1L755.2 309.6L755.5 309.0L755.7 308.4L756.0 307.6L756.2 306.7L756.5 305.5L756.8 304.2L757.0 302.5L757.3 300.4L757.6 297.8L757.8 294.5L758.1 290.4L758.3 285.4L758.6 279.4L758.9 272.6L759.1 265.9L759.4 260.6L759.6 258.5L759.9 260.3L760.2 265.3L760.4 272.0L760.7 278.8L761.0 284.9L761.2 290.0L761.5 294.2L761.7 297.5L762.0 300.2L762.3 302.4L762.5 304.1L762.8 305.5L763.0 306.6L763.3 307.6L763.6 308.4L763.8 309.1L764.1 309.6L764.4 310.1L764.6 310.6L764.9 310.9L765.1 311.2L765.4 311.5L765.7 311.8L765.9 312.0L766.2 312.2L766.4 312.4L766.7 312.5L767.0 312.7L767.2 312.8L767.5 312.9L767.8 313.0L768.0 313.1L768.3 313.2L768.5 313.3L768.8 313.3L769.1 313.4L769.3 313.5L769.6 313.5L769.8 313.6L770.1 313.6L770.4 313.7L770.6 313.7L770.9 313.8L771.2 313.8L771.4 313.8L771.7 313.9L771.9 313.9L772.2 313.9L772.5 313.9L772.7 314.0L773.0 314.0L773.2 314.0L773.5 314.0L773.8 314.1L774.0 314.1L774.3 314.1L774.6 314.1L774.8 314.1L775.1 314.1L775.3 314.2L775.6 314.2L775.9 314.2L776.1 314.2L776.4 314.2L776.6 314.2L776.9 314.2L777.2 314.2L777.4 314.2L777.7 314.2L778.0 314.2L778.2 314.2L778.5 314.3L778.7 314.3L779.0 314.3L779.3 314.3L779.5 314.3L779.8 314.3L780.0 314.3L780.3 314.3L780.6 314.3L780.8 314.3L781.1 314.3L781.4 314.3L781.6 314.3L781.9 314.3L782.1 314.3L782.4 314.2L782.7 314.2L782.9 314.2L783.2 314.2L783.4 314.2L783.7 314.2L784.0 314.2L784.2 314.2L784.5 314.2L784.8 314.2L785.0 314.1L785.3 314.1L785.5 314.1L785.8 314.1L786.1 314.1L786.3 314.0L786.6 314.0L786.8 314.0L787.1 313.9L787.4 313.9L787.6 313.9L787.9 313.8L788.2 313.8L788.4 313.7L788.7 313.6L788.9 313.6L789.2 313.5L789.5 313.4L789.7 313.3L790.0 313.2L790.2 313.1L790.5 313.0L790.8 312.9L791.0 312.7L791.3 312.5L791.6 312.3L791.8 312.1L792.1 311.9L792.3 311.6L792.6 311.2L792.9 310.8L793.1 310.3L793.4 309.8L793.6 309.1L793.9 308.3L794.2 307.3L794.4 306.1L794.7 304.5L795.0 302.6L795.2 300.3L795.5 297.3L795.7 293.8L796.0 289.6L796.3 285.3L796.5 281.4L796.8 279.1L797.0 279.2L797.3 281.5L797.6 285.3L797.8 289.5L798.1 293.4L798.4 296.8L798.6 299.4L798.9 301.5L799.1 303.2L799.4 304.4L799.7 305.3L799.9 305.9L800.2 306.2L800.4 306.4L800.7 306.3L801.0 306.0L801.2 305.4L801.5 304.6L801.8 303.3L802.0 301.6L802.3 299.2L802.5 296.1L802.8 292.1L803.1 287.3L803.3 282.6L803.6 279.2L803.8 278.7L804.1 281.3L804.4 286.0L804.6 291.0L804.9 295.6L805.2 299.2L805.4 302.1L805.7 304.3L805.9 306.0L806.2 307.3L806.5 308.4L806.7 309.2L807.0 309.9L807.2 310.4L807.5 310.9L807.8 311.2L808.0 311.5L808.3 311.8L808.6 312.0L808.8 312.1L809.1 312.2L809.3 312.3L809.6 312.4L809.9 312.4L810.1 312.4L810.4 312.3L810.6 312.2L810.9 312.1L811.2 311.8L811.4 311.5L811.7 311.1L811.9 310.6L812.2 310.0L812.5 309.2L812.7 308.3L813.0 307.3L813.3 306.6L813.5 306.3L813.8 306.5L814.0 307.2L814.3 308.2L814.6 309.2L814.8 310.1L815.1 310.9L815.3 311.5L815.6 312.0L815.9 312.4L816.1 312.7L816.4 313.0L816.7 313.2L816.9 313.4L817.2 313.6L817.4 313.7L817.7 313.8L818.0 313.9L818.2 314.0L818.5 314.1L818.7 314.1L819.0 314.2L819.3 314.2L819.5 314.3L819.8 314.3L820.1 314.4L820.3 314.4L820.6 314.4L820.8 314.5L821.1 314.5L821.4 314.5L821.6 314.5L821.9 314.5L822.1 314.6L822.4 314.6L822.7 314.6L822.9 314.6L823.2 314.6L823.5 314.6L823.7 314.6L824.0 314.7L824.2 314.7L824.5 314.7L824.8 314.7L825.0 314.7L825.3 314.7L825.5 314.7L825.8 314.7L826.1 314.7L826.3 314.7L826.6 314.7L826.9 314.7L827.1 314.7L827.4 314.8L827.6 314.8L827.9 314.8L828.2 314.8L828.4 314.8L828.7 314.8L828.9 314.8L829.2 314.8L829.5 314.8L829.7 314.8L830.0 314.8L830.3 314.8L830.5 314.8L830.8 314.8L831.0 314.8L831.3 314.8L831.6 314.8L831.8 314.8L832.1 314.8L832.3 314.8L832.6 314.8L832.9 314.8L833.1 314.8L833.4 314.8L833.7 314.7L833.9 314.7L834.2 314.7L834.4 314.7L834.7 314.7L835.0 314.7L835.2 314.7L835.5 314.7L835.7 314.7L836.0 314.7L836.3 314.7L836.5 314.7L836.8 314.6L837.1 314.6L837.3 314.6L837.6 314.6L837.8 314.6L838.1 314.6L838.4 314.5L838.6 314.5L838.9 314.5L839.1 314.5L839.4 314.4L839.7 314.4L839.9 314.4L840.2 314.3L840.5 314.3L840.7 314.2L841.0 314.2L841.2 314.1L841.5 314.1L841.8 314.0L842.0 314.0L842.3 313.9L842.5 313.8L842.8 313.7L843.1 313.6L843.3 313.5L843.6 313.4L843.9 313.2L844.1 313.1L844.4 312.9L844.6 312.7L844.9 312.4L845.2 312.1L845.4 311.8L845.7 311.4L845.9 311.0L846.2 310.5L846.5 309.9L846.7 309.1L847.0 308.3L847.3 307.2L847.5 305.9L847.8 304.3L848.0 302.4L848.3 300.1L848.6 297.4L848.8 294.4L849.1 291.3L849.3 288.5L849.6 286.5L849.9 286.0L850.1 287.1L850.4 289.4L850.7 292.4L850.9 295.5L851.2 298.4L851.4 300.9L851.7 303.0L852.0 304.8L852.2 306.2L852.5 307.4L852.7 308.4L853.0 309.1L853.3 309.8L853.5 310.3L853.8 310.8L854.1 311.1L854.3 311.4L854.6 311.6L854.8 311.8L855.1 311.9L855.4 312.0L855.6 312.1L855.9 312.1L856.1 312.0L856.4 311.9L856.7 311.8L856.9 311.6L857.2 311.4L857.5 311.1L857.7 310.9L858.0 310.6L858.2 310.4L858.5 310.4L858.8 310.4L859.0 310.6L859.3 310.9L859.5 311.2L859.8 311.6L860.1 312.0L860.3 312.3L860.6 312.6L860.9 312.9L861.1 313.2L861.4 313.4L861.6 313.6L861.9 313.7L862.2 313.8L862.4 314.0L862.7 314.1L862.9 314.2L863.2 314.2L863.5 314.3L863.7 314.4L864.0 314.4L864.3 314.5L864.5 314.5L864.8 314.6L865.0 314.6L865.3 314.6L865.6 314.7L865.8 314.7L866.1 314.7L866.3 314.7L866.6 314.8L866.9 314.8L867.1 314.8L867.4 314.8L867.7 314.8L867.9 314.8L868.2 314.9L868.4 314.9L868.7 314.9L869.0 314.9L869.2 314.9L869.5 314.9L869.7 314.9L870.0 314.9L870.3 314.9L870.5 314.9L870.8 314.9L871.1 314.9L871.3 314.9L871.6 314.9L871.8 315.0L872.1 315.0L872.4 315.0L872.6 315.0L872.9 315.0L873.1 315.0L873.4 314.9L873.7 314.9L873.9 314.9L874.2 314.9L874.5 314.9L874.7 314.9L875.0 314.9L875.2 314.9L875.5 314.9L875.8 314.9L876.0 314.9L876.3 314.9L876.5 314.9L876.8 314.8L877.1 314.8L877.3 314.8L877.6 314.8L877.8 314.8L878.1 314.8L878.4 314.7L878.6 314.7L878.9 314.7L879.2 314.6L879.4 314.6L879.7 314.6L879.9 314.5L880.2 314.5L880.5 314.4L880.7 314.3L881.0 314.3L881.2 314.2L881.5 314.1L881.8 314.0L882.0 313.8L882.3 313.7L882.6 313.5L882.8 313.3L883.1 313.1L883.3 312.9L883.6 312.6L883.9 312.2L884.1 311.8L884.4 311.2L884.6 310.6L884.9 309.8L885.2 308.9L885.4 307.8L885.7 306.5L886.0 304.9L886.2 303.3L886.5 301.7L886.7 300.5L887.0 299.8L887.3 300.0L887.5 300.9L887.8 302.3L888.0 303.9L888.3 305.4L888.6 306.7L888.8 307.8L889.1 308.7L889.4 309.3L889.6 309.9L889.9 310.3L890.1 310.5L890.4 310.6L890.7 310.7L890.9 310.6L891.2 310.4L891.4 310.1L891.7 309.6L892.0 309.0L892.2 308.2L892.5 307.3L892.8 306.1L893.0 304.8L893.3 303.5L893.5 302.4L893.8 301.8L894.1 301.9L894.3 302.7L894.6 303.9L894.8 305.3L895.1 306.7L895.4 308.0L895.6 309.1L895.9 310.1L896.2 310.8L896.4 311.5L896.7 312.0L896.9 312.4L897.2 312.8L897.5 313.1L897.7 313.4L898.0 313.6L898.2 313.8L898.5 313.9L898.8 314.1L899.0 314.2L899.3 314.3L899.6 314.4L899.8 314.5L900.1 314.6L900.3 314.6L900.6 314.7L900.9 314.7L901.1 314.8L901.4 314.8L901.6 314.9L901.9 314.9L902.2 315.0L902.4 315.0L902.7 315.0L903.0 315.0L903.2 315.1L903.5 315.1L903.7 315.1L904.0 315.1L904.3 315.1L904.5 315.2L904.8 315.2L905.0 315.2L905.3 315.2L905.6 315.2L905.8 315.2L906.1 315.2L906.4 315.2L906.6 315.2L906.9 315.3L907.1 315.3L907.4 315.3L907.7 315.3L907.9 315.3L908.2 315.3L908.4 315.3L908.7 315.3L909.0 315.3L909.2 315.3L909.5 315.3L909.8 315.3L910.0 315.3L910.3 315.2L910.5 315.2L910.8 315.2L911.1 315.2L911.3 315.2L911.6 315.2L911.8 315.2L912.1 315.2L912.4 315.1L912.6 315.1L912.9 315.1L913.2 315.1L913.4 315.0L913.7 315.0L913.9 315.0L914.2 314.9L914.5 314.9L914.7 314.8L915.0 314.8L915.2 314.7L915.5 314.6L915.8 314.5L916.0 314.4L916.3 314.3L916.6 314.2L916.8 314.0L917.1 313.8L917.3 313.6L917.6 313.3L917.9 313.0L918.1 312.7L918.4 312.2L918.6 311.7L918.9 311.0L919.2 310.2L919.4 309.1L919.7 307.8L920.0 306.2L920.2 304.3L920.5 302.0L920.7 299.6L921.0 297.6L921.3 296.4L921.5 296.6L921.8 297.9L922.0 300.0L922.3 302.3L922.6 304.4L922.8 306.2L923.1 307.6L923.4 308.7L923.6 309.6L923.9 310.2L924.1 310.7L924.4 311.0L924.7 311.2L924.9 311.3L925.2 311.3L925.4 311.2L925.7 311.1L926.0 310.8L926.2 310.6L926.5 310.3L926.8 310.1L927.0 309.9L927.3 310.0L927.5 310.2L927.8 310.5L928.1 310.9L928.3 311.4L928.6 311.9L928.8 312.3L929.1 312.8L929.4 313.1L929.6 313.5L929.9 313.7L930.2 314.0L930.4 314.2L930.7 314.4L930.9 314.5L931.2 314.7L931.5 314.8L931.7 314.9L932.0 315.0L932.2 315.1L932.5 315.1L932.8 315.2L933.0 315.3L933.3 315.3L933.6 315.4L933.8 315.4L934.1 315.5L934.3 315.5L934.6 315.5L934.9 315.6L935.1 315.6L935.4 315.6L935.6 315.7L935.9 315.7L936.2 315.7L936.4 315.7L936.7 315.7L937.0 315.8L937.2 315.8L937.5 315.8L937.7 315.8L938.0 315.8L938.3 315.8L938.5 315.9L938.8 315.9L939.0 315.9L939.3 315.9L939.6 315.9L939.8 315.9L940.1 315.9L940.4 315.9L940.6 316.0L940.9 316.0L941.1 316.0L941.4 316.0L941.7 316.0L941.9 316.0L942.2 316.0L942.4 316.0L942.7 316.0L943.0 316.0L943.2 316.0L943.5 316.0L943.7 316.0L944.0 316.0L944.3 316.0L944.5 316.1L944.8 316.1L945.1 316.1L945.3 316.1L945.6 316.1L945.8 316.1L946.1 316.1L946.4 316.1L946.6 316.1L946.9 316.1L947.1 316.1L947.4 316.1L947.7 316.1L947.9 316.1L948.2 316.1L948.5 316.1L948.7 316.1L949.0 316.1L949.2 316.1L949.5 316.0L949.8 316.0L950.0 316.0L950.3 316.0L950.5 316.0L950.8 316.0L951.1 316.0L951.3 316.0L951.6 316.0L951.9 316.0L952.1 315.9L952.4 315.9L952.6 315.9L952.9 315.9L953.2 315.8L953.4 315.8L953.7 315.8L953.9 315.8L954.2 315.7L954.5 315.7L954.7 315.6L955.0 315.6L955.3 315.5L955.5 315.5L955.8 315.4L956.0 315.3L956.3 315.2L956.6 315.1L956.8 315.0L957.1 314.9L957.3 314.8L957.6 314.6L957.9 314.4L958.1 314.2L958.4 314.0L958.7 313.8L958.9 313.5L959.2 313.1L959.4 312.8L959.7 312.3L960.0 311.9L960.2 311.3L960.5 310.7L960.7 310.1L961.0 309.4L961.3 308.7L961.5 308.1L961.8 307.5L962.1 307.0L962.3 306.8L962.6 306.7L962.8 306.9L963.1 307.3L963.4 307.8L963.6 308.4L963.9 309.1L964.1 309.8L964.4 310.5L964.7 311.1L964.9 311.7L965.2 312.2L965.5 312.7L965.7 313.1L966.0 313.4L966.2 313.8L966.5 314.1L966.8 314.3L967.0 314.5L967.3 314.7L967.5 314.9L967.8 315.1L968.1 315.2L968.3 315.3L968.6 315.4L968.9 315.6L969.1 315.6L969.4 315.7L969.6 315.8L969.9 315.9L970.2 316.0L970.4 316.0L970.7 316.1L970.9 316.1L971.2 316.2L971.5 316.2L971.7 316.3L972.0 316.3L972.3 316.3L972.5 316.4L972.8 316.4L973.0 316.4L973.3 316.5" fill="none" stroke="#f00" stroke-width="1.3" stroke-linejoin="round"/>
<path d="M606.4 100.0l1.7 -1.7 1.7 1.7 -1.7 1.7zM606.4 108.5l1.7 -1.7 1.7 1.7 -1.7 1.7zM606.3 117.0l1.7 -1.7 1.7 1.7 -1.7 1.7zM606.3 125.5l1.7 -1.7 1.7 1.7 -1.7 1.7zM606.2 134.0l1.7 -1.7 1.7 1.7 -1.7 1.7zM606.2 142.5l1.7 -1.7 1.7 1.7 -1.7 1.7zM606.1 151.0l1.7 -1.7 1.7 1.7 -1.7 1.7zM606.1 159.5l1.7 -1.7 1.7 1.7 -1.7 1.7zM606.0 168.0l1.7 -1.7 1.7 1.7 -1.7 1.7zM606.0 176.5l1.7 -1.7 1.7 1.7 -1.7 1.7zM605.9 185.0l1.7 -1.7 1.7 1.7 -1.7 1.7zM605.8 193.5l1.7 -1.7 1.7 1.7 -1.7 1.7zM609.3 197.5l1.7 -1.7 1.7 1.7 -1.7 1.7zM605.8 202.0l1.7 -1.7 1.7 1.7 -1.7 1.7zM609.3 206.0l1.7 -1.7 1.7 1.7 -1.7 1.7zM605.7 210.5l1.7 -1.7 1.7 1.7 -1.7 1.7zM609.4 214.5l1.7 -1.7 1.7 1.7 -1.7 1.7zM605.6 219.0l1.7 -1.7 1.7 1.7 -1.7 1.7zM609.5 223.0l1.7 -1.7 1.7 1.7 -1.7 1.7zM605.5 227.5l1.7 -1.7 1.7 1.7 -1.7 1.7zM609.6 231.5l1.7 -1.7 1.7 1.7 -1.7 1.7zM605.4 236.0l1.7 -1.7 1.7 1.7 -1.7 1.7zM609.7 240.0l1.7 -1.7 1.7 1.7 -1.7 1.7zM605.3 244.5l1.7 -1.7 1.7 1.7 -1.7 1.7zM609.8 248.5l1.7 -1.7 1.7 1.7 -1.7 1.7zM605.1 253.0l1.7 -1.7 1.7 1.7 -1.7 1.7zM610.0 257.0l1.7 -1.7 1.7 1.7 -1.7 1.7zM604.9 261.5l1.7 -1.7 1.7 1.7 -1.7 1.7zM610.2 265.5l1.7 -1.7 1.7 1.7 -1.7 1.7zM604.6 270.0l1.7 -1.7 1.7 1.7 -1.7 1.7zM610.5 274.0l1.7 -1.7 1.7 1.7 -1.7 1.7zM604.2 278.5l1.7 -1.7 1.7 1.7 -1.7 1.7zM610.9 282.5l1.7 -1.7 1.7 1.7 -1.7 1.7zM603.4 287.0l1.7 -1.7 1.7 1.7 -1.7 1.7zM611.7 291.0l1.7 -1.7 1.7 1.7 -1.7 1.7zM601.3 295.5l1.7 -1.7 1.7 1.7 -1.7 1.7zM613.8 299.5l1.7 -1.7 1.7 1.7 -1.7 1.7z" fill="none" stroke="#000" stroke-width="1.0"/>
<path d="M609.6 83.5V292" stroke="#f00" stroke-width="1.5" stroke-linecap="round" fill="none"/>
<path d="M610.3 302.3V339.5M687.4 323.9V339.5M693.8 319.8V339.5M698.3 323.9V339.5M760.7 317.1V339.5M785.4 325V339.5M796.7 320.8V339.5M804.6 320.8V339.5M847.5 325V339.5M850.8 321.9V339.5M885.8 322.9V339.5M894.6 322.9V339.5M916 325V339.5M921.6 321.9V339.5M926.7 323.9V339.5M940.7 325V339.5M952.4 325V339.5M959.8 325V339.5M962.3 323.9V339.5M965.4 325V339.5" stroke="#0f0" stroke-width="1.1" fill="none"/>
<path d="M623.9 306.8V339.5M682.1 317.5V339.5M702.5 324.9V339.5M715.4 321.9V339.5M733.7 323.7V339.5M799.2 315.7V339.5M813.2 321.9V339.5M858 325V339.5M866.9 325V339.5M887.2 322.9V339.5M891.3 323.9V339.5M906.2 325V339.5M917.3 325V339.5M928.8 325V339.5" stroke="#111" stroke-width="1.0" fill="none"/>
<path d="M582 403.8V413Q582.2 416.4 585.5 416.4H770.6Q774.2 416.4 774.2 428.4Q774.2 416.4 777.8 416.4H963.4Q966.7 416.4 966.8 413V403.8" fill="none" stroke="#74a7dc" stroke-width="1.15"/>
<path d="M546 501.8L546.6 492.6Q546.8 489.3 550 489.3H770.6Q774.2 489.3 774.2 477.4Q774.2 489.3 777.8 489.3H998.8Q1002 489.3 1002.2 492.6L1002.8 501.8" fill="none" stroke="#74a7dc" stroke-width="1.15"/>
<rect x="741.6" y="431.1" width="66.6" height="41.3" fill="#000"/>
<text x="752.3" y="460" font-size="22.5" font-weight="bold" fill="#ffb800" textLength="45.6" lengthAdjust="spacingAndGlyphs" font-family="'Liberation Sans',sans-serif">TiO<tspan dy="4.5" font-size="14.5">2</tspan></text>
<rect x="537.6" y="506.3" width="226.9" height="199.4" fill="#fff" stroke="#000" stroke-width="2"/>
<rect x="770.5" y="506.3" width="185.7" height="199.4" fill="#fff" stroke="#000" stroke-width="2"/>
<g><path d="M611.6 523.3L552.8 556.8M611.6 523.3L740.1 596.4M552.8 556.8L560.5 620.8M560.5 620.8L688.3 694.5M688.3 694.5L747.7 661.9M740.1 596.4L747.7 661.9M611.6 523.3L618.3 586.4M618.3 586.4L560.5 620.8M618.3 586.4L747.7 661.9M680.7 629.0L740.1 596.4M680.7 629.0L688.3 694.5M552.8 556.8L680.7 629.0" stroke="#d9d9d9" stroke-width="0.9" fill="none"/>
<path d="M553.4 563.5L559.2 615.3" stroke="#22c050" stroke-width="1.2"/>
<path d="M566.5 617.4L618.3 589.4" stroke="#f03030" stroke-width="0.9"/>
<path d="M592.4 640.6L656.4 677.1" stroke="#5a5af0" stroke-width="1.1"/>
<path d="M583.3 572.6L651.8 610.7" stroke="#9a9ea0" stroke-width="2.2"/>
<path d="M611.6 523.3L624.5 530.9" stroke="#8c9092" stroke-width="3.4"/><path d="M624.5 530.9L637.5 538.5" stroke="#d40000" stroke-width="3.4"/>
<path d="M552.8 556.8L564.3 561.7" stroke="#8c9092" stroke-width="3.4"/><path d="M564.3 561.7L575.7 566.6" stroke="#d40000" stroke-width="3.4"/>
<path d="M575.7 566.6L578.0 568.8" stroke="#d40000" stroke-width="3.4"/><path d="M578.0 568.8L580.2 571.1" stroke="#d40000" stroke-width="3.4"/>
<path d="M580.2 571.1L587.9 573.4" stroke="#d40000" stroke-width="3.4"/><path d="M587.9 573.4L595.5 575.7" stroke="#d40000" stroke-width="3.4"/>
<path d="M595.5 575.7L597.8 578.4" stroke="#d40000" stroke-width="3.4"/><path d="M597.8 578.4L600.0 581.2" stroke="#8c9092" stroke-width="3.4"/>
<path d="M604.0 551.3L610.1 552.6" stroke="#d40000" stroke-width="3.4"/><path d="M610.1 552.6L616.2 553.8" stroke="#8c9092" stroke-width="3.4"/>
<path d="M616.2 553.8L618.0 557.1" stroke="#8c9092" stroke-width="3.4"/><path d="M618.0 557.1L619.8 560.5" stroke="#d40000" stroke-width="3.4"/>
<path d="M619.8 560.5L625.9 562.8" stroke="#d40000" stroke-width="3.4"/><path d="M625.9 562.8L632.0 565.0" stroke="#8c9092" stroke-width="3.4"/>
<path d="M632.0 565.0L637.3 567.3" stroke="#8c9092" stroke-width="3.4"/><path d="M637.3 567.3L642.7 569.6" stroke="#d40000" stroke-width="3.4"/>
<path d="M642.7 569.6L644.2 572.6" stroke="#d40000" stroke-width="3.4"/><path d="M644.2 572.6L645.7 575.7" stroke="#8c9092" stroke-width="3.4"/>
<path d="M645.7 575.7L652.6 578.0" stroke="#8c9092" stroke-width="3.4"/><path d="M652.6 578.0L659.4 580.3" stroke="#d40000" stroke-width="3.4"/>
<path d="M659.4 580.3L666.0 586.4" stroke="#d40000" stroke-width="3.4"/><path d="M666.0 586.4L672.5 592.4" stroke="#d40000" stroke-width="3.4"/>
<path d="M555.9 589.4L561.2 591.7" stroke="#8c9092" stroke-width="3.4"/><path d="M561.2 591.7L566.5 594.0" stroke="#d40000" stroke-width="3.4"/>
<path d="M566.5 594.0L574.9 599.0" stroke="#d40000" stroke-width="3.4"/><path d="M574.9 599.0L583.3 604.0" stroke="#d40000" stroke-width="3.4"/>
<path d="M618.3 586.4L621.4 589.4" stroke="#8c9092" stroke-width="3.4"/><path d="M621.4 589.4L624.4 592.4" stroke="#d40000" stroke-width="3.4"/>
<path d="M624.4 592.4L627.4 595.5" stroke="#d40000" stroke-width="3.4"/><path d="M627.4 595.5L630.5 598.5" stroke="#d40000" stroke-width="3.4"/>
<path d="M630.5 598.5L638.1 600.1" stroke="#d40000" stroke-width="3.4"/><path d="M638.1 600.1L645.7 601.6" stroke="#d40000" stroke-width="3.4"/>
<path d="M645.7 601.6L648.0 604.6" stroke="#d40000" stroke-width="3.4"/><path d="M648.0 604.6L650.3 607.7" stroke="#8c9092" stroke-width="3.4"/>
<path d="M650.3 607.7L652.3 611.2" stroke="#8c9092" stroke-width="3.4"/><path d="M652.3 611.2L654.2 614.7" stroke="#d40000" stroke-width="3.4"/>
<path d="M654.2 614.7L662.9 616.5" stroke="#d40000" stroke-width="3.4"/><path d="M662.9 616.5L671.6 618.3" stroke="#d40000" stroke-width="3.4"/>
<path d="M671.6 618.3L676.2 623.7" stroke="#d40000" stroke-width="3.4"/><path d="M676.2 623.7L680.7 629.0" stroke="#8c9092" stroke-width="3.4"/>
<path d="M560.5 620.8L573.7 629.0" stroke="#8c9092" stroke-width="3.4"/><path d="M573.7 629.0L586.9 637.2" stroke="#d40000" stroke-width="3.4"/>
<path d="M627.4 625.9L635.1 631.3" stroke="#d40000" stroke-width="3.4"/><path d="M635.1 631.3L642.7 636.6" stroke="#d40000" stroke-width="3.4"/>
<path d="M642.7 636.6L648.8 638.1" stroke="#d40000" stroke-width="3.4"/><path d="M648.8 638.1L654.8 639.6" stroke="#8c9092" stroke-width="3.4"/>
<path d="M654.8 639.6L656.4 642.7" stroke="#8c9092" stroke-width="3.4"/><path d="M656.4 642.7L657.9 645.7" stroke="#d40000" stroke-width="3.4"/>
<path d="M657.9 645.7L664.0 648.0" stroke="#d40000" stroke-width="3.4"/><path d="M664.0 648.0L670.1 650.3" stroke="#8c9092" stroke-width="3.4"/>
<path d="M670.1 650.3L676.2 652.6" stroke="#8c9092" stroke-width="3.4"/><path d="M676.2 652.6L682.3 654.9" stroke="#d40000" stroke-width="3.4"/>
<path d="M682.3 654.9L683.5 658.7" stroke="#d40000" stroke-width="3.4"/><path d="M683.5 658.7L684.7 662.5" stroke="#8c9092" stroke-width="3.4"/>
<path d="M684.7 662.5L690.3 665.5" stroke="#8c9092" stroke-width="3.4"/><path d="M690.3 665.5L696.0 668.6" stroke="#d40000" stroke-width="3.4"/>
<path d="M662.5 679.2L675.4 686.8" stroke="#d40000" stroke-width="3.4"/><path d="M675.4 686.8L688.3 694.5" stroke="#8c9092" stroke-width="3.4"/>
<path d="M712.7 581.8L726.4 589.1" stroke="#d40000" stroke-width="3.4"/><path d="M726.4 589.1L740.1 596.4" stroke="#8c9092" stroke-width="3.4"/>
<path d="M715.7 614.7L723.4 619.8" stroke="#d40000" stroke-width="3.4"/><path d="M723.4 619.8L731.0 625.0" stroke="#d40000" stroke-width="3.4"/>
<path d="M731.0 625.0L737.5 627.0" stroke="#d40000" stroke-width="3.4"/><path d="M737.5 627.0L744.1 629.0" stroke="#8c9092" stroke-width="3.4"/>
<path d="M697.5 635.1L700.2 637.8" stroke="#8c9092" stroke-width="3.4"/><path d="M700.2 637.8L703.0 640.6" stroke="#d40000" stroke-width="3.4"/>
<path d="M703.0 640.6L711.6 642.8" stroke="#d40000" stroke-width="3.4"/><path d="M711.6 642.8L720.3 645.1" stroke="#d40000" stroke-width="3.4"/>
<path d="M720.3 645.1L722.6 648.2" stroke="#d40000" stroke-width="3.4"/><path d="M722.6 648.2L724.9 651.2" stroke="#d40000" stroke-width="3.4"/>
<path d="M724.9 651.2L736.3 656.5" stroke="#d40000" stroke-width="3.4"/><path d="M736.3 656.5L747.7 661.9" stroke="#8c9092" stroke-width="3.4"/>
<circle cx="611.6" cy="523.3" r="9.0" fill="url(#gTi)"/>
<circle cx="637.5" cy="538.5" r="7.4" fill="url(#gO)"/>
<circle cx="552.8" cy="556.8" r="9.0" fill="url(#gTi)"/>
<circle cx="604.0" cy="551.3" r="7.4" fill="url(#gO)"/>
<circle cx="616.2" cy="553.8" r="9.0" fill="url(#gTiL)"/>
<circle cx="575.7" cy="566.6" r="7.4" fill="url(#gO)"/>
<circle cx="619.8" cy="560.5" r="7.4" fill="url(#gO)"/>
<circle cx="580.2" cy="571.1" r="7.4" fill="url(#gO)"/>
<circle cx="632.0" cy="565.0" r="9.0" fill="url(#gTi)"/>
<circle cx="595.5" cy="575.7" r="7.4" fill="url(#gO)"/>
<circle cx="642.7" cy="569.6" r="7.4" fill="url(#gO)"/>
<circle cx="555.9" cy="589.4" r="9.0" fill="url(#gTi)"/>
<circle cx="600.0" cy="581.2" r="9.0" fill="url(#gTi)"/>
<circle cx="645.7" cy="575.7" r="9.0" fill="url(#gTi)"/>
<circle cx="566.5" cy="594.0" r="7.4" fill="url(#gO)"/>
<circle cx="618.3" cy="586.4" r="9.0" fill="url(#gTiL)"/>
<circle cx="659.4" cy="580.3" r="7.4" fill="url(#gO)"/>
<circle cx="624.4" cy="592.4" r="7.4" fill="url(#gO)"/>
<circle cx="583.3" cy="604.0" r="7.4" fill="url(#gO)"/>
<circle cx="712.7" cy="581.8" r="7.4" fill="url(#gO)"/>
<circle cx="630.5" cy="598.5" r="7.4" fill="url(#gO)"/>
<circle cx="672.5" cy="592.4" r="7.4" fill="url(#gO)"/>
<circle cx="645.7" cy="601.6" r="7.4" fill="url(#gO)"/>
<circle cx="560.5" cy="620.8" r="9.0" fill="url(#gTiL)"/>
<circle cx="650.3" cy="607.7" r="9.0" fill="url(#gTi)"/>
<circle cx="740.1" cy="596.4" r="9.0" fill="url(#gTi)"/>
<circle cx="654.2" cy="614.7" r="7.4" fill="url(#gO)"/>
<circle cx="627.4" cy="625.9" r="7.4" fill="url(#gO)"/>
<circle cx="671.6" cy="618.3" r="7.4" fill="url(#gO)"/>
<circle cx="586.9" cy="637.2" r="7.4" fill="url(#gO)"/>
<circle cx="715.7" cy="614.7" r="7.4" fill="url(#gO)"/>
<circle cx="680.7" cy="629.0" r="9.0" fill="url(#gTi)"/>
<circle cx="642.7" cy="636.6" r="7.4" fill="url(#gO)"/>
<circle cx="654.8" cy="639.6" r="9.0" fill="url(#gTiL)"/>
<circle cx="731.0" cy="625.0" r="7.4" fill="url(#gO)"/>
<circle cx="697.5" cy="635.1" r="9.0" fill="url(#gTiL)"/>
<circle cx="657.9" cy="645.7" r="7.4" fill="url(#gO)"/>
<circle cx="744.1" cy="629.0" r="9.0" fill="url(#gTi)"/>
<circle cx="703.0" cy="640.6" r="7.4" fill="url(#gO)"/>
<circle cx="670.1" cy="650.3" r="9.0" fill="url(#gTi)"/>
<circle cx="720.3" cy="645.1" r="7.4" fill="url(#gO)"/>
<circle cx="682.3" cy="654.9" r="7.4" fill="url(#gO)"/>
<circle cx="724.9" cy="651.2" r="7.4" fill="url(#gO)"/>
<circle cx="684.7" cy="662.5" r="9.0" fill="url(#gTi)"/>
<circle cx="696.0" cy="668.6" r="7.4" fill="url(#gO)"/>
<circle cx="747.7" cy="661.9" r="9.0" fill="url(#gTi)"/>
<circle cx="662.5" cy="679.2" r="7.4" fill="url(#gO)"/>
<circle cx="688.3" cy="694.5" r="9.0" fill="url(#gTi)"/></g>
<text x="673" y="534.6" font-size="19.4" fill="#111" font-family="'Liberation Sans',sans-serif">anatase</text>
<g><path d="M793.9 537.0L914.8 523.0M793.9 537.0L793.9 645.1M793.9 537.0L810.7 581.8M914.8 523.0L932.5 566.6M932.5 566.6L932.5 674.0M810.7 581.8L810.7 688.4M793.9 645.1L811.3 688.4M811.3 688.4L932.5 674.0M810.7 581.8L932.5 566.6M914.8 629.9L932.5 674.0M793.9 645.1L914.8 629.9" stroke="#dcdcdc" stroke-width="0.9" fill="none"/>
<path d="M914.8 531.5L914.8 621.4" stroke="#f03030" stroke-width="0.9"/>
<path d="M835.0 641.2L905.7 632.0" stroke="#22d060" stroke-width="1.2"/>
<path d="M917.3 637.5L929.4 663.1" stroke="#5a5af0" stroke-width="1.0"/>
<path d="M793.9 537.0L812.2 551.5" stroke="#8c9092" stroke-width="5.2"/><path d="M812.2 551.5L830.5 566.0" stroke="#d40000" stroke-width="5.2"/>
<path d="M864.0 606.1L847.2 586.0" stroke="#8c9092" stroke-width="5.2"/><path d="M847.2 586.0L830.5 566.0" stroke="#d40000" stroke-width="5.2"/>
<path d="M914.8 523.0L907.4 546.0" stroke="#8c9092" stroke-width="5.2"/><path d="M907.4 546.0L899.9 569.0" stroke="#d40000" stroke-width="5.2"/>
<path d="M932.5 566.6L916.2 567.8" stroke="#8c9092" stroke-width="5.2"/><path d="M916.2 567.8L899.9 569.0" stroke="#d40000" stroke-width="5.2"/>
<path d="M864.0 606.1L881.9 587.6" stroke="#8c9092" stroke-width="5.2"/><path d="M881.9 587.6L899.9 569.0" stroke="#d40000" stroke-width="5.2"/>
<path d="M810.7 581.8L829.7 595.9" stroke="#8c9092" stroke-width="5.2"/><path d="M829.7 595.9L848.7 610.1" stroke="#d40000" stroke-width="5.2"/>
<path d="M864.0 606.1L856.4 608.1" stroke="#8c9092" stroke-width="5.2"/><path d="M856.4 608.1L848.7 610.1" stroke="#d40000" stroke-width="5.2"/>
<path d="M864.0 606.1L872.0 604.6" stroke="#8c9092" stroke-width="5.2"/><path d="M872.0 604.6L880.1 603.1" stroke="#d40000" stroke-width="5.2"/>
<path d="M914.8 629.9L897.5 616.5" stroke="#8c9092" stroke-width="5.2"/><path d="M897.5 616.5L880.1 603.1" stroke="#d40000" stroke-width="5.2"/>
<path d="M864.0 606.1L880.0 625.6" stroke="#8c9092" stroke-width="5.2"/><path d="M880.0 625.6L895.9 645.1" stroke="#d40000" stroke-width="5.2"/>
<path d="M932.5 674.0L914.2 659.6" stroke="#8c9092" stroke-width="5.2"/><path d="M914.2 659.6L895.9 645.1" stroke="#d40000" stroke-width="5.2"/>
<path d="M793.9 645.1L810.4 644.2" stroke="#8c9092" stroke-width="5.2"/><path d="M810.4 644.2L826.8 643.3" stroke="#d40000" stroke-width="5.2"/>
<path d="M811.3 688.4L819.0 665.8" stroke="#8c9092" stroke-width="5.2"/><path d="M819.0 665.8L826.8 643.3" stroke="#d40000" stroke-width="5.2"/>
<path d="M826.8 643.3L848.7 610.1" stroke="#d40000" stroke-width="5.2"/>
<circle cx="793.9" cy="537.0" r="11.6" fill="url(#gTi)"/>
<circle cx="914.8" cy="523.0" r="11.6" fill="url(#gTi)"/>
<circle cx="932.5" cy="566.6" r="11.6" fill="url(#gTi)"/>
<circle cx="810.7" cy="581.8" r="11.6" fill="url(#gTi)"/>
<circle cx="830.5" cy="566.0" r="9.6" fill="url(#gO)"/>
<circle cx="899.9" cy="569.0" r="9.6" fill="url(#gO)"/>
<circle cx="793.9" cy="645.1" r="11.6" fill="url(#gTiL)"/>
<circle cx="811.3" cy="688.4" r="11.6" fill="url(#gTi)"/>
<circle cx="826.8" cy="643.3" r="9.6" fill="url(#gO)"/>
<circle cx="848.7" cy="610.1" r="9.6" fill="url(#gO)"/>
<circle cx="880.1" cy="603.1" r="9.6" fill="url(#gO)"/>
<circle cx="864.0" cy="606.1" r="11.6" fill="url(#gTi)"/>
<circle cx="914.8" cy="629.9" r="11.6" fill="url(#gTiL)"/>
<circle cx="895.9" cy="645.1" r="9.6" fill="url(#gO)"/>
<circle cx="932.5" cy="674.0" r="11.6" fill="url(#gTi)"/></g>
<text x="851" y="688.4" font-size="18.8" fill="#111" font-family="'Liberation Sans',sans-serif">rutile</text>
<text x="972.8" y="712.3" font-size="20" fill="#111" font-family="'Liberation Sans',sans-serif">(g)</text>
<circle cx="984" cy="533.2" r="20.8" fill="url(#lTi)"/>
<circle cx="984.9" cy="590.5" r="17.8" fill="url(#lO)"/>
<ellipse cx="995.5" cy="522.7" rx="3.6" ry="2.6" fill="#fff" opacity="0.9" transform="rotate(40 995.5 522.7)" filter="url(#blh)"/>
<ellipse cx="994.5" cy="580.4" rx="3" ry="2.1" fill="#fff" opacity="0.9" transform="rotate(40 994.5 580.4)" filter="url(#blh)"/>
<text x="983" y="540.9" font-size="21.5" font-weight="bold" text-anchor="middle" fill="#ffb800" font-family="'Liberation Sans',sans-serif">Ti</text>
<text x="984.5" y="598" font-size="21.5" font-weight="bold" text-anchor="middle" fill="#ffb800" font-family="'Liberation Sans',sans-serif">O</text>
</svg></body></html>
